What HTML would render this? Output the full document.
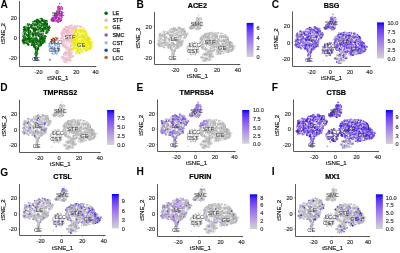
<!DOCTYPE html><html><head><meta charset="utf-8"><style>html,body{margin:0;padding:0;background:#fff;width:400px;height:253px;overflow:hidden}svg{display:block;will-change:transform}text{font-family:"Liberation Sans",sans-serif}</style></head><body>
<svg width="400" height="253" viewBox="0 0 400 253">
<defs>
<path id="nLE0" d="M-44 33h0M-42 33h0M-45 32h0M-43 34h0M-43 35h0M-47 34h0M-42 28h0M-43 29h0M-46 29h0M-45 24h0M-43 28h0M-42 28h0M-46 24h0M-46 18h0M-46 21h0M-47 22h0M-49 19h0M-47 17h0M-46 22h0M-43 22h0M-40 22h0M-40 20h0M-52 13h0M-51 11h0M-44 18h0M-45 19h0M-46 20h0M-48 16h0M-46 16h0M-37 17h0M-33 12h0M-37 17h0M-34 13h0M-37 15h0M-34 12h0M-69 11h0M-63 11h0M-66 8h0M-68 10h0M-65 8h0M-62 14h0M-61 12h0M-61 15h0M-59 14h0M-60 13h0M-52 9h0M-54 10h0M-46 11h0M-46 14h0M-50 9h0M-50 11h0M-38 11h0M-39 9h0M-42 12h0M-43 10h0M-34 15h0M-28 9h0M-27 9h0M-31 8h0M-26 9h0M-71 8h0M-72 8h0M-65 9h0M-63 5h0M-64 6h0M-62 9h0M-63 5h0M-60 10h0M-60 10h0M-60 8h0M-56 7h0M-54 5h0M-53 11h0M-54 7h0M-54 8h0M-52 4h0M-54 5h0M-55 10h0M-55 6h0M-43 4h0M-44 8h0M-47 4h0M-45 9h0M-37 7h0M-36 7h0M-37 6h0M-35 9h0M-33 10h0M-34 10h0M-36 8h0M-27 6h0M-30 3h0M-31 4h0M-71 0h0M-70 7h0M-74 5h0M-69 5h0M-72 6h0M-71 2h0M-69 4h0M-69 6h0M-67 3h0M-65 2h0M-60 4h0M-62 3h0M-61 1h0M-60 2h0M-63 1h0M-54 1h0M-53 1h0M-55 -1h0M-47 1h0M-47 1h0M-45 5h0M-44 1h0M-45 1h0M-43 2h0M-43 1h0M-33 0h0M-34 -2h0M-37 -1h0M-32 2h0M-32 -2h0M-36 3h0M-30 2h0M-36 0h0M-33 0h0M-30 -1h0M-35 4h0M-28 0h0M-70 -3h0M-71 -3h0M-62 -3h0M-63 -5h0M-58 -6h0M-59 -7h0M-59 -7h0M-57 -3h0M-61 -5h0M-51 -5h0M-51 -2h0M-50 -4h0M-51 -3h0M-51 -4h0M-47 -6h0M-47 -7h0M-43 -7h0M-43 -6h0M-46 -9h0M-39 -8h0M-38 -5h0M-39 -5h0M-30 -2h0M-32 -1h0M-35 -2h0M-28 -2h0M-32 -1h0M-30 -4h0M-30 1h0M-30 -1h0M-69 -8h0M-69 -11h0M-70 -13h0M-68 -10h0M-68 -10h0M-64 -7h0M-65 -5h0M-68 -8h0M-57 -14h0M-57 -14h0M-55 -12h0M-61 -11h0M-60 -13h0M-59 -10h0M-53 -6h0M-51 -8h0M-51 -7h0M-53 -6h0M-48 -6h0M-49 -12h0M-47 -6h0M-51 -7h0M-46 -11h0M-49 -8h0M-51 -12h0M-51 -9h0M-51 -6h0M-47 -12h0M-47 -7h0M-48 -12h0M-43 -10h0M-39 -9h0M-39 -8h0M-39 -6h0M-37 -5h0M-37 -5h0M-39 -6h0M-38 -8h0M-37 -8h0M-38 -9h0M-30 -8h0M-30 -8h0M-33 -8h0M-24 -9h0M-20 -11h0M-22 -11h0M-24 -12h0M-22 -10h0M-25 -10h0M-69 -17h0M-70 -15h0M-67 -15h0M-58 -13h0M-58 -11h0M-60 -15h0M-57 -14h0M-58 -14h0M-47 -18h0M-46 -16h0M-51 -18h0M-47 -17h0M-47 -16h0M-50 -14h0M-51 -19h0M-50 -18h0M-50 -16h0M-49 -13h0M-48 -17h0M-47 -13h0M-48 -16h0M-29 -14h0M-32 -16h0M-33 -13h0M-31 -16h0M-21 -14h0M-20 -17h0M-22 -15h0M-61 -19h0M-63 -17h0M-59 -18h0M-58 -20h0M-61 -19h0M-60 -20h0M-52 -20h0M-53 -19h0M-49 -20h0M-47 -16h0M-50 -17h0M-46 -19h0M-45 -19h0M-46 -16h0M-42 -21h0M-43 -17h0M-44 -18h0M-35 -18h0M-36 -15h0M-35 -17h0M-27 -21h0M-29 -21h0M-32 -20h0M-29 -18h0M-31 -17h0M-21 -17h0M-22 -22h0M-26 -18h0M-25 -20h0M-15 -21h0M-16 -22h0M-19 -21h0M-18 -18h0M-21 -19h0M-21 -21h0M-71 -22h0M-68 -22h0M-70 -20h0M-60 -26h0M-62 -28h0M-53 -25h0M-55 -26h0M-47 -26h0M-49 -26h0M-47 -27h0M-37 -21h0M-37 -24h0M-32 -23h0M-34 -23h0M-35 -22h0M-28 -24h0M-27 -27h0M-25 -26h0M-26 -27h0M-43 -28h0M-44 -27h0M-49 -26h0M-48 -25h0M-46 -29h0M-48 -26h0M-48 -25h0M-48 -28h0M-48 -26h0M-45 -25h0M-45 -31h0M-41 -29h0M-37 -31h0M-43 -33h0M-40 -30h0M-36 -28h0M-36 -31h0M-29 -26h0M-32 -26h0M-30 -26h0M-33 -28h0M-24 -25h0M-22 -28h0M-21 -28h0M-27 -31h0M-47 -31h0M-47 -32h0M-52 -30h0M-48 -32h0M-42 -37h0M-44 -32h0M-41 -35h0M-45 -35h0M-45 -31h0M-43 -33h0M-42 -37h0M-41 -32h0M-41 -31h0M-32 -34h0M-33 -35h0M-27 -35h0M-23 -35h0M-26 -30h0M-23 -31h0M-33 -39h0M-30 -37h0M-31 -38h0M-39 -37h0M-68 -14h0M-52 2h0M-32 -28h0M-54 9h0M-30 5h0M-37 4h0M-49 5h0M-52 5h0M-50 2h0M-35 -33h0M-35 11h0M-21 -26h0M-37 -16h0M-69 3h0M-43 30h0M-20 -23h0M-44 -2h0M-70 6h0M-68 -21h0M-49 7h0M-30 -29h0M-47 4h0M-42 -8h0M-22 -15h0M-65 9h0M-41 23h0M-44 34h0M-44 36h0M-43 33h0M-43 33h0M-43 29h0M-42 28h0M-43 37h0M-43 28h0M-40 21h0"/>
<path id="dLE0" d="M-45 29h0M-44 31h0M-49 17h0M-53 12h0M-49 12h0M-48 19h0M-36 12h0M-69 11h0M-70 11h0M-63 11h0M-39 16h0M-33 11h0M-70 8h0M-57 9h0M-54 8h0M-42 8h0M-45 7h0M-39 6h0M-39 9h0M-26 5h0M-71 0h0M-71 5h0M-63 3h0M-62 3h0M-59 1h0M-63 3h0M-47 3h0M-46 6h0M-44 4h0M-43 4h0M-36 1h0M-34 2h0M-25 -2h0M-26 1h0M-60 -3h0M-35 -5h0M-38 -8h0M-36 -5h0M-31 0h0M-32 -2h0M-30 -4h0M-66 -9h0M-60 -11h0M-61 -12h0M-56 -13h0M-53 -6h0M-52 -9h0M-50 -9h0M-43 -10h0M-36 -7h0M-36 -5h0M-22 -12h0M-68 -19h0M-67 -17h0M-67 -14h0M-60 -15h0M-50 -16h0M-49 -16h0M-34 -15h0M-33 -13h0M-32 -15h0M-18 -17h0M-22 -13h0M-18 -15h0M-65 -19h0M-62 -17h0M-36 -20h0M-24 -20h0M-23 -22h0M-19 -18h0M-63 -26h0M-58 -26h0M-53 -23h0M-49 -28h0M-45 -29h0M-35 -22h0M-47 -26h0M-45 -27h0M-42 -35h0M-40 -29h0M-38 -31h0M-24 -32h0M-21 -28h0M-27 -29h0M-22 -26h0M-40 -36h0M-40 -30h0M-26 -35h0M-23 -35h0M-26 -34h0M-22 -14h0M-33 0h0M-63 -24h0M-28 -30h0M-40 19h0M-32 -4h0M-45 -8h0M-35 -30h0M-72 -6h0M-55 -24h0M-51 -9h0M-41 24h0M-42 26h0M-41 23h0M-44 34h0"/>
<path id="nLE1" d="M-46 35h0M-45 32h0M-45 31h0M-45 32h0M-44 32h0M-46 25h0M-46 24h0M-47 32h0M-46 31h0M-44 28h0M-43 26h0M-45 18h0M-46 19h0M-47 16h0M-43 21h0M-53 15h0M-55 15h0M-50 15h0M-53 15h0M-48 18h0M-40 17h0M-40 18h0M-34 15h0M-37 13h0M-37 15h0M-37 16h0M-35 14h0M-69 10h0M-71 9h0M-65 12h0M-66 8h0M-64 9h0M-62 13h0M-61 15h0M-53 9h0M-54 10h0M-54 12h0M-50 13h0M-48 9h0M-46 13h0M-47 11h0M-41 15h0M-42 13h0M-38 15h0M-40 15h0M-40 10h0M-37 13h0M-33 11h0M-28 8h0M-30 10h0M-31 12h0M-30 9h0M-28 6h0M-31 9h0M-73 5h0M-70 9h0M-71 7h0M-65 5h0M-64 9h0M-63 9h0M-64 8h0M-58 8h0M-59 7h0M-59 9h0M-54 10h0M-52 9h0M-53 6h0M-54 5h0M-55 6h0M-56 9h0M-51 7h0M-44 6h0M-41 8h0M-44 4h0M-41 6h0M-45 10h0M-44 7h0M-43 9h0M-35 6h0M-39 9h0M-40 7h0M-35 11h0M-34 7h0M-36 10h0M-35 8h0M-36 10h0M-27 5h0M-28 3h0M-70 7h0M-69 6h0M-69 6h0M-72 5h0M-71 5h0M-68 6h0M-73 5h0M-66 2h0M-66 0h0M-65 1h0M-65 3h0M-64 2h0M-67 0h0M-59 3h0M-58 4h0M-59 0h0M-57 2h0M-61 0h0M-59 1h0M-56 4h0M-62 1h0M-56 2h0M-55 2h0M-53 -1h0M-53 0h0M-47 1h0M-46 2h0M-42 5h0M-41 4h0M-45 4h0M-36 0h0M-35 -3h0M-34 -2h0M-29 1h0M-30 5h0M-33 1h0M-31 5h0M-33 2h0M-29 3h0M-33 2h0M-32 6h0M-31 3h0M-25 1h0M-25 -3h0M-27 -1h0M-28 0h0M-67 -3h0M-70 -2h0M-69 -4h0M-71 -4h0M-63 -4h0M-57 -4h0M-62 -5h0M-59 -2h0M-58 -6h0M-61 -5h0M-60 -3h0M-50 -5h0M-51 -2h0M-46 -4h0M-43 -10h0M-43 -7h0M-42 -5h0M-46 -8h0M-45 -5h0M-47 -8h0M-37 -3h0M-37 -4h0M-34 -2h0M-35 -2h0M-34 0h0M-31 -2h0M-26 -1h0M-30 0h0M-32 -3h0M-29 -1h0M-27 0h0M-69 -10h0M-70 -9h0M-64 -7h0M-69 -9h0M-60 -11h0M-57 -8h0M-60 -12h0M-57 -11h0M-59 -10h0M-58 -8h0M-55 -9h0M-55 -7h0M-53 -6h0M-53 -8h0M-51 -9h0M-47 -8h0M-52 -7h0M-48 -12h0M-50 -9h0M-52 -10h0M-49 -6h0M-47 -6h0M-40 -11h0M-38 -6h0M-41 -7h0M-40 -4h0M-39 -5h0M-36 -8h0M-38 -6h0M-36 -8h0M-35 -9h0M-37 -9h0M-30 -9h0M-33 -8h0M-34 -7h0M-34 -9h0M-31 -10h0M-30 -8h0M-32 -9h0M-23 -9h0M-23 -11h0M-70 -17h0M-66 -15h0M-64 -19h0M-65 -15h0M-66 -17h0M-63 -15h0M-61 -11h0M-61 -12h0M-51 -16h0M-48 -16h0M-46 -16h0M-49 -15h0M-44 -16h0M-48 -16h0M-30 -18h0M-31 -14h0M-34 -15h0M-34 -15h0M-30 -14h0M-31 -15h0M-29 -16h0M-27 -16h0M-30 -14h0M-17 -15h0M-22 -15h0M-21 -17h0M-63 -18h0M-64 -15h0M-63 -18h0M-62 -16h0M-62 -17h0M-58 -21h0M-58 -18h0M-63 -21h0M-54 -23h0M-50 -19h0M-48 -17h0M-48 -19h0M-43 -18h0M-38 -19h0M-38 -18h0M-40 -16h0M-39 -17h0M-42 -21h0M-35 -17h0M-36 -18h0M-38 -16h0M-34 -19h0M-29 -17h0M-29 -22h0M-27 -19h0M-30 -17h0M-29 -18h0M-31 -17h0M-32 -20h0M-23 -20h0M-25 -19h0M-23 -22h0M-22 -18h0M-24 -23h0M-20 -21h0M-21 -20h0M-20 -19h0M-20 -20h0M-17 -20h0M-21 -22h0M-17 -22h0M-67 -23h0M-68 -22h0M-69 -20h0M-61 -25h0M-63 -28h0M-62 -28h0M-61 -24h0M-56 -26h0M-55 -23h0M-55 -26h0M-48 -28h0M-47 -26h0M-51 -26h0M-39 -24h0M-38 -22h0M-36 -23h0M-27 -27h0M-44 -25h0M-42 -26h0M-46 -28h0M-48 -26h0M-45 -30h0M-48 -24h0M-41 -28h0M-42 -32h0M-39 -32h0M-41 -32h0M-43 -31h0M-40 -33h0M-42 -28h0M-41 -31h0M-43 -34h0M-38 -31h0M-35 -32h0M-39 -31h0M-33 -28h0M-33 -28h0M-29 -29h0M-32 -28h0M-25 -29h0M-23 -30h0M-24 -27h0M-26 -28h0M-28 -27h0M-24 -25h0M-23 -30h0M-24 -32h0M-21 -28h0M-49 -31h0M-48 -33h0M-51 -29h0M-47 -31h0M-45 -33h0M-44 -32h0M-41 -36h0M-41 -34h0M-38 -34h0M-30 -33h0M-31 -33h0M-29 -33h0M-31 -36h0M-33 -35h0M-31 -35h0M-27 -32h0M-24 -32h0M-25 -28h0M-28 -34h0M-25 -30h0M-26 -29h0M-25 -32h0M-33 -35h0M-33 -39h0M-34 -36h0M-31 -37h0M-31 -36h0M-32 -14h0M-38 14h0M-66 -13h0M-25 -22h0M-60 -15h0M-49 -17h0M-71 12h0M-45 -29h0M-45 -35h0M-36 16h0M-59 -27h0M-43 23h0M-24 -33h0M-31 -4h0M-36 -39h0M-34 -26h0M-40 -20h0M-46 -8h0M-36 13h0M-64 10h0M-49 -24h0M-26 -35h0M-21 -10h0M-23 -25h0M-32 -6h0M-38 3h0M-49 4h0M-39 -4h0M-48 -27h0M-56 -21h0M-40 -22h0M-64 -12h0M-32 7h0M-40 22h0M-39 20h0M-42 24h0M-41 32h0M-43 30h0M-40 21h0M-41 32h0M-41 22h0M-42 31h0"/>
<path id="dLE1" d="M-43 29h0M-50 17h0M-49 13h0M-52 12h0M-53 15h0M-53 14h0M-67 10h0M-66 9h0M-66 8h0M-48 14h0M-48 11h0M-37 13h0M-36 13h0M-43 13h0M-35 16h0M-27 6h0M-42 5h0M-38 7h0M-38 6h0M-34 7h0M-73 6h0M-72 3h0M-67 0h0M-58 -1h0M-58 2h0M-43 1h0M-34 3h0M-36 2h0M-27 -2h0M-27 -4h0M-38 -3h0M-39 -3h0M-30 -1h0M-33 0h0M-71 -12h0M-52 -8h0M-38 -5h0M-36 -7h0M-42 -4h0M-42 -9h0M-38 -7h0M-70 -16h0M-71 -17h0M-66 -20h0M-58 -11h0M-49 -17h0M-50 -19h0M-47 -17h0M-32 -18h0M-34 -13h0M-29 -14h0M-20 -17h0M-18 -14h0M-64 -18h0M-64 -17h0M-61 -18h0M-63 -18h0M-59 -19h0M-61 -16h0M-56 -22h0M-51 -21h0M-46 -17h0M-46 -20h0M-40 -19h0M-28 -18h0M-21 -23h0M-26 -19h0M-19 -21h0M-20 -23h0M-54 -23h0M-55 -26h0M-45 -26h0M-43 -26h0M-45 -25h0M-36 -23h0M-29 -25h0M-40 -34h0M-38 -32h0M-37 -30h0M-22 -29h0M-21 -27h0M-24 -31h0M-22 -27h0M-50 -29h0M-51 -33h0M-47 -33h0M-48 -34h0M-43 -37h0M-42 -37h0M-41 -31h0M-43 -34h0M-21 -34h0M-24 -32h0M-30 -35h0M-31 -37h0M-17 -24h0M-45 -14h0M-44 31h0M-49 10h0M-65 -6h0M-27 -35h0M-41 20h0M-38 -31h0M-43 35h0M-40 22h0M-42 28h0M-45 38h0M-44 35h0"/>
<path id="nLE2" d="M-44 32h0M-44 29h0M-45 34h0M-43 31h0M-43 26h0M-45 28h0M-46 30h0M-48 16h0M-49 16h0M-44 22h0M-42 22h0M-43 22h0M-52 11h0M-53 14h0M-52 13h0M-54 15h0M-54 13h0M-51 14h0M-48 18h0M-47 17h0M-46 17h0M-46 19h0M-38 16h0M-37 15h0M-39 16h0M-37 16h0M-36 12h0M-36 12h0M-33 15h0M-68 10h0M-69 9h0M-70 10h0M-71 10h0M-70 8h0M-69 12h0M-66 11h0M-64 9h0M-66 9h0M-54 12h0M-52 10h0M-52 11h0M-50 9h0M-47 11h0M-50 12h0M-48 11h0M-36 11h0M-43 11h0M-38 10h0M-42 11h0M-36 13h0M-40 13h0M-43 13h0M-41 11h0M-36 12h0M-35 15h0M-33 13h0M-33 13h0M-33 12h0M-26 7h0M-28 8h0M-29 9h0M-30 10h0M-28 9h0M-70 6h0M-72 10h0M-72 7h0M-66 7h0M-65 9h0M-65 8h0M-58 9h0M-57 9h0M-60 8h0M-50 8h0M-51 6h0M-51 6h0M-54 11h0M-53 10h0M-52 10h0M-49 9h0M-45 10h0M-47 5h0M-45 9h0M-44 10h0M-47 9h0M-42 6h0M-46 6h0M-46 5h0M-37 7h0M-40 8h0M-39 9h0M-34 11h0M-37 8h0M-33 7h0M-27 5h0M-30 4h0M-30 3h0M-71 7h0M-68 5h0M-67 4h0M-71 1h0M-67 3h0M-64 1h0M-63 5h0M-68 1h0M-58 5h0M-58 -1h0M-59 6h0M-56 4h0M-58 6h0M-60 2h0M-61 5h0M-57 1h0M-55 1h0M-45 2h0M-46 4h0M-44 6h0M-44 1h0M-45 1h0M-47 3h0M-47 5h0M-34 0h0M-35 -2h0M-34 -3h0M-35 0h0M-36 1h0M-33 -1h0M-34 3h0M-29 3h0M-28 -1h0M-28 2h0M-28 -3h0M-26 1h0M-25 2h0M-25 -3h0M-26 1h0M-23 -3h0M-70 -4h0M-70 -5h0M-70 -1h0M-71 -3h0M-68 -2h0M-68 -3h0M-60 -7h0M-60 -5h0M-59 -4h0M-62 -5h0M-59 -3h0M-61 -3h0M-58 -5h0M-51 -4h0M-49 -2h0M-44 -5h0M-46 -4h0M-46 -4h0M-44 -9h0M-44 -5h0M-44 -8h0M-34 -3h0M-36 -9h0M-33 -5h0M-40 -5h0M-39 -5h0M-37 -9h0M-34 -6h0M-37 -2h0M-39 -9h0M-37 -4h0M-38 -6h0M-30 -2h0M-31 -4h0M-32 -5h0M-30 -4h0M-35 -5h0M-35 -1h0M-29 -5h0M-29 -3h0M-30 -2h0M-29 -5h0M-72 -10h0M-67 -11h0M-65 -6h0M-69 -7h0M-68 -6h0M-64 -7h0M-65 -4h0M-68 -8h0M-64 -6h0M-57 -10h0M-58 -10h0M-53 -10h0M-48 -8h0M-46 -12h0M-48 -8h0M-50 -6h0M-50 -7h0M-47 -13h0M-43 -6h0M-44 -6h0M-40 -6h0M-39 -8h0M-41 -6h0M-39 -4h0M-32 -10h0M-30 -8h0M-34 -6h0M-21 -10h0M-22 -10h0M-23 -12h0M-70 -15h0M-69 -18h0M-65 -20h0M-65 -14h0M-65 -16h0M-63 -16h0M-63 -16h0M-64 -16h0M-62 -16h0M-66 -16h0M-66 -19h0M-61 -12h0M-48 -20h0M-48 -20h0M-49 -16h0M-49 -17h0M-47 -15h0M-46 -16h0M-48 -13h0M-47 -13h0M-30 -14h0M-28 -16h0M-30 -13h0M-28 -13h0M-29 -13h0M-29 -16h0M-20 -12h0M-64 -19h0M-63 -17h0M-60 -20h0M-61 -20h0M-53 -19h0M-53 -20h0M-56 -22h0M-54 -20h0M-54 -23h0M-54 -22h0M-50 -17h0M-49 -16h0M-46 -20h0M-43 -19h0M-40 -16h0M-42 -17h0M-39 -20h0M-41 -16h0M-35 -20h0M-36 -15h0M-36 -18h0M-33 -18h0M-31 -19h0M-31 -18h0M-29 -17h0M-27 -22h0M-25 -16h0M-21 -21h0M-25 -22h0M-22 -23h0M-19 -19h0M-27 -20h0M-22 -20h0M-20 -20h0M-17 -23h0M-69 -22h0M-69 -20h0M-69 -23h0M-59 -28h0M-54 -22h0M-53 -25h0M-56 -22h0M-56 -22h0M-50 -25h0M-47 -28h0M-49 -25h0M-50 -25h0M-45 -24h0M-45 -24h0M-47 -26h0M-45 -27h0M-44 -24h0M-44 -28h0M-45 -24h0M-47 -26h0M-44 -26h0M-39 -22h0M-39 -23h0M-37 -23h0M-37 -21h0M-37 -24h0M-36 -23h0M-37 -26h0M-33 -25h0M-29 -24h0M-29 -24h0M-27 -27h0M-44 -24h0M-47 -30h0M-47 -28h0M-44 -25h0M-40 -32h0M-39 -33h0M-40 -34h0M-40 -27h0M-34 -31h0M-35 -30h0M-36 -32h0M-39 -31h0M-37 -32h0M-39 -33h0M-35 -32h0M-37 -28h0M-32 -25h0M-31 -28h0M-33 -29h0M-24 -30h0M-29 -26h0M-27 -29h0M-48 -30h0M-50 -33h0M-47 -33h0M-52 -29h0M-44 -33h0M-46 -34h0M-45 -32h0M-44 -34h0M-41 -34h0M-40 -33h0M-41 -32h0M-38 -32h0M-39 -34h0M-37 -34h0M-40 -31h0M-39 -32h0M-31 -33h0M-30 -34h0M-32 -33h0M-31 -36h0M-22 -31h0M-25 -33h0M-27 -32h0M-28 -34h0M-24 -35h0M-23 -29h0M-28 -32h0M-27 -32h0M-25 -30h0M-32 -38h0M-34 -38h0M-33 -38h0M-31 -36h0M-69 1h0M-53 8h0M-56 -22h0M-36 -31h0M-41 6h0M-27 -35h0M-66 -23h0M-61 -11h0M-46 27h0M-44 25h0M-25 -30h0M-43 3h0M-50 -32h0M-50 -16h0M-27 -1h0M-37 -11h0M-46 8h0M-36 -23h0M-28 -16h0M-45 -33h0M-35 -12h0M-57 9h0M-44 -32h0M-52 -4h0M-43 7h0M-44 32h0M-42 26h0M-45 36h0M-41 25h0M-39 23h0M-41 22h0M-44 39h0M-42 31h0M-44 35h0M-40 20h0"/>
<path id="dLE2" d="M-45 32h0M-40 21h0M-50 14h0M-48 19h0M-46 21h0M-33 12h0M-68 10h0M-61 13h0M-52 9h0M-49 11h0M-37 13h0M-30 11h0M-30 8h0M-72 8h0M-58 8h0M-50 7h0M-50 5h0M-42 6h0M-44 9h0M-41 7h0M-41 7h0M-35 8h0M-35 9h0M-33 6h0M-37 9h0M-29 5h0M-28 2h0M-71 7h0M-69 5h0M-63 2h0M-61 1h0M-44 1h0M-43 4h0M-43 4h0M-35 -3h0M-33 -2h0M-30 0h0M-34 4h0M-25 -5h0M-71 -4h0M-61 -7h0M-61 -3h0M-60 -5h0M-61 -1h0M-33 -7h0M-31 0h0M-32 -5h0M-34 0h0M-28 -5h0M-68 -8h0M-60 -9h0M-56 -10h0M-51 -6h0M-36 -6h0M-41 -6h0M-42 -11h0M-39 -10h0M-38 -5h0M-67 -17h0M-69 -16h0M-60 -15h0M-57 -14h0M-46 -15h0M-29 -12h0M-20 -12h0M-61 -22h0M-61 -21h0M-56 -22h0M-49 -16h0M-38 -18h0M-43 -15h0M-31 -17h0M-20 -18h0M-24 -18h0M-22 -18h0M-24 -21h0M-16 -19h0M-70 -21h0M-61 -25h0M-53 -26h0M-50 -28h0M-38 -20h0M-34 -25h0M-36 -22h0M-27 -26h0M-47 -26h0M-45 -27h0M-43 -32h0M-42 -29h0M-40 -35h0M-23 -27h0M-26 -29h0M-21 -29h0M-28 -25h0M-22 -26h0M-47 -34h0M-37 -32h0M-33 -35h0M-59 8h0M-42 -23h0M-33 -14h0M-73 -3h0M-43 27h0M-43 27h0M-41 23h0"/>
<path id="nSTF0" d="M18 48h0M14 45h0M14 49h0M13 48h0M14 47h0M17 43h0M13 48h0M17 46h0M14 46h0M18 41h0M18 43h0M17 42h0M19 45h0M20 43h0M24 46h0M24 46h0M9 40h0M13 40h0M13 37h0M10 41h0M10 39h0M20 42h0M21 43h0M17 42h0M16 42h0M21 45h0M20 43h0M19 44h0M28 37h0M25 36h0M30 39h0M28 35h0M17 34h0M17 31h0M19 31h0M20 36h0M18 35h0M24 36h0M29 34h0M29 30h0M26 32h0M28 32h0M26 33h0M32 36h0M34 36h0M30 36h0M34 36h0M33 37h0M14 31h0M14 31h0M23 31h0M23 28h0M24 32h0M22 30h0M21 30h0M21 31h0M23 31h0M31 32h0M29 32h0M28 30h0M26 31h0M26 28h0M27 31h0M28 30h0M24 25h0M21 26h0M25 25h0M27 23h0M25 25h0M25 22h0M31 25h0M31 21h0M18 19h0M20 19h0M18 16h0M16 19h0M20 21h0M18 22h0M28 21h0M27 23h0M30 22h0M29 25h0M29 23h0M11 13h0M13 18h0M13 17h0M11 13h0M11 16h0M14 11h0M29 16h0M29 15h0M28 16h0M14 12h0M15 8h0M15 12h0M15 11h0M14 7h0M12 11h0M11 9h0M9 11h0M10 9h0M11 12h0M24 7h0M25 9h0M26 6h0M28 9h0M29 6h0M28 7h0M9 -1h0M10 0h0M10 2h0M15 6h0M11 6h0M12 7h0M13 4h0M20 8h0M20 6h0M21 4h0M26 5h0M25 2h0M28 2h0M24 6h0M27 5h0M23 2h0M28 4h0M12 -3h0M10 2h0M10 -2h0M13 -1h0M19 0h0M25 -3h0M23 3h0M30 0h0M9 -6h0M7 -8h0M8 -9h0M10 -8h0M16 -8h0M9 -7h0M10 -8h0M17 -7h0M10 -6h0M12 -9h0M12 -4h0M24 -11h0M24 -5h0M21 -8h0M25 -10h0M21 -7h0M21 -8h0M26 -5h0M28 -6h0M25 -9h0M9 -8h0M11 -11h0M23 -11h0M22 -15h0M21 -13h0M20 -10h0M21 -10h0M23 -14h0M21 -12h0M21 -11h0M19 -12h0M24 -7h0M28 -13h0M31 -12h0M26 -15h0M29 -12h0M31 -12h0M29 -12h0M26 -13h0M17 -17h0M17 -15h0M16 -17h0M16 -14h0M16 -20h0M22 -19h0M18 -15h0M24 -17h0M18 -18h0M21 -21h0M26 -19h0M24 -17h0M23 -18h0M56 -19h0M18 -22h0M18 -22h0M26 -19h0M22 -21h0M27 -21h0M23 -19h0M23 -23h0M22 -23h0M24 -22h0M22 -23h0M33 -20h0M32 -22h0M32 -23h0M37 -24h0M36 -18h0M33 -20h0M36 -23h0M34 -21h0M39 -21h0M49 -23h0M25 -24h0M42 -23h0M36 -24h0M43 -25h0M48 -22h0M18 4h0M21 -13h0M18 17h0M20 26h0M27 -20h0M19 -10h0M24 37h0M29 -16h0M16 -5h0M27 2h0M8 -1h0M27 47h0M10 -4h0M10 2h0M29 5h0M19 4h0M25 -6h0"/>
<path id="dSTF0" d="M19 47h0M21 47h0M17 41h0M24 46h0M12 41h0M17 41h0M27 36h0M28 36h0M19 33h0M16 34h0M17 33h0M19 34h0M24 34h0M28 31h0M33 38h0M31 38h0M33 38h0M23 26h0M23 21h0M22 21h0M28 23h0M29 25h0M17 17h0M16 18h0M14 17h0M13 12h0M10 10h0M26 8h0M8 1h0M12 3h0M13 6h0M20 8h0M30 4h0M30 5h0M30 6h0M30 7h0M10 -2h0M19 1h0M23 1h0M23 -4h0M23 -5h0M22 -5h0M22 -6h0M25 -8h0M32 -4h0M13 -15h0M11 -15h0M23 -14h0M23 -14h0M25 -8h0M24 -11h0M23 -13h0M20 -13h0M26 -13h0M29 -12h0M16 -16h0M15 -13h0M17 -15h0M14 -16h0M17 -13h0M20 -21h0M18 -17h0M17 -23h0M26 -20h0M31 -23h0M33 -22h0M29 -22h0M42 -22h0M41 -24h0M41 -23h0M44 -24h0M15 39h0M23 2h0M22 -16h0M26 -1h0M25 -4h0M43 -24h0M12 0h0M28 -7h0M28 14h0"/>
<path id="nSTF1" d="M13 48h0M15 49h0M21 46h0M17 50h0M14 48h0M16 49h0M18 50h0M14 45h0M22 42h0M18 45h0M26 46h0M28 46h0M25 44h0M23 46h0M28 45h0M10 39h0M12 40h0M10 38h0M10 41h0M11 41h0M19 39h0M17 45h0M16 44h0M19 45h0M22 42h0M17 40h0M28 38h0M26 40h0M24 40h0M27 36h0M19 31h0M21 34h0M18 35h0M18 34h0M18 31h0M30 35h0M28 35h0M27 36h0M30 36h0M27 35h0M29 36h0M28 37h0M23 31h0M25 32h0M26 34h0M29 31h0M33 37h0M33 37h0M19 31h0M15 29h0M16 29h0M27 29h0M27 27h0M28 30h0M31 29h0M25 30h0M25 32h0M21 23h0M24 23h0M23 24h0M23 25h0M21 26h0M22 26h0M24 20h0M27 18h0M24 23h0M28 19h0M24 24h0M24 21h0M27 22h0M20 18h0M18 23h0M16 19h0M19 20h0M22 18h0M22 19h0M27 21h0M28 23h0M28 19h0M29 24h0M16 16h0M10 14h0M13 18h0M18 14h0M14 19h0M13 17h0M12 16h0M28 15h0M10 6h0M12 12h0M8 8h0M10 6h0M15 10h0M13 12h0M15 10h0M11 8h0M26 7h0M24 7h0M25 9h0M29 8h0M29 6h0M31 5h0M28 7h0M8 1h0M7 2h0M10 1h0M8 -1h0M12 3h0M14 4h0M20 6h0M22 6h0M23 4h0M18 3h0M23 6h0M26 3h0M23 4h0M26 4h0M27 2h0M13 0h0M11 2h0M11 1h0M22 0h0M19 -1h0M18 1h0M19 1h0M21 -1h0M22 0h0M22 1h0M25 2h0M20 0h0M21 3h0M27 0h0M26 -3h0M26 -1h0M24 1h0M20 0h0M24 -2h0M20 -3h0M30 1h0M32 1h0M31 -1h0M30 2h0M10 -7h0M16 -5h0M11 -6h0M15 -3h0M14 -3h0M14 -4h0M21 -7h0M24 -5h0M21 -8h0M25 -9h0M19 -8h0M21 -6h0M24 -6h0M28 -6h0M27 -5h0M22 -6h0M26 -5h0M23 -5h0M10 -7h0M9 -9h0M9 -9h0M9 -10h0M10 -11h0M12 -15h0M10 -13h0M13 -16h0M20 -15h0M20 -10h0M17 -11h0M20 -11h0M17 -13h0M20 -11h0M21 -10h0M20 -13h0M26 -11h0M19 -11h0M20 -9h0M23 -12h0M19 -10h0M20 -11h0M28 -12h0M25 -13h0M27 -10h0M29 -14h0M26 -10h0M16 -13h0M15 -17h0M19 -19h0M17 -15h0M18 -13h0M14 -14h0M19 -17h0M17 -14h0M21 -18h0M18 -18h0M24 -18h0M26 -17h0M27 -19h0M22 -17h0M24 -17h0M32 -15h0M33 -16h0M32 -18h0M31 -15h0M32 -14h0M37 -17h0M19 -22h0M18 -21h0M16 -19h0M17 -22h0M24 -23h0M26 -24h0M26 -23h0M28 -22h0M25 -22h0M26 -21h0M32 -22h0M30 -19h0M31 -22h0M33 -23h0M33 -20h0M39 -20h0M34 -20h0M36 -19h0M36 -21h0M37 -21h0M37 -22h0M38 -18h0M38 -19h0M41 -19h0M41 -21h0M37 -21h0M53 -21h0M30 -26h0M28 -25h0M32 -24h0M30 -23h0M29 -24h0M29 -25h0M38 -24h0M37 -22h0M40 -22h0M37 -22h0M41 -22h0M37 -22h0M29 5h0M14 -5h0M14 8h0M15 -15h0M12 38h0M18 0h0M20 11h0M16 -5h0M12 44h0M25 -11h0M12 -9h0M24 35h0M25 -5h0M23 43h0M26 37h0M18 46h0M26 40h0M18 18h0M25 -16h0M29 21h0M17 30h0M16 -11h0M31 -9h0"/>
<path id="dSTF1" d="M17 50h0M16 45h0M21 42h0M27 46h0M13 40h0M9 39h0M22 43h0M17 43h0M28 40h0M26 37h0M29 39h0M28 37h0M30 40h0M30 39h0M16 32h0M18 31h0M19 34h0M22 34h0M28 37h0M26 34h0M29 32h0M31 38h0M16 31h0M17 29h0M21 31h0M25 31h0M27 33h0M25 24h0M28 20h0M27 25h0M22 19h0M27 22h0M28 19h0M16 17h0M14 15h0M12 16h0M28 16h0M11 9h0M11 14h0M27 7h0M29 9h0M13 3h0M13 6h0M29 6h0M21 -1h0M15 -8h0M12 -10h0M12 -5h0M27 -4h0M24 -3h0M27 -6h0M27 -5h0M9 -10h0M9 -8h0M9 -7h0M14 -15h0M10 -12h0M20 -11h0M25 -13h0M16 -18h0M15 -17h0M18 -20h0M18 -16h0M19 -14h0M21 -15h0M19 -18h0M24 -17h0M23 -21h0M33 -16h0M35 -17h0M25 -20h0M37 -22h0M36 -20h0M50 -23h0M25 -24h0M26 -23h0M16 41h0M33 -9h0M13 34h0M12 15h0"/>
<path id="nSTF2" d="M15 48h0M15 49h0M17 45h0M20 46h0M18 50h0M18 48h0M18 43h0M21 42h0M20 42h0M24 45h0M27 45h0M23 46h0M26 48h0M13 38h0M14 41h0M13 40h0M13 42h0M19 39h0M23 43h0M20 44h0M19 43h0M22 40h0M27 41h0M24 37h0M26 42h0M26 36h0M28 41h0M28 37h0M30 39h0M31 39h0M30 36h0M15 31h0M19 33h0M17 32h0M18 33h0M20 34h0M18 34h0M27 34h0M26 36h0M28 32h0M30 38h0M15 32h0M17 29h0M19 31h0M17 33h0M15 31h0M23 31h0M21 30h0M25 29h0M23 28h0M28 28h0M28 28h0M31 30h0M27 29h0M31 30h0M32 31h0M28 26h0M29 30h0M25 24h0M25 26h0M23 26h0M20 24h0M20 24h0M25 21h0M28 19h0M29 22h0M26 24h0M26 26h0M23 23h0M27 19h0M26 20h0M27 20h0M31 23h0M30 23h0M61 27h0M16 18h0M18 18h0M21 18h0M20 20h0M29 23h0M28 21h0M30 22h0M15 12h0M11 16h0M13 11h0M16 12h0M13 17h0M14 15h0M30 17h0M28 14h0M30 16h0M27 15h0M28 11h0M27 15h0M10 13h0M11 10h0M8 9h0M27 7h0M27 9h0M26 10h0M24 5h0M29 9h0M30 10h0M29 11h0M11 3h0M8 2h0M13 5h0M12 3h0M18 6h0M23 6h0M20 3h0M19 2h0M18 5h0M23 2h0M23 5h0M28 6h0M26 3h0M28 6h0M23 4h0M22 3h0M12 0h0M11 -2h0M19 -3h0M24 2h0M21 1h0M23 -1h0M25 -1h0M26 0h0M24 2h0M23 0h0M22 -2h0M24 -4h0M31 0h0M9 -9h0M11 -7h0M9 -9h0M15 -3h0M11 -7h0M15 -4h0M13 -4h0M15 -9h0M11 -6h0M10 -6h0M13 -9h0M11 -8h0M21 -10h0M24 -9h0M24 -8h0M20 -6h0M22 -9h0M22 -7h0M26 -7h0M28 -7h0M25 -6h0M25 -4h0M25 -9h0M32 -8h0M31 -6h0M11 -10h0M8 -11h0M11 -8h0M9 -8h0M12 -11h0M9 -11h0M13 -12h0M10 -14h0M11 -16h0M11 -13h0M16 -12h0M18 -13h0M17 -12h0M21 -10h0M24 -10h0M23 -15h0M24 -11h0M23 -11h0M21 -9h0M24 -8h0M23 -10h0M24 -9h0M24 -10h0M20 -12h0M29 -14h0M31 -10h0M29 -10h0M16 -14h0M19 -16h0M20 -17h0M12 -18h0M23 -19h0M21 -16h0M22 -17h0M20 -17h0M18 -15h0M20 -20h0M19 -18h0M24 -19h0M27 -19h0M23 -19h0M23 -19h0M26 -19h0M26 -20h0M31 -17h0M32 -15h0M33 -18h0M17 -22h0M20 -21h0M17 -21h0M18 -19h0M26 -24h0M27 -22h0M33 -23h0M29 -22h0M33 -23h0M34 -21h0M36 -18h0M32 -21h0M34 -19h0M39 -20h0M39 -22h0M40 -21h0M41 -22h0M38 -21h0M51 -22h0M30 -24h0M30 -23h0M27 -25h0M27 -24h0M32 -24h0M41 -24h0M42 -24h0M38 -22h0M39 -25h0M21 17h0M28 26h0M34 -16h0M21 31h0M7 -1h0M14 -12h0M24 -12h0M22 22h0M10 -15h0M13 1h0M20 -23h0M25 -3h0M13 -10h0M21 51h0M8 -10h0M30 -8h0M16 46h0M26 3h0M30 46h0M19 -22h0M22 42h0M12 32h0M21 39h0M47 -22h0M15 -7h0M10 -8h0M30 31h0M30 -17h0M15 -15h0"/>
<path id="dSTF2" d="M20 43h0M20 45h0M12 39h0M26 42h0M30 35h0M16 35h0M19 32h0M19 32h0M25 32h0M23 35h0M26 32h0M18 29h0M16 31h0M19 29h0M23 28h0M25 28h0M29 29h0M25 24h0M29 23h0M18 17h0M19 21h0M18 14h0M10 7h0M12 14h0M9 1h0M20 5h0M18 3h0M20 8h0M24 4h0M28 2h0M23 3h0M19 1h0M25 -1h0M32 -1h0M12 -6h0M11 -9h0M14 -11h0M19 -13h0M25 -12h0M19 -10h0M20 -16h0M23 -10h0M31 -12h0M13 -18h0M16 -19h0M22 -14h0M17 -17h0M17 -19h0M23 -21h0M30 -20h0M36 -23h0M48 -23h0M30 -25h0M23 -17h0M31 -19h0M16 4h0M23 13h0M19 2h0M9 10h0M10 -4h0M23 28h0"/>
<path id="nGE0" d="M42 30h0M43 30h0M42 31h0M42 32h0M47 30h0M46 26h0M47 30h0M47 24h0M45 26h0M44 26h0M32 25h0M32 21h0M34 24h0M33 26h0M32 25h0M32 24h0M34 21h0M43 26h0M39 22h0M41 22h0M38 23h0M39 22h0M45 26h0M47 27h0M43 26h0M53 26h0M50 26h0M50 26h0M51 27h0M50 25h0M49 29h0M54 28h0M55 28h0M58 26h0M61 22h0M59 22h0M62 25h0M65 24h0M65 22h0M64 21h0M31 21h0M32 21h0M33 23h0M36 21h0M34 23h0M35 18h0M35 22h0M42 18h0M48 21h0M48 20h0M48 22h0M47 21h0M53 18h0M53 18h0M54 23h0M54 21h0M55 18h0M53 20h0M58 17h0M62 20h0M57 18h0M57 16h0M63 16h0M69 20h0M68 20h0M69 18h0M68 24h0M65 19h0M66 20h0M65 19h0M68 18h0M71 21h0M70 17h0M33 12h0M31 11h0M33 15h0M36 14h0M40 13h0M39 14h0M39 14h0M39 11h0M45 17h0M43 15h0M42 17h0M43 15h0M59 18h0M57 20h0M56 17h0M55 15h0M64 14h0M67 13h0M63 11h0M63 13h0M65 13h0M63 13h0M68 15h0M68 15h0M65 9h0M70 11h0M64 13h0M67 13h0M65 14h0M32 11h0M34 7h0M35 8h0M34 7h0M32 12h0M35 6h0M35 5h0M34 9h0M37 4h0M36 10h0M33 11h0M36 10h0M34 8h0M45 7h0M43 11h0M42 10h0M42 9h0M41 11h0M46 13h0M45 10h0M50 12h0M48 8h0M50 10h0M53 11h0M57 9h0M56 12h0M58 10h0M53 13h0M63 7h0M60 9h0M63 9h0M64 5h0M65 8h0M61 5h0M67 10h0M67 14h0M69 8h0M65 10h0M69 9h0M67 12h0M63 11h0M71 13h0M67 13h0M73 8h0M69 10h0M71 8h0M71 13h0M68 9h0M69 14h0M32 5h0M40 -2h0M39 3h0M40 2h0M49 9h0M51 7h0M57 8h0M55 3h0M56 8h0M56 6h0M56 3h0M58 3h0M64 6h0M58 4h0M62 2h0M60 2h0M60 6h0M70 3h0M67 5h0M68 1h0M68 2h0M63 1h0M69 4h0M65 6h0M66 4h0M69 4h0M66 3h0M63 1h0M65 -2h0M36 -3h0M36 -2h0M38 -3h0M38 1h0M38 0h0M38 3h0M37 -1h0M41 1h0M43 3h0M38 4h0M49 0h0M51 -5h0M49 -1h0M48 -3h0M49 -6h0M54 -1h0M51 0h0M58 -1h0M60 -3h0M60 -3h0M60 -2h0M58 -1h0M63 1h0M62 1h0M64 1h0M64 2h0M36 -8h0M37 -5h0M35 -2h0M33 -5h0M34 -5h0M34 -6h0M42 -6h0M39 -4h0M40 -4h0M40 -4h0M42 -1h0M48 -4h0M44 -8h0M44 -3h0M41 -3h0M44 -5h0M43 -8h0M42 -5h0M42 -6h0M43 -6h0M45 -6h0M43 0h0M56 -3h0M53 -7h0M61 -7h0M62 -5h0M62 -8h0M35 -9h0M35 -10h0M39 -12h0M38 -16h0M40 -12h0M39 -15h0M39 -15h0M37 -15h0M40 -16h0M51 -11h0M49 -10h0M52 -11h0M49 -17h0M56 -17h0M57 -13h0M57 -13h0M59 -13h0M61 -9h0M59 -8h0M60 -8h0M57 -6h0M61 -8h0M35 -14h0M39 -12h0M36 -13h0M47 -16h0M47 -16h0M45 -16h0M44 -16h0M52 -16h0M50 -15h0M50 -14h0M54 -16h0M58 -14h0M58 -15h0M58 -12h0M55 -14h0M55 -19h0M58 21h0M42 13h0M47 -20h0M62 26h0M52 -4h0M63 20h0M68 8h0M35 9h0M38 9h0M48 -12h0M45 -9h0M38 4h0M42 -9h0M58 -7h0M58 10h0"/>
<path id="dGE0" d="M49 26h0M49 26h0M47 31h0M40 26h0M43 24h0M44 23h0M44 28h0M42 23h0M44 22h0M42 22h0M45 17h0M61 20h0M62 19h0M71 18h0M34 14h0M38 14h0M43 14h0M63 11h0M65 12h0M64 12h0M36 5h0M34 7h0M43 5h0M39 10h0M42 6h0M49 11h0M65 11h0M66 9h0M63 10h0M70 11h0M32 8h0M39 3h0M36 -1h0M42 1h0M51 9h0M56 8h0M57 7h0M59 1h0M61 4h0M65 -1h0M65 5h0M37 3h0M42 4h0M37 2h0M42 4h0M49 -4h0M52 -3h0M54 -4h0M58 2h0M60 0h0M63 -2h0M65 -2h0M65 -1h0M67 0h0M35 -2h0M44 -6h0M42 -7h0M40 -3h0M45 -3h0M46 -1h0M58 -6h0M56 -7h0M56 -6h0M62 -5h0M60 -7h0M52 -13h0M48 -15h0M57 -12h0M62 -10h0M34 -14h0M35 -14h0M36 -16h0M53 -13h0M44 -6h0M54 -1h0M68 22h0M38 31h0M37 -15h0M51 13h0M33 -3h0"/>
<path id="nGE1" d="M42 30h0M40 27h0M39 31h0M42 31h0M42 32h0M44 30h0M45 30h0M46 26h0M48 25h0M34 21h0M39 24h0M43 21h0M40 25h0M40 20h0M42 27h0M42 22h0M44 22h0M41 20h0M42 21h0M42 23h0M47 28h0M47 28h0M46 28h0M46 25h0M53 24h0M52 27h0M50 26h0M51 28h0M52 27h0M49 26h0M61 26h0M61 24h0M61 23h0M59 25h0M60 25h0M60 25h0M64 23h0M65 20h0M61 22h0M65 24h0M61 23h0M31 21h0M37 19h0M34 20h0M35 20h0M36 18h0M44 22h0M43 21h0M41 21h0M44 23h0M41 22h0M48 23h0M55 16h0M54 19h0M53 19h0M61 18h0M61 14h0M61 16h0M62 17h0M61 15h0M60 16h0M67 24h0M71 21h0M69 20h0M68 23h0M68 21h0M68 22h0M71 16h0M31 11h0M31 10h0M33 15h0M38 13h0M41 13h0M45 15h0M44 15h0M44 18h0M56 16h0M59 17h0M57 16h0M63 12h0M65 13h0M64 14h0M32 12h0M32 11h0M35 9h0M34 9h0M31 8h0M32 7h0M32 8h0M36 9h0M35 8h0M34 9h0M36 11h0M34 12h0M35 9h0M31 7h0M40 6h0M38 7h0M46 9h0M48 8h0M44 11h0M47 10h0M55 12h0M58 10h0M57 10h0M52 10h0M57 9h0M51 12h0M58 10h0M56 14h0M63 10h0M61 9h0M60 8h0M63 10h0M60 8h0M64 9h0M65 9h0M70 12h0M64 10h0M66 8h0M66 9h0M66 7h0M64 10h0M69 8h0M67 11h0M71 10h0M70 7h0M33 4h0M39 2h0M38 1h0M38 -2h0M37 2h0M39 3h0M41 1h0M41 -1h0M41 -2h0M40 5h0M44 3h0M45 6h0M44 4h0M43 5h0M44 5h0M50 5h0M47 6h0M49 4h0M50 7h0M49 5h0M51 5h0M58 7h0M53 6h0M57 7h0M53 2h0M53 6h0M58 3h0M60 1h0M63 3h0M62 2h0M65 5h0M65 4h0M70 3h0M67 5h0M67 5h0M33 0h0M39 -2h0M38 1h0M39 1h0M42 5h0M39 -2h0M36 2h0M50 -6h0M49 -6h0M52 -2h0M51 -2h0M53 -4h0M63 -1h0M57 -2h0M60 -1h0M60 0h0M56 -2h0M64 -1h0M35 -3h0M36 -3h0M35 -7h0M40 -4h0M39 -4h0M40 -5h0M42 -4h0M37 -5h0M44 -6h0M48 -5h0M46 -6h0M42 -1h0M48 -3h0M55 -7h0M53 -2h0M58 -5h0M55 -3h0M61 -6h0M61 -8h0M37 -12h0M35 -12h0M40 -10h0M40 -13h0M41 -14h0M54 -13h0M51 -17h0M53 -11h0M56 -13h0M56 -17h0M57 -7h0M59 -9h0M58 -11h0M60 -12h0M61 -12h0M34 -15h0M41 -16h0M37 -16h0M37 -17h0M40 -13h0M41 -14h0M38 -13h0M39 -13h0M36 -14h0M36 -14h0M46 -15h0M46 -17h0M53 -16h0M54 -13h0M54 -15h0M53 -15h0M51 -14h0M55 -12h0M58 -16h0M56 -14h0M57 -13h0M58 -16h0M57 -16h0M47 21h0M53 7h0M45 23h0M53 14h0M45 -13h0M56 9h0M49 30h0M33 -6h0M45 23h0M52 -7h0M54 9h0M41 26h0M55 5h0M60 26h0M70 13h0M63 16h0M41 -11h0M51 -4h0M45 10h0M41 21h0M37 -7h0M67 13h0M40 20h0M44 -7h0M44 14h0M71 18h0M50 8h0"/>
<path id="dGE1" d="M47 30h0M45 26h0M48 24h0M34 21h0M43 26h0M53 27h0M62 25h0M64 25h0M42 18h0M42 20h0M49 22h0M49 22h0M53 17h0M56 19h0M56 17h0M57 18h0M58 15h0M63 18h0M60 18h0M73 17h0M69 18h0M71 17h0M33 17h0M39 15h0M40 11h0M36 11h0M56 19h0M54 16h0M57 14h0M65 10h0M66 13h0M66 15h0M64 10h0M66 13h0M31 6h0M36 7h0M33 4h0M47 12h0M48 12h0M53 9h0M54 14h0M52 12h0M63 5h0M64 10h0M70 12h0M66 8h0M71 11h0M32 5h0M37 4h0M38 -2h0M40 0h0M37 1h0M52 7h0M50 4h0M50 7h0M54 7h0M55 6h0M63 3h0M60 6h0M60 6h0M33 0h0M38 3h0M34 2h0M35 -3h0M34 -1h0M42 2h0M39 4h0M48 -1h0M54 -2h0M52 -3h0M57 -3h0M56 1h0M58 0h0M60 1h0M47 -2h0M57 -5h0M57 -4h0M62 -6h0M62 -5h0M37 -13h0M40 -11h0M36 -10h0M42 -15h0M57 -15h0M56 -13h0M62 -8h0M56 -8h0M53 -16h0M56 -13h0M49 18h0M37 -7h0M64 2h0M45 -10h0M33 16h0M63 22h0"/>
<path id="nGE2" d="M41 32h0M43 29h0M42 29h0M42 29h0M47 26h0M47 31h0M45 27h0M48 30h0M43 21h0M39 22h0M42 26h0M42 25h0M45 29h0M46 24h0M46 23h0M51 24h0M50 27h0M53 25h0M52 29h0M50 25h0M48 27h0M48 27h0M50 25h0M63 25h0M61 22h0M58 27h0M58 23h0M65 21h0M64 20h0M63 20h0M63 24h0M63 23h0M33 21h0M38 20h0M32 21h0M41 18h0M42 18h0M42 19h0M46 20h0M45 21h0M46 20h0M56 17h0M56 22h0M57 17h0M56 23h0M56 18h0M55 17h0M57 17h0M54 20h0M59 14h0M61 14h0M62 20h0M58 19h0M59 14h0M70 20h0M66 24h0M64 21h0M66 19h0M65 18h0M68 23h0M65 23h0M68 23h0M69 24h0M68 17h0M69 22h0M69 18h0M69 17h0M33 12h0M31 16h0M31 11h0M32 16h0M34 14h0M33 15h0M37 16h0M41 12h0M36 15h0M44 17h0M57 16h0M59 19h0M58 16h0M57 16h0M60 15h0M64 12h0M66 10h0M67 9h0M68 14h0M70 10h0M70 14h0M68 12h0M70 14h0M32 10h0M33 8h0M31 11h0M32 8h0M34 5h0M37 5h0M35 7h0M35 10h0M36 10h0M39 8h0M44 8h0M43 9h0M42 6h0M45 8h0M39 9h0M46 13h0M47 8h0M45 12h0M47 9h0M49 10h0M49 8h0M46 8h0M52 11h0M52 11h0M56 11h0M54 12h0M53 8h0M52 9h0M69 11h0M70 11h0M64 11h0M69 13h0M70 12h0M68 14h0M72 11h0M71 14h0M71 13h0M73 14h0M73 11h0M72 9h0M75 10h0M72 13h0M75 10h0M33 4h0M32 7h0M39 3h0M41 1h0M39 1h0M44 5h0M42 6h0M42 7h0M45 6h0M51 8h0M51 4h0M48 7h0M56 9h0M54 3h0M53 4h0M53 4h0M58 7h0M58 4h0M56 6h0M61 2h0M64 5h0M63 6h0M61 6h0M61 1h0M60 3h0M61 5h0M65 2h0M63 1h0M69 1h0M65 0h0M66 1h0M69 6h0M32 1h0M32 2h0M36 1h0M36 -2h0M36 2h0M39 2h0M38 2h0M35 -3h0M40 0h0M36 1h0M40 5h0M41 1h0M42 1h0M40 3h0M38 1h0M40 3h0M42 5h0M49 -1h0M48 -4h0M51 -3h0M54 -1h0M54 -3h0M57 0h0M63 0h0M61 1h0M67 0h0M36 -8h0M37 -5h0M34 -7h0M37 -6h0M40 -4h0M39 -3h0M45 0h0M44 -2h0M40 -2h0M45 -6h0M56 -5h0M53 -7h0M55 -5h0M40 -10h0M40 -10h0M40 -12h0M37 -13h0M39 -13h0M37 -13h0M52 -14h0M52 -13h0M53 -14h0M50 -16h0M52 -16h0M48 -12h0M51 -15h0M53 -12h0M48 -11h0M54 -16h0M56 -12h0M54 -15h0M56 -15h0M55 -14h0M58 -12h0M60 -6h0M58 -13h0M57 -11h0M56 -10h0M57 -6h0M59 -10h0M59 -5h0M34 -16h0M35 -14h0M36 -13h0M46 -15h0M45 -14h0M52 -14h0M54 -13h0M57 -11h0M55 -18h0M55 -19h0M55 -12h0M57 -14h0M57 -18h0M49 -20h0M64 17h0M36 1h0M42 -1h0M49 23h0M60 23h0M50 6h0M45 17h0M55 -1h0M42 1h0M38 -1h0M54 15h0M58 -5h0M67 23h0M63 17h0M36 -9h0M38 28h0M45 4h0M40 25h0M52 -13h0M44 16h0M61 6h0M47 10h0M34 8h0M55 -13h0"/>
<path id="dGE2" d="M45 25h0M46 31h0M31 22h0M43 26h0M43 27h0M48 26h0M51 24h0M51 23h0M59 25h0M62 26h0M35 19h0M34 17h0M49 23h0M55 22h0M56 23h0M58 18h0M70 21h0M67 21h0M70 17h0M31 15h0M39 15h0M60 15h0M64 13h0M69 11h0M70 11h0M35 6h0M35 5h0M35 11h0M36 11h0M42 9h0M39 7h0M43 11h0M49 12h0M64 8h0M70 11h0M70 14h0M36 0h0M38 4h0M50 9h0M57 3h0M52 5h0M61 4h0M65 2h0M64 6h0M67 1h0M65 3h0M36 -3h0M41 -1h0M48 -3h0M51 -1h0M54 -3h0M54 -4h0M54 0h0M63 -1h0M65 2h0M34 -3h0M35 -2h0M43 -5h0M53 -7h0M61 -7h0M35 -9h0M38 -11h0M38 -14h0M48 -12h0M49 -14h0M49 -12h0M51 -16h0M56 -12h0M53 -12h0M57 -12h0M58 -12h0M41 -14h0M40 -16h0M45 -13h0M60 -14h0M57 -12h0M60 10h0M34 -7h0M67 8h0M56 18h0M69 20h0M48 -12h0M45 18h0M40 -18h0"/>
<path id="nSMC0" d="M-13 -37h0M-12 -40h0M-11 -35h0M-11 -34h0M-4 -40h0M-1 -35h0M-8 -37h0M-6 -36h0M-4 -34h0M-9 -35h0M5 -38h0M1 -34h0M0 -37h0M4 -36h0M0 -34h0M0 -36h0M2 -35h0M5 -35h0M4 -35h0M6 -35h0M4 -39h0M9 -39h0M-10 -39h0M-12 -39h0M-11 -39h0M-10 -38h0M-4 -43h0M-7 -44h0M-4 -40h0M-2 -43h0M-5 -46h0M-1 -42h0M2 -43h0M5 -41h0M0 -43h0M1 -42h0M0 -43h0M-1 -48h0M-1 -47h0M-6 -45h0M-1 -48h0M-2 -45h0M-1 -45h0M-2 -50h0M-3 -50h0M6 -46h0M9 -47h0M8 -43h0M7 -48h0M9 -50h0M4 -53h0M4 -51h0M5 -51h0M8 -51h0M9 -53h0M8 -50h0M8 -51h0M8 -53h0M9 -53h0M2 -55h0M1 -52h0M1 -58h0M-1 -53h0M1 -56h0M4 -54h0M8 -59h0M2 -60h0M6 -61h0M1 -59h0M3 -62h0M4 -58h0M6 -61h0M4 -63h0M4 -57h0M2 -57h0M2 -57h0M1 -61h0M10 -61h0M11 -58h0M10 -61h0M8 -58h0M6 -35h0M1 -62h0M1 -55h0"/>
<path id="dSMC0" d="M-9 -42h0M-6 -36h0M-8 -39h0M-5 -37h0M-3 -38h0M5 -33h0M8 -40h0M-6 -41h0M-3 -46h0M-1 -40h0M6 -42h0M10 -45h0M-1 -53h0M7 -59h0M6 -56h0M9 -63h0"/>
<path id="nSMC1" d="M-8 -35h0M-7 -41h0M-6 -37h0M-7 -40h0M-7 -36h0M-11 -36h0M-13 -36h0M-11 -35h0M-9 -37h0M-6 -37h0M-5 -37h0M-3 -38h0M-7 -40h0M1 -32h0M5 -34h0M5 -35h0M1 -36h0M9 -37h0M8 -39h0M4 -37h0M-10 -40h0M-3 -40h0M0 -44h0M-4 -41h0M-5 -45h0M-6 -45h0M-5 -46h0M-4 -43h0M-6 -42h0M-2 -42h0M-1 -43h0M6 -42h0M0 -45h0M1 -46h0M0 -44h0M4 -44h0M-1 -49h0M-4 -48h0M-3 -44h0M-4 -46h0M-1 -49h0M-3 -46h0M-2 -47h0M0 -47h0M-1 -48h0M0 -45h0M1 -50h0M-3 -49h0M6 -46h0M9 -50h0M6 -48h0M9 -49h0M2 -54h0M4 -54h0M8 -51h0M0 -54h0M6 -58h0M4 -61h0M6 -60h0M5 -61h0M5 -58h0M3 -64h0M4 -60h0M4 -59h0M10 -58h0M9 -62h0M-7 -35h0M4 -43h0M11 -47h0M-10 -33h0M5 -37h0M3 -32h0M5 -69h0M-11 -36h0M-9 -33h0"/>
<path id="dSMC1" d="M-11 -36h0M-7 -35h0M-11 -34h0M-4 -39h0M-8 -38h0M6 -33h0M2 -31h0M1 -34h0M7 -39h0M9 -35h0M-9 -41h0M-5 -40h0M2 -42h0M-3 -45h0M-4 -44h0M-4 -45h0M0 -47h0M2 -49h0M0 -48h0M-1 -47h0M9 -43h0M9 -42h0M4 -54h0M1 -53h0M4 -61h0M4 -60h0M10 -61h0"/>
<path id="nSMC2" d="M-10 -40h0M-11 -38h0M-6 -37h0M-10 -38h0M-10 -37h0M-8 -36h0M-3 -34h0M-8 -35h0M-8 -35h0M-7 -38h0M-8 -37h0M-9 -34h0M-5 -39h0M-9 -34h0M-6 -39h0M-7 -34h0M-1 -35h0M3 -39h0M5 -38h0M6 -34h0M6 -35h0M5 -37h0M3 -36h0M7 -37h0M0 -36h0M8 -37h0M8 -37h0M7 -38h0M8 -37h0M4 -38h0M-9 -39h0M-9 -40h0M-12 -39h0M-10 -38h0M-7 -40h0M0 -42h0M-5 -40h0M-5 -46h0M-3 -40h0M-1 -45h0M2 -46h0M2 -43h0M5 -45h0M3 -41h0M6 -43h0M6 -42h0M3 -48h0M-4 -49h0M-5 -47h0M-2 -48h0M-5 -48h0M2 -46h0M9 -45h0M9 -49h0M11 -42h0M11 -48h0M6 -45h0M11 -50h0M7 -49h0M8 -46h0M4 -50h0M5 -50h0M7 -53h0M10 -53h0M4 -57h0M2 -56h0M4 -55h0M2 -53h0M4 -53h0M-2 -54h0M0 -54h0M1 -52h0M5 -57h0M8 -58h0M2 -64h0M5 -61h0M2 -62h0M6 -63h0M2 -60h0M2 -61h0M9 -62h0M5 -63h0M5 -70h0M4 -61h0M2 -53h0M2 -63h0M4 -39h0M-8 -44h0M-5 -47h0"/>
<path id="dSMC2" d="M-9 -39h0M-12 -37h0M-9 -36h0M-7 -35h0M-1 -34h0M4 -39h0M2 -37h0M8 -35h0M-2 -41h0M-4 -41h0M3 -41h0M-6 -49h0M-3 -49h0M3 -51h0M5 -53h0M6 -54h0M4 -57h0M2 -63h0M10 -59h0M-4 -50h0M0 -46h0M8 -35h0M8 -46h0M-2 -44h0M-1 -52h0"/>
<path id="nCST0" d="M-8 26h0M-10 27h0M0 28h0M-2 27h0M-12 21h0M-4 24h0M-6 29h0M1 24h0M1 25h0M1 26h0M-18 18h0M-17 17h0M-15 19h0M-14 20h0M-12 19h0M-11 18h0M-14 21h0M-6 20h0M-5 19h0M4 21h0M-17 12h0M1 14h0M1 11h0M-3 14h0M2 14h0M4 13h0M-12 9h0M-14 20h0M-12 9h0"/>
<path id="dCST0" d="M-7 27h0M-6 24h0M5 25h0M2 23h0M-14 18h0M-11 19h0M-13 21h0M-9 19h0M-15 11h0M-11 12h0M-7 9h0"/>
<path id="nCST1" d="M-11 26h0M-10 23h0M-9 25h0M-4 31h0M0 29h0M0 29h0M-12 21h0M-4 26h0M-6 26h0M-8 27h0M-6 28h0M-1 28h0M5 23h0M3 23h0M-14 19h0M-9 21h0M0 20h0M1 19h0M3 19h0M5 18h0M-14 12h0M-17 14h0M1 10h0M-3 16h0M-6 13h0M-12 14h0M1 18h0M-6 11h0M-8 20h0M-15 15h0M-4 27h0M-5 10h0M-11 29h0"/>
<path id="dCST1" d="M-10 31h0M-13 26h0M-4 30h0M-1 31h0M-1 32h0M3 23h0M4 26h0M-13 22h0M3 26h0M1 19h0M1 21h0M5 17h0M-17 12h0M1 12h0M0 14h0M-12 10h0"/>
<path id="nCST2" d="M-6 32h0M-10 32h0M-8 33h0M-9 33h0M-10 33h0M-10 28h0M-13 24h0M3 24h0M-1 27h0M1 29h0M-13 26h0M-13 23h0M-12 25h0M-13 22h0M-11 23h0M-5 23h0M-6 26h0M0 24h0M-17 18h0M-10 23h0M-7 18h0M3 21h0M2 20h0M-17 15h0M-6 10h0M-5 15h0M-6 12h0M-4 13h0M-4 10h0M-3 16h0M-3 16h0M4 16h0M3 18h0M-11 12h0M-11 9h0M-16 10h0M-7 10h0M-1 34h0M-5 19h0"/>
<path id="dCST2" d="M-11 32h0M-4 31h0M3 27h0M-11 21h0M-3 26h0M1 23h0M-6 21h0M-6 14h0M-1 11h0M5 14h0M-7 11h0M-5 10h0M1 21h0"/>
<path id="nLCC0" d="M-5 7h0M-12 8h0M-7 1h0M-11 5h0M-10 6h0M-7 8h0M0 2h0M-3 -1h0M-2 0h0M0 2h0M-10 6h0"/>
<path id="dLCC0" d="M-13 8h0M-11 8h0M-3 4h0"/>
<path id="nLCC1" d="M-10 4h0M-5 7h0M-9 1h0M-1 3h0"/>
<path id="dLCC1" d="M-7 9h0M-10 5h0M-6 4h0M1 1h0"/>
<path id="nLCC2" d="M-12 4h0M-13 3h0M-11 5h0M-12 5h0M-10 3h0M-8 6h0M-7 1h0M-6 6h0M-7 9h0M-2 2h0M-3 0h0"/>
<path id="dLCC2" d="M-12 4h0M-14 8h0M-8 2h0M-6 3h0"/>
<path id="nCE0" d="M-43 46h0M-47 41h0M-41 46h0M-46 40h0M-45 45h0M-45 40h0"/>
<path id="dCE0" d="M-47 43h0M-47 41h0"/>
<path id="nCE1" d="M-48 42h0M-46 44h0M-47 46h0M-42 42h0"/>
<path id="dCE1" d=""/>
<path id="nCE2" d="M-46 45h0M-42 46h0"/>
<path id="dCE2" d="M-42 41h0M-45 41h0M-47 40h0"/>
<path id="nDOT0" d=""/>
<path id="dDOT0" d=""/>
<path id="nDOT1" d="M-16 44h0M-15 45h0"/>
<path id="dDOT1" d=""/>
<path id="nDOT2" d=""/>
<path id="dDOT2" d=""/>
<path id="chan" d="M-30 -2h0M-45 12h0M-54 -7h0M-45 12h0M-31 -4h0M-35 -9h0M-56 -9h0M-29 -5h0M-49 11h0M-52 -31h0M-30 -2h0M-72 -3h0M-45 31h0M-41 -7h0M-48 -6h0M-25 -5h0M-36 -8h0M-35 -9h0M-40 -10h0M-66 8h0M-28 -5h0M-52 0h0M-36 -29h0M-37 -23h0M-65 -17h0M-50 -25h0M-45 16h0M-40 -8h0M-61 10h0M-43 1h0M-37 12h0M-21 -10h0M-32 -22h0M-36 -15h0M-54 12h0M-51 -23h0M-62 9h0M-50 -26h0M-37 -10h0M-58 -11h0M-48 -6h0M-44 23h0M-68 -1h0M-38 -29h0M-39 9h0M-36 -23h0M-42 9h0M-44 16h0M-41 9h0M-45 -24h0M-42 -4h0M-50 -30h0M-61 10h0M-53 -1h0M-40 -7h0M-34 -11h0M-66 -22h0M-55 10h0M-23 -32h0M-40 -19h0M-61 6h0M-37 -23h0M-37 -37h0M-48 -10h0M-47 -30h0M-28 -4h0M-31 -10h0M-66 -24h0M-49 -31h0M-43 28h0M-61 -24h0M-38 10h0M-72 -4h0M-40 -8h0M-32 -21h0M-64 -24h0M-39 -8h0M-63 -1h0M-37 -5h0M-37 -5h0M-37 -17h0M-38 -10h0M-60 10h0M-35 -11h0M-43 -29h0M-53 -1h0M-45 -28h0M-62 6h0M-43 -30h0M-33 9h0M-64 -2h0M-50 12h0M-59 12h0M-64 -25h0M-68 -4h0M-35 -3h0M-29 8h0M-67 8h0M-20 -17h0M-36 -4h0M-33 -16h0M-42 14h0M-51 -31h0M-31 -11h0M-44 32h0M-65 -16h0M-22 -17h0M-49 -31h0M-67 8h0M-38 -10h0M-62 -23h0M-28 -10h0M-33 -15h0M-47 -30h0M-37 -16h0M-56 10h0M-29 -4h0M-71 -11h0M-68 8h0M-38 -30h0M-59 -5h0M-49 -29h0M-49 -26h0M-39 -37h0M-32 8h0M-58 13h0M-32 -21h0M-25 -11h0M-36 -23h0M-30 -25h0M-42 16h0M-62 -24h0M-31 -21h0M-33 -26h0M-45 -28h0M-24 -26h0M-43 18h0M-43 16h0M-43 -3h0M-46 -30h0M-39 -23h0M-39 -9h0M-44 -11h0M-38 -10h0M-50 -32h0M-63 -25h0M-45 34h0M-35 -5h0M-41 5h0M-66 -12h0M-50 -23h0M-55 9h0M-23 -22h0M-54 -12h0M-67 -4h0M-37 -14h0M-70 -2h0M-21 -18h0M-43 -20h0M-43 28h0M-67 -23h0M-45 -25h0M-53 11h0M-65 9h0M-37 11h0M-54 -5h0M-46 10h0M-53 -3h0M-34 -11h0M-31 -7h0M-41 -19h0M-22 -34h0M-54 -5h0M-32 -9h0M-59 12h0M-49 -29h0M-41 -35h0M-44 -21h0M-23 -21h0M-49 -30h0M-64 -2h0M-28 -11h0M-33 -5h0M-42 -11h0M-31 -8h0M-26 1h0M-22 -13h0M-33 6h0M-31 -21h0M-66 -22h0M-46 -30h0M-60 10h0M-19 -28h0M-46 -34h0M-37 -8h0M-23 -29h0M-24 -11h0M-61 -2h0M-62 6h0M-38 -20h0M-37 14h0M-61 -24h0M-37 -8h0M-45 25h0M-65 -18h0M-35 -28h0M-57 -8h0M-45 8h0M-37 -13h0M-49 -30h0M-42 12h0M-46 -31h0M-40 -20h0M-69 -11h0M-63 -25h0M-44 4h0M-45 -21h0M-35 -23h0M-36 -15h0M-22 -18h0M-38 -14h0M-28 -1h0M-37 -12h0M-59 9h0M-31 -10h0M-39 -37h0M-44 27h0M-51 -22h0M-47 -5h0M-54 -6h0M-58 -14h0M-36 -11h0M-39 -28h0M-33 -9h0M-68 11h0M-31 -10h0M-19 -27h0M-49 -32h0M-20 -14h0M-36 -27h0M-55 -9h0M-45 18h0M-36 -6h0M-45 16h0M-37 -16h0M-45 11h0M-45 15h0M-34 -9h0M-41 -7h0M-45 34h0M-28 -11h0M-56 -7h0M-47 -31h0M-65 8h0M-71 -4h0M-28 -4h0M-42 -4h0M-29 -30h0M-23 -21h0M-49 -30h0M-34 5h0M-35 -2h0M-1 -49h0M2 -48h0M6 -42h0M9 -61h0M1 -49h0M9 -58h0M-2 -50h0M7 -41h0M8 -56h0M8 -41h0M9 -59h0M7 -53h0M0 -36h0M5 -50h0M9 -61h0M9 -60h0M7 -41h0M4 -36h0M5 -42h0M7 -52h0M5 -34h0M8 -56h0M3 -43h0M3 -49h0M-1 -31h0M1 -45h0M2 -43h0M3 -63h0M8 -39h0M10 -60h0M0 -44h0M9 -38h0M7 -41h0M0 -47h0M6 -51h0M9 -58h0M4 -56h0M5 -42h0M6 -57h0M2 -44h0M-1 -45h0M3 -43h0M-2 -51h0M-2 -51h0M3 -56h0M20 25h0M28 -5h0M27 21h0M11 -17h0M52 -2h0M15 17h0M21 -1h0M57 5h0M14 29h0M32 17h0M46 16h0M18 -3h0M13 -17h0M34 17h0M12 -13h0M39 29h0M25 -23h0M17 27h0M14 29h0M46 26h0M59 11h0M20 -5h0M16 14h0M42 19h0M30 -22h0M31 12h0M31 16h0M40 -22h0M38 20h0M22 -3h0M31 34h0M52 24h0M29 27h0M18 8h0M27 46h0M27 15h0M53 19h0M56 -16h0M22 -17h0M22 -6h0M52 -9h0M48 -7h0M18 34h0M67 17h0M36 -21h0M14 -4h0M20 -8h0M48 -9h0M50 25h0M47 -4h0M35 17h0M37 17h0M34 -10h0M29 -15h0M31 16h0M25 21h0M41 7h0M46 12h0M13 29h0M25 -24h0M34 -3h0M52 26h0M56 16h0M29 37h0M19 12h0M68 17h0M48 26h0M43 -13h0M24 -21h0M37 18h0M61 12h0M45 9h0M30 36h0M12 -18h0M35 -11h0M69 20h0M56 -15h0M31 32h0M42 7h0M19 -7h0M60 3h0M33 17h0M31 11h0M19 34h0M20 -17h0M45 1h0M11 0h0M28 -4h0M20 -17h0M25 47h0M51 24h0M41 -22h0M28 -13h0M24 19h0M73 10h0M24 -5h0M30 20h0M18 34h0M10 7h0M44 -12h0M42 -13h0M31 -24h0M29 42h0M53 24h0M46 16h0M55 -11h0M53 25h0M24 35h0M41 -24h0M21 22h0M18 8h0M17 37h0M41 -23h0M35 -3h0M56 12h0M29 44h0M50 25h0M38 1h0M54 27h0M47 22h0M23 13h0M42 7h0M24 28h0M30 -24h0M16 43h0M52 22h0M49 7h0M13 -3h0M38 29h0M23 -18h0M53 -17h0M42 -24h0M54 5h0M40 8h0M20 -4h0M56 -7h0M46 17h0M49 6h0M38 -22h0M25 -13h0M21 22h0M17 -4h0M25 24h0M50 8h0M47 17h0M38 8h0M13 -4h0M15 18h0M22 21h0M52 26h0M22 12h0M35 -2h0M53 23h0M31 -23h0M49 4h0M22 -17h0M28 -12h0M47 -2h0M16 44h0M16 40h0M55 16h0M32 -8h0M50 22h0M52 -11h0M34 -24h0M49 -5h0M22 50h0M31 36h0M30 -22h0M53 26h0M14 -11h0M11 2h0M51 -8h0M49 19h0M38 17h0M48 26h0M49 -17h0M48 27h0M26 4h0M58 -12h0M47 2h0M48 -8h0M27 26h0M48 -6h0M21 20h0M40 -22h0M33 -10h0M22 -10h0M22 21h0M22 -4h0M57 21h0M18 40h0M35 -16h0M29 39h0M55 15h0M20 -9h0M32 -21h0M25 20h0M25 29h0M16 35h0M16 -18h0M50 29h0M45 26h0M15 -4h0M63 20h0M23 33h0M33 19h0M22 -17h0M31 38h0M54 25h0M31 -2h0M21 48h0M67 18h0M16 16h0M67 17h0M50 8h0M27 21h0M31 28h0M15 44h0M52 26h0M19 48h0M69 15h0M17 27h0M20 -18h0M25 47h0M37 28h0M21 34h0M40 -22h0M18 -17h0M30 -19h0M48 -4h0M26 -13h0M52 -11h0M11 7h0M41 -24h0M18 -2h0M54 -13h0M45 -11h0M29 46h0M20 -2h0M54 4h0M16 15h0M57 -13h0M20 9h0M28 -5h0M49 21h0M11 2h0M29 40h0M46 14h0M24 35h0M16 42h0M31 31h0M18 -10h0M54 -17h0M71 11h0M35 -12h0M29 -13h0M20 23h0M17 -4h0M33 17h0M61 10h0M45 -4h0M37 -23h0M19 26h0M11 -1h0M50 29h0M56 -6h0M25 26h0M42 18h0M24 31h0M35 8h0M28 29h0M15 -19h0M29 41h0M13 40h0M20 48h0M26 -23h0M27 41h0M20 26h0M34 -21h0M38 8h0M72 11h0M39 0h0M49 19h0M11 -18h0M32 -2h0M52 14h0M12 37h0M19 -18h0M55 10h0M42 26h0M59 21h0M15 35h0M54 5h0M53 25h0M38 27h0M35 17h0M21 26h0M36 7h0M21 -1h0M36 -24h0M40 17h0M46 26h0M60 18h0M40 -20h0M29 -13h0M50 15h0M19 25h0M52 20h0M27 6h0M13 -4h0M24 35h0M54 26h0M28 3h0M29 21h0M51 26h0M50 26h0M34 9h0M56 -16h0M36 -24h0M21 49h0M50 29h0M75 9h0M51 -8h0M38 18h0M22 15h0M41 -24h0M30 20h0M46 1h0M40 19h0M33 -24h0M20 -18h0M46 26h0M49 8h0M33 18h0M19 -2h0M39 19h0M11 2h0M24 30h0M30 31h0M24 40h0M33 -24h0M32 -24h0M22 20h0M30 -4h0M31 -4h0M54 -17h0M30 20h0M30 -24h0M60 3h0M20 -1h0M49 -5h0M31 20h0M27 15h0M35 8h0M51 25h0M13 46h0M38 20h0M17 30h0M19 -18h0M58 4h0M55 8h0M14 41h0M32 18h0M45 26h0M55 20h0M47 16h0M27 -12h0M36 17h0M11 3h0M33 17h0"/>
<linearGradient id="cg" x1="0" y1="1" x2="0" y2="0">
<stop offset="0.0" stop-color="#d3d3d3"/>
<stop offset="0.1" stop-color="#cac0d9"/>
<stop offset="0.2" stop-color="#c1aede"/>
<stop offset="0.3" stop-color="#b69ce3"/>
<stop offset="0.4" stop-color="#aa89e7"/>
<stop offset="0.5" stop-color="#9d77ec"/>
<stop offset="0.6" stop-color="#8e65f0"/>
<stop offset="0.7" stop-color="#7c51f4"/>
<stop offset="0.8" stop-color="#673df8"/>
<stop offset="0.9" stop-color="#4926fb"/>
<stop offset="1.0" stop-color="#0000ff"/>
</linearGradient>
</defs>
<rect width="400" height="253" fill="#fff"/>
<g transform="translate(57.31 37.77) scale(0.4764 0.4937)" fill="none" stroke-linecap="round" stroke-width="1.70">
<use href="#nLE0" stroke="#0a780a" stroke-width="2.60" vector-effect="non-scaling-stroke"/>
<use href="#dLE0" stroke="#064a06" stroke-width="2.60" vector-effect="non-scaling-stroke"/>
<use href="#nSTF0" stroke="#f7c3d3" stroke-width="2.60" vector-effect="non-scaling-stroke"/>
<use href="#dSTF0" stroke="#deb0be" stroke-width="2.60" vector-effect="non-scaling-stroke"/>
<use href="#nGE0" stroke="#f2f21c" stroke-width="2.60" vector-effect="non-scaling-stroke"/>
<use href="#dGE0" stroke="#dfdf1a" stroke-width="2.60" vector-effect="non-scaling-stroke"/>
<use href="#nSMC0" stroke="#d23cd8" stroke-width="2.60" vector-effect="non-scaling-stroke"/>
<use href="#dSMC0" stroke="#822586" stroke-width="2.60" vector-effect="non-scaling-stroke"/>
<use href="#nCST0" stroke="#90b7e6" stroke-width="2.60" vector-effect="non-scaling-stroke"/>
<use href="#dCST0" stroke="#7392b8" stroke-width="2.60" vector-effect="non-scaling-stroke"/>
<use href="#nLCC0" stroke="#c9562c" stroke-width="2.60" vector-effect="non-scaling-stroke"/>
<use href="#dLCC0" stroke="#7d351b" stroke-width="2.60" vector-effect="non-scaling-stroke"/>
<use href="#nCE0" stroke="#2a55b5" stroke-width="2.60" vector-effect="non-scaling-stroke"/>
<use href="#dCE0" stroke="#1a3570" stroke-width="2.60" vector-effect="non-scaling-stroke"/>
<use href="#nDOT0" stroke="#2a55b5" stroke-width="2.60" vector-effect="non-scaling-stroke"/>
<use href="#dDOT0" stroke="#1a3570" stroke-width="2.60" vector-effect="non-scaling-stroke"/>
<use href="#nLE1" stroke="#0a780a" stroke-width="2.60" vector-effect="non-scaling-stroke"/>
<use href="#dLE1" stroke="#064a06" stroke-width="2.60" vector-effect="non-scaling-stroke"/>
<use href="#nSTF1" stroke="#f7c3d3" stroke-width="2.60" vector-effect="non-scaling-stroke"/>
<use href="#dSTF1" stroke="#deb0be" stroke-width="2.60" vector-effect="non-scaling-stroke"/>
<use href="#nGE1" stroke="#f2f21c" stroke-width="2.60" vector-effect="non-scaling-stroke"/>
<use href="#dGE1" stroke="#dfdf1a" stroke-width="2.60" vector-effect="non-scaling-stroke"/>
<use href="#nSMC1" stroke="#d23cd8" stroke-width="2.60" vector-effect="non-scaling-stroke"/>
<use href="#dSMC1" stroke="#822586" stroke-width="2.60" vector-effect="non-scaling-stroke"/>
<use href="#nCST1" stroke="#90b7e6" stroke-width="2.60" vector-effect="non-scaling-stroke"/>
<use href="#dCST1" stroke="#7392b8" stroke-width="2.60" vector-effect="non-scaling-stroke"/>
<use href="#nLCC1" stroke="#c9562c" stroke-width="2.60" vector-effect="non-scaling-stroke"/>
<use href="#dLCC1" stroke="#7d351b" stroke-width="2.60" vector-effect="non-scaling-stroke"/>
<use href="#nCE1" stroke="#2a55b5" stroke-width="2.60" vector-effect="non-scaling-stroke"/>
<use href="#dCE1" stroke="#1a3570" stroke-width="2.60" vector-effect="non-scaling-stroke"/>
<use href="#nDOT1" stroke="#2a55b5" stroke-width="2.60" vector-effect="non-scaling-stroke"/>
<use href="#dDOT1" stroke="#1a3570" stroke-width="2.60" vector-effect="non-scaling-stroke"/>
<use href="#nLE2" stroke="#0a780a" stroke-width="2.60" vector-effect="non-scaling-stroke"/>
<use href="#dLE2" stroke="#064a06" stroke-width="2.60" vector-effect="non-scaling-stroke"/>
<use href="#nSTF2" stroke="#f7c3d3" stroke-width="2.60" vector-effect="non-scaling-stroke"/>
<use href="#dSTF2" stroke="#deb0be" stroke-width="2.60" vector-effect="non-scaling-stroke"/>
<use href="#nGE2" stroke="#f2f21c" stroke-width="2.60" vector-effect="non-scaling-stroke"/>
<use href="#dGE2" stroke="#dfdf1a" stroke-width="2.60" vector-effect="non-scaling-stroke"/>
<use href="#nSMC2" stroke="#d23cd8" stroke-width="2.60" vector-effect="non-scaling-stroke"/>
<use href="#dSMC2" stroke="#822586" stroke-width="2.60" vector-effect="non-scaling-stroke"/>
<use href="#nCST2" stroke="#90b7e6" stroke-width="2.60" vector-effect="non-scaling-stroke"/>
<use href="#dCST2" stroke="#7392b8" stroke-width="2.60" vector-effect="non-scaling-stroke"/>
<use href="#nLCC2" stroke="#c9562c" stroke-width="2.60" vector-effect="non-scaling-stroke"/>
<use href="#dLCC2" stroke="#7d351b" stroke-width="2.60" vector-effect="non-scaling-stroke"/>
<use href="#nCE2" stroke="#2a55b5" stroke-width="2.60" vector-effect="non-scaling-stroke"/>
<use href="#dCE2" stroke="#1a3570" stroke-width="2.60" vector-effect="non-scaling-stroke"/>
<use href="#nDOT2" stroke="#2a55b5" stroke-width="2.60" vector-effect="non-scaling-stroke"/>
<use href="#dDOT2" stroke="#1a3570" stroke-width="2.60" vector-effect="non-scaling-stroke"/>
<use href="#chan" stroke="#f4fbf4" stroke-width="0.5" vector-effect="non-scaling-stroke"/>
</g>
<path d="M19.50 1.00V66.50H96.25" fill="none" stroke="#5a5a5a" stroke-width="1"/>
<path d="M19.50 18.00h-1.1M19.50 37.80h-1.1M19.50 57.50h-1.1M38.50 66.00v1.1M57.00 66.00v1.1M76.25 66.00v1.1M95.60 66.00v1.1" fill="none" stroke="#333" stroke-width="0.45"/>
<text x="16.90" y="20.00" font-size="5.6" fill="#333" stroke="#333" stroke-width="0.18" text-anchor="end">20</text>
<text x="16.90" y="39.80" font-size="5.6" fill="#333" stroke="#333" stroke-width="0.18" text-anchor="end">0</text>
<text x="16.90" y="59.50" font-size="5.6" fill="#333" stroke="#333" stroke-width="0.18" text-anchor="end">-20</text>
<text x="38.50" y="73.60" font-size="5.6" fill="#333" stroke="#333" stroke-width="0.18" text-anchor="middle">-20</text>
<text x="57.00" y="73.60" font-size="5.6" fill="#333" stroke="#333" stroke-width="0.18" text-anchor="middle">0</text>
<text x="76.25" y="73.60" font-size="5.6" fill="#333" stroke="#333" stroke-width="0.18" text-anchor="middle">20</text>
<text x="95.60" y="73.60" font-size="5.6" fill="#333" stroke="#333" stroke-width="0.18" text-anchor="middle">40</text>
<text x="57.88" y="79.90" font-size="6.1" fill="#111" stroke="#111" stroke-width="0.15" text-anchor="middle">tSNE_1</text>
<text transform="translate(5.30 33.50) rotate(-90)" font-size="6.1" fill="#111" stroke="#111" stroke-width="0.15" text-anchor="middle">tSNE_2</text>
<text x="58.17" y="16.12" font-size="5.8" fill="#444" text-anchor="middle">SMC</text>
<text x="37.49" y="35.47" font-size="5.8" fill="#444" text-anchor="middle">LE</text>
<text x="56.26" y="43.87" font-size="5.8" fill="#444" text-anchor="middle">LCC</text>
<text x="54.36" y="51.57" font-size="5.8" fill="#444" text-anchor="middle">CST</text>
<text x="35.97" y="60.55" font-size="5.8" fill="#444" text-anchor="middle">CE</text>
<text x="69.98" y="39.22" font-size="5.8" fill="#444" text-anchor="middle">STF</text>
<text x="81.13" y="47.22" font-size="5.8" fill="#444" text-anchor="middle">GE</text>
<text x="0.50" y="7.90" font-size="10.2" font-weight="bold" fill="#000">A</text>
<g transform="translate(196.05 42.10) scale(0.5225 0.3875)" fill="none" stroke-linecap="round" stroke-width="1.70">
<use href="#nLE0" stroke="#c0c0c0" vector-effect="non-scaling-stroke"/>
<use href="#dLE0" stroke="#a2a2a2" vector-effect="non-scaling-stroke"/>
<use href="#nSTF0" stroke="#c0c0c0" vector-effect="non-scaling-stroke"/>
<use href="#dSTF0" stroke="#a2a2a2" vector-effect="non-scaling-stroke"/>
<use href="#nGE0" stroke="#c0c0c0" vector-effect="non-scaling-stroke"/>
<use href="#dGE0" stroke="#a2a2a2" vector-effect="non-scaling-stroke"/>
<use href="#nSMC0" stroke="#c0c0c0" vector-effect="non-scaling-stroke"/>
<use href="#dSMC0" stroke="#a2a2a2" vector-effect="non-scaling-stroke"/>
<use href="#nCST0" stroke="#c0c0c0" vector-effect="non-scaling-stroke"/>
<use href="#dCST0" stroke="#a2a2a2" vector-effect="non-scaling-stroke"/>
<use href="#nLCC0" stroke="#c0c0c0" vector-effect="non-scaling-stroke"/>
<use href="#dLCC0" stroke="#a2a2a2" vector-effect="non-scaling-stroke"/>
<use href="#nCE0" stroke="#c0c0c0" vector-effect="non-scaling-stroke"/>
<use href="#dCE0" stroke="#a2a2a2" vector-effect="non-scaling-stroke"/>
<use href="#nDOT0" stroke="#c0c0c0" vector-effect="non-scaling-stroke"/>
<use href="#dDOT0" stroke="#a2a2a2" vector-effect="non-scaling-stroke"/>
<use href="#nLE1" stroke="#c0c0c0" vector-effect="non-scaling-stroke"/>
<use href="#dLE1" stroke="#a2a2a2" vector-effect="non-scaling-stroke"/>
<use href="#nSTF1" stroke="#c0c0c0" vector-effect="non-scaling-stroke"/>
<use href="#dSTF1" stroke="#a2a2a2" vector-effect="non-scaling-stroke"/>
<use href="#nGE1" stroke="#c0c0c0" vector-effect="non-scaling-stroke"/>
<use href="#dGE1" stroke="#a2a2a2" vector-effect="non-scaling-stroke"/>
<use href="#nSMC1" stroke="#c0c0c0" vector-effect="non-scaling-stroke"/>
<use href="#dSMC1" stroke="#a2a2a2" vector-effect="non-scaling-stroke"/>
<use href="#nCST1" stroke="#c0c0c0" vector-effect="non-scaling-stroke"/>
<use href="#dCST1" stroke="#a2a2a2" vector-effect="non-scaling-stroke"/>
<use href="#nLCC1" stroke="#c0c0c0" vector-effect="non-scaling-stroke"/>
<use href="#dLCC1" stroke="#a2a2a2" vector-effect="non-scaling-stroke"/>
<use href="#nCE1" stroke="#c0c0c0" vector-effect="non-scaling-stroke"/>
<use href="#dCE1" stroke="#a2a2a2" vector-effect="non-scaling-stroke"/>
<use href="#nDOT1" stroke="#c0c0c0" vector-effect="non-scaling-stroke"/>
<use href="#dDOT1" stroke="#a2a2a2" vector-effect="non-scaling-stroke"/>
<use href="#nLE2" stroke="#c0c0c0" vector-effect="non-scaling-stroke"/>
<use href="#dLE2" stroke="#a2a2a2" vector-effect="non-scaling-stroke"/>
<use href="#nSTF2" stroke="#c0c0c0" vector-effect="non-scaling-stroke"/>
<use href="#dSTF2" stroke="#a2a2a2" vector-effect="non-scaling-stroke"/>
<use href="#nGE2" stroke="#c0c0c0" vector-effect="non-scaling-stroke"/>
<use href="#dGE2" stroke="#a2a2a2" vector-effect="non-scaling-stroke"/>
<use href="#nSMC2" stroke="#c0c0c0" vector-effect="non-scaling-stroke"/>
<use href="#dSMC2" stroke="#a2a2a2" vector-effect="non-scaling-stroke"/>
<use href="#nCST2" stroke="#c0c0c0" vector-effect="non-scaling-stroke"/>
<use href="#dCST2" stroke="#a2a2a2" vector-effect="non-scaling-stroke"/>
<use href="#nLCC2" stroke="#c0c0c0" vector-effect="non-scaling-stroke"/>
<use href="#dLCC2" stroke="#a2a2a2" vector-effect="non-scaling-stroke"/>
<use href="#nCE2" stroke="#c0c0c0" vector-effect="non-scaling-stroke"/>
<use href="#dCE2" stroke="#a2a2a2" vector-effect="non-scaling-stroke"/>
<use href="#nDOT2" stroke="#c0c0c0" vector-effect="non-scaling-stroke"/>
<use href="#dDOT2" stroke="#a2a2a2" vector-effect="non-scaling-stroke"/>
<use href="#chan" stroke="#efefef" stroke-width="0.6" vector-effect="non-scaling-stroke"/>
</g>
<path d="M154.50 11.90V64.50H240.30" fill="none" stroke="#5a5a5a" stroke-width="1"/>
<path d="M154.35 26.60h-1.1M154.35 42.10h-1.1M154.35 57.60h-1.1M175.30 64.30v1.1M195.80 64.30v1.1M217.00 64.30v1.1M237.90 64.30v1.1" fill="none" stroke="#333" stroke-width="0.45"/>
<text x="151.75" y="28.60" font-size="5.6" fill="#333" stroke="#333" stroke-width="0.18" text-anchor="end">20</text>
<text x="151.75" y="44.10" font-size="5.6" fill="#333" stroke="#333" stroke-width="0.18" text-anchor="end">0</text>
<text x="151.75" y="59.60" font-size="5.6" fill="#333" stroke="#333" stroke-width="0.18" text-anchor="end">-20</text>
<text x="175.30" y="71.90" font-size="5.6" fill="#333" stroke="#333" stroke-width="0.18" text-anchor="middle">-20</text>
<text x="195.80" y="71.90" font-size="5.6" fill="#333" stroke="#333" stroke-width="0.18" text-anchor="middle">0</text>
<text x="217.00" y="71.90" font-size="5.6" fill="#333" stroke="#333" stroke-width="0.18" text-anchor="middle">20</text>
<text x="237.90" y="71.90" font-size="5.6" fill="#333" stroke="#333" stroke-width="0.18" text-anchor="middle">40</text>
<text x="197.32" y="78.20" font-size="6.1" fill="#111" stroke="#111" stroke-width="0.15" text-anchor="middle">tSNE_1</text>
<text transform="translate(140.15 38.10) rotate(-90)" font-size="6.1" fill="#111" stroke="#111" stroke-width="0.15" text-anchor="middle">tSNE_2</text>
<text x="196.99" y="25.55" font-size="5.8" fill="#444" text-anchor="middle">SMC</text>
<text x="174.31" y="40.74" font-size="5.8" fill="#444" text-anchor="middle">LE</text>
<text x="194.90" y="47.33" font-size="5.8" fill="#444" text-anchor="middle">LCC</text>
<text x="192.81" y="53.37" font-size="5.8" fill="#444" text-anchor="middle">CST</text>
<text x="172.64" y="60.43" font-size="5.8" fill="#444" text-anchor="middle">CE</text>
<text x="209.95" y="43.69" font-size="5.8" fill="#444" text-anchor="middle">STF</text>
<text x="222.18" y="49.96" font-size="5.8" fill="#444" text-anchor="middle">GE</text>
<text x="136.50" y="7.90" font-size="10.2" font-weight="bold" fill="#000">B</text>
<text x="197.32" y="7.80" font-size="7.2" font-weight="bold" fill="#000" stroke="#000" stroke-width="0.2" text-anchor="middle">ACE2</text>
<rect x="246.60" y="22.90" width="6.90" height="34.10" fill="url(#cg)"/>
<text x="256.50" y="29.90" font-size="5.6" fill="#333" stroke="#333" stroke-width="0.15">6</text>
<text x="256.50" y="39.60" font-size="5.6" fill="#333" stroke="#333" stroke-width="0.15">4</text>
<text x="256.50" y="49.50" font-size="5.6" fill="#333" stroke="#333" stroke-width="0.15">2</text>
<text x="256.50" y="59.00" font-size="5.6" fill="#333" stroke="#333" stroke-width="0.15">0</text>
<g transform="translate(330.62 42.60) scale(0.4836 0.4025)" fill="none" stroke-linecap="round" stroke-width="1.70">
<use href="#nLE0" stroke="#c0c0c0" vector-effect="non-scaling-stroke"/>
<use href="#dLE0" stroke="#a2a2a2" vector-effect="non-scaling-stroke"/>
<use href="#nSTF0" stroke="#c0c0c0" vector-effect="non-scaling-stroke"/>
<use href="#dSTF0" stroke="#a2a2a2" vector-effect="non-scaling-stroke"/>
<use href="#nGE0" stroke="#c0c0c0" vector-effect="non-scaling-stroke"/>
<use href="#dGE0" stroke="#a2a2a2" vector-effect="non-scaling-stroke"/>
<use href="#nSMC0" stroke="#c0c0c0" vector-effect="non-scaling-stroke"/>
<use href="#dSMC0" stroke="#a2a2a2" vector-effect="non-scaling-stroke"/>
<use href="#nCST0" stroke="#c0c0c0" vector-effect="non-scaling-stroke"/>
<use href="#dCST0" stroke="#a2a2a2" vector-effect="non-scaling-stroke"/>
<use href="#nLCC0" stroke="#c0c0c0" vector-effect="non-scaling-stroke"/>
<use href="#dLCC0" stroke="#a2a2a2" vector-effect="non-scaling-stroke"/>
<use href="#nCE0" stroke="#c0c0c0" vector-effect="non-scaling-stroke"/>
<use href="#dCE0" stroke="#a2a2a2" vector-effect="non-scaling-stroke"/>
<use href="#nDOT0" stroke="#c0c0c0" vector-effect="non-scaling-stroke"/>
<use href="#dDOT0" stroke="#a2a2a2" vector-effect="non-scaling-stroke"/>
<path d="M-70 11h0M-54 10h0M-33 11h0M-71 8h0M-43 4h0M-32 2h0M-51 -12h0M-39 -6h0M-48 -16h0M-63 -17h0M-62 -17h0M-50 -17h0M-44 -18h0M-31 -17h0M-19 -21h0M-21 -19h0M-21 -28h0M-45 -8h0M-51 -9h0M19 31h0M24 7h0M21 -12h0M33 -20h0M23 2h0M32 21h0M44 23h0M42 18h0M55 15h0M36 5h0M64 5h0M58 -1h0M39 -15h0M5 -41h0M-47 41h0" stroke="#f3f1f8" vector-effect="non-scaling-stroke"/>
<path d="M-43 35h0M-43 22h0M-33 12h0M-69 11h0M-52 9h0M-46 11h0M-43 10h0M-64 6h0M-53 11h0M-54 7h0M-54 8h0M-54 5h0M-37 7h0M-35 9h0M-69 6h0M-63 1h0M-53 1h0M-33 0h0M-34 -2h0M-30 -1h0M-61 -5h0M-32 -1h0M-70 -13h0M-65 -5h0M-48 -6h0M-49 -12h0M-51 -6h0M-37 -5h0M-38 -8h0M-30 -8h0M-33 -8h0M-69 -17h0M-47 -16h0M-29 -14h0M-59 -18h0M-27 -27h0M-46 -29h0M-48 -26h0M-42 -37h0M-41 -32h0M-27 -35h0M-23 -35h0M-37 4h0M-52 5h0M-65 9h0M-41 23h0M-43 33h0M-40 21h0M13 48h0M17 46h0M9 40h0M20 36h0M27 23h0M30 22h0M13 18h0M11 16h0M14 11h0M9 -1h0M12 7h0M20 6h0M24 6h0M13 -1h0M21 -8h0M11 -11h0M21 -13h0M26 -13h0M17 -17h0M24 -17h0M24 -22h0M36 -18h0M49 -23h0M29 5h0M47 24h0M43 26h0M38 23h0M39 22h0M53 26h0M55 28h0M64 21h0M32 21h0M53 20h0M69 18h0M66 20h0M45 17h0M43 15h0M59 18h0M68 15h0M64 13h0M60 9h0M65 8h0M61 5h0M71 13h0M68 9h0M66 3h0M43 3h0M49 0h0M58 -1h0M64 1h0M56 -17h0M59 -13h0M61 -8h0M0 -43h0M9 -50h0M1 -56h0M3 -62h0M2 -57h0M11 -58h0M-10 27h0M1 26h0M-2 0h0" stroke="#bba5e0" vector-effect="non-scaling-stroke"/>
<path d="M-44 31h0M-57 9h0M-54 8h0M-53 -6h0M-49 -16h0M-18 -15h0M-38 -31h0M-23 -35h0M-63 -24h0M-72 -6h0M28 31h0M28 23h0M10 10h0M18 -17h0M29 -22h0M41 -23h0M43 -24h0M47 31h0M40 26h0M43 24h0M44 28h0M38 14h0M49 11h0M66 9h0M63 10h0M65 -1h0M52 -13h0M48 -15h0M36 -16h0M51 13h0" stroke="#83739d" vector-effect="non-scaling-stroke"/>
<path d="M-42 28h0M-43 29h0M-46 29h0M-46 22h0M-40 22h0M-40 20h0M-45 19h0M-46 16h0M-34 13h0M-37 15h0M-61 15h0M-60 13h0M-50 11h0M-28 9h0M-44 8h0M-71 0h0M-60 4h0M-47 1h0M-43 1h0M-37 -1h0M-62 -3h0M-59 -7h0M-51 -4h0M-47 -6h0M-35 -2h0M-30 -4h0M-69 -8h0M-51 -8h0M-37 -5h0M-30 -8h0M-24 -9h0M-58 -13h0M-46 -16h0M-47 -17h0M-48 -17h0M-47 -13h0M-61 -19h0M-61 -19h0M-53 -19h0M-35 -18h0M-29 -21h0M-47 -26h0M-47 -27h0M-34 -23h0M-44 -27h0M-48 -25h0M-48 -28h0M-37 -31h0M-29 -26h0M-33 -28h0M-44 -32h0M-33 -35h0M-68 -14h0M-35 -33h0M-69 3h0M-42 -8h0M17 42h0M30 39h0M31 21h0M27 23h0M29 25h0M28 16h0M25 9h0M28 9h0M28 7h0M25 2h0M10 2h0M7 -8h0M8 -9h0M10 -8h0M12 -4h0M24 -5h0M26 -5h0M28 -6h0M20 -10h0M21 -11h0M31 -12h0M29 -12h0M29 -12h0M17 -15h0M56 -19h0M26 -19h0M33 -20h0M43 -25h0M18 4h0M47 30h0M32 25h0M32 24h0M54 28h0M61 22h0M62 25h0M31 21h0M63 16h0M68 18h0M39 14h0M43 15h0M57 20h0M64 14h0M65 13h0M43 11h0M42 9h0M57 9h0M53 13h0M67 10h0M65 10h0M67 12h0M69 10h0M56 8h0M67 5h0M69 4h0M63 1h0M36 -2h0M38 1h0M38 3h0M51 -5h0M51 0h0M40 -4h0M48 -4h0M44 -8h0M41 -3h0M42 -6h0M43 0h0M35 -9h0M40 -16h0M51 -11h0M49 -10h0M61 -9h0M52 -16h0M58 -15h0M63 20h0M38 9h0M58 10h0M4 -39h0M-5 -46h0M8 -50h0M-1 -53h0M1 -59h0M1 -61h0M1 -55h0" stroke="#a886e8" vector-effect="non-scaling-stroke"/>
<path d="M-49 12h0M-63 11h0M-39 9h0M-71 5h0M-36 1h0M-35 -5h0M-31 0h0M-32 -2h0M-30 -4h0M-43 -10h0M-36 -7h0M-67 -14h0M-24 -20h0M-45 -29h0M-40 -29h0M-40 -36h0M-32 -4h0M-41 24h0M-41 23h0M17 33h0M30 4h0M19 1h0M23 -5h0M13 -15h0M23 -14h0M25 -8h0M24 -11h0M23 -13h0M25 -4h0M44 22h0M65 12h0M43 5h0M32 8h0M51 9h0M42 4h0M49 -4h0M52 -3h0M42 -7h0M45 -3h0M58 -6h0M56 -7h0M62 -10h0M37 -15h0M-6 -36h0M10 -45h0M-11 19h0M-9 19h0" stroke="#765ea2" vector-effect="non-scaling-stroke"/>
<path d="M-42 28h0M-46 21h0M-48 16h0M-38 11h0M-27 9h0M-31 8h0M-26 9h0M-54 5h0M-55 10h0M-47 4h0M-36 7h0M-37 6h0M-36 8h0M-31 4h0M-72 6h0M-43 2h0M-36 3h0M-30 2h0M-36 0h0M-35 4h0M-71 -3h0M-57 -3h0M-43 -6h0M-30 1h0M-30 -1h0M-59 -10h0M-53 -6h0M-39 -6h0M-70 -15h0M-60 -15h0M-47 -18h0M-51 -19h0M-60 -20h0M-43 -17h0M-21 -17h0M-22 -22h0M-68 -22h0M-62 -28h0M-45 -25h0M-52 -30h0M-41 -35h0M-43 -33h0M-32 -28h0M-49 5h0M-21 -26h0M-43 30h0M-43 29h0M-43 37h0M10 39h0M26 31h0M24 25h0M25 22h0M11 13h0M11 13h0M29 16h0M29 15h0M10 9h0M26 6h0M15 6h0M23 2h0M25 -3h0M23 3h0M17 -7h0M21 -7h0M9 -8h0M23 -11h0M21 -10h0M23 -14h0M26 -15h0M16 -14h0M22 -23h0M32 -22h0M34 -21h0M21 -13h0M10 -4h0M46 26h0M47 30h0M45 26h0M34 24h0M43 26h0M50 26h0M49 29h0M65 22h0M33 23h0M35 18h0M48 20h0M54 21h0M55 18h0M62 20h0M65 19h0M39 14h0M56 17h0M67 13h0M65 9h0M35 8h0M35 6h0M45 7h0M42 10h0M45 10h0M58 10h0M71 13h0M40 2h0M49 9h0M51 7h0M55 3h0M60 6h0M68 1h0M68 2h0M36 -3h0M60 -3h0M37 -5h0M42 -6h0M40 -4h0M43 -8h0M39 -12h0M40 -12h0M39 -15h0M57 -6h0M55 -14h0M-2 -50h0M4 -53h0M4 -51h0M2 -55h0M1 -52h0M4 -63h0M8 -58h0M-8 26h0M-15 19h0M-5 19h0M4 21h0M2 14h0M-43 46h0M-46 40h0" stroke="#9068ef" vector-effect="non-scaling-stroke"/>
<path d="M-53 12h0M-59 1h0M-47 3h0M-26 1h0M-60 -3h0M-36 -5h0M-61 -12h0M-67 -17h0M-60 -15h0M-32 -15h0M-36 -20h0M-63 -26h0M-47 -26h0M-22 -26h0M-42 26h0M33 38h0M25 -8h0M26 -13h0M17 -23h0M31 -23h0M42 -22h0M49 26h0M71 18h0M56 8h0M57 7h0M61 4h0M37 2h0M60 0h0M65 -2h0M40 -3h0M46 -1h0M56 -6h0M34 -14h0M53 -13h0M68 22h0M6 -56h0M2 23h0M-47 43h0" stroke="#6549a7" vector-effect="non-scaling-stroke"/>
<path d="M-42 33h0M-47 22h0M-63 11h0M-66 8h0M-60 10h0M-60 8h0M-56 7h0M-52 4h0M-55 6h0M-69 5h0M-62 3h0M-60 2h0M-55 -1h0M-45 1h0M-33 0h0M-43 -7h0M-68 -8h0M-53 -6h0M-51 -9h0M-48 -12h0M-39 -9h0M-22 -10h0M-67 -15h0M-58 -11h0M-22 -15h0M-47 -16h0M-46 -19h0M-21 -21h0M-49 -26h0M-32 -23h0M-25 -26h0M-49 -26h0M-21 -28h0M-45 -35h0M-32 -34h0M-33 -39h0M-37 -16h0M-70 6h0M-68 -21h0M-44 34h0M16 42h0M17 34h0M14 31h0M28 30h0M31 25h0M16 19h0M12 11h0M11 12h0M13 4h0M12 -3h0M19 0h0M10 -8h0M25 -9h0M19 -12h0M18 -18h0M22 -21h0M23 -19h0M36 -24h0M41 22h0M51 27h0M59 22h0M65 24h0M36 21h0M34 23h0M35 22h0M48 21h0M48 22h0M53 18h0M58 17h0M57 16h0M70 17h0M63 13h0M67 13h0M32 11h0M34 7h0M36 10h0M36 10h0M48 8h0M63 7h0M63 9h0M69 8h0M63 11h0M69 14h0M56 6h0M62 2h0M60 2h0M63 1h0M65 6h0M48 -3h0M36 -8h0M33 -5h0M34 -5h0M38 -16h0M47 -16h0M50 -14h0M54 -16h0M42 -9h0M5 -38h0M-2 -43h0M9 -47h0M8 -43h0M8 -51h0M1 -58h0M6 -61h0M2 -57h0M10 -61h0M6 -35h0M1 -62h0M-12 9h0M-5 7h0" stroke="#7248f6" vector-effect="non-scaling-stroke"/>
<path d="M-45 29h0M-48 19h0M-69 11h0M-63 3h0M-56 -13h0M-18 -17h0M-35 -22h0M-45 -27h0M-40 -30h0M-26 -35h0M-35 -30h0M-55 -24h0M12 41h0M22 21h0M16 18h0M12 3h0M30 5h0M30 6h0M23 1h0M22 -5h0M20 -13h0M17 -15h0M26 -20h0M49 26h0M42 23h0M45 17h0M34 7h0M36 -1h0M42 4h0M63 -2h0M44 -6h0M62 -5h0M60 -7h0M44 -6h0M-9 -42h0M-8 -39h0M-3 -38h0M5 -33h0M8 -40h0M-6 -41h0M-1 -40h0M-6 24h0" stroke="#5032ac" vector-effect="non-scaling-stroke"/>
<path d="M-45 24h0M-46 24h0M-37 17h0M-33 10h0M-34 10h0M-67 3h0M-45 5h0M-58 -6h0M-57 -14h0M-47 -12h0M-25 -10h0M-57 -14h0M-49 -13h0M-52 -20h0M-32 -20h0M-70 -20h0M-36 -28h0M-32 -26h0M-41 -31h0M-31 -38h0M-44 36h0M13 48h0M15 8h0M9 -7h0M22 -15h0M19 4h0M39 22h0M47 21h0M65 19h0M63 13h0M32 12h0M69 9h0M64 6h0M58 4h0M64 2h0M57 -13h0M52 -4h0M38 4h0M-13 -37h0M-4 -43h0M-1 -48h0M-12 8h0" stroke="#4322fc" vector-effect="non-scaling-stroke"/>
<path d="M-33 0h0M14 17h0M11 -15h0M29 -12h0M63 11h0M42 1h0" stroke="#2f18b0" vector-effect="non-scaling-stroke"/>
<use href="#nLE1" stroke="#c0c0c0" vector-effect="non-scaling-stroke"/>
<use href="#dLE1" stroke="#a2a2a2" vector-effect="non-scaling-stroke"/>
<use href="#nSTF1" stroke="#c0c0c0" vector-effect="non-scaling-stroke"/>
<use href="#dSTF1" stroke="#a2a2a2" vector-effect="non-scaling-stroke"/>
<use href="#nGE1" stroke="#c0c0c0" vector-effect="non-scaling-stroke"/>
<use href="#dGE1" stroke="#a2a2a2" vector-effect="non-scaling-stroke"/>
<use href="#nSMC1" stroke="#c0c0c0" vector-effect="non-scaling-stroke"/>
<use href="#dSMC1" stroke="#a2a2a2" vector-effect="non-scaling-stroke"/>
<use href="#nCST1" stroke="#c0c0c0" vector-effect="non-scaling-stroke"/>
<use href="#dCST1" stroke="#a2a2a2" vector-effect="non-scaling-stroke"/>
<use href="#nLCC1" stroke="#c0c0c0" vector-effect="non-scaling-stroke"/>
<use href="#dLCC1" stroke="#a2a2a2" vector-effect="non-scaling-stroke"/>
<use href="#nCE1" stroke="#c0c0c0" vector-effect="non-scaling-stroke"/>
<use href="#dCE1" stroke="#a2a2a2" vector-effect="non-scaling-stroke"/>
<use href="#nDOT1" stroke="#c0c0c0" vector-effect="non-scaling-stroke"/>
<use href="#dDOT1" stroke="#a2a2a2" vector-effect="non-scaling-stroke"/>
<path d="M-31 12h0M-28 6h0M-43 9h0M-32 -9h0M-34 -15h0M-40 -19h0M-23 -30h0M-31 -33h0M-34 -36h0M28 37h0M23 25h0M22 18h0M27 22h0M13 3h0M53 -21h0M29 21h0M43 21h0M42 18h0M44 23h0M49 22h0M65 13h0M65 9h0M40 0h0M47 6h0M38 3h0M64 -1h0M53 -15h0M-6 -37h0M6 -42h0M3 23h0" stroke="#f3f1f8" vector-effect="non-scaling-stroke"/>
<path d="M-46 25h0M-71 9h0M-66 8h0M-30 10h0M-65 5h0M-64 9h0M-64 8h0M-53 6h0M-41 8h0M-40 7h0M-27 5h0M-72 5h0M-61 0h0M-53 -1h0M-31 5h0M-25 -3h0M-63 -4h0M-59 -2h0M-43 -10h0M-34 -2h0M-47 -6h0M-37 -9h0M-34 -7h0M-31 -15h0M-34 -19h0M-32 -20h0M-25 -19h0M-24 -23h0M-20 -19h0M-21 -22h0M-67 -23h0M-61 -24h0M-42 -26h0M-48 -24h0M-43 -34h0M-41 -36h0M-31 -36h0M-25 -30h0M-40 -22h0M28 45h0M19 31h0M18 14h0M13 17h0M25 9h0M20 0h0M26 -1h0M24 1h0M20 0h0M30 2h0M16 -5h0M21 -7h0M19 -8h0M27 -5h0M12 -15h0M26 -11h0M29 -14h0M26 -10h0M16 -13h0M32 -18h0M25 -22h0M36 -19h0M36 -21h0M32 -24h0M20 11h0M12 -9h0M18 18h0M25 -16h0M16 -11h0M40 20h0M51 28h0M59 25h0M64 23h0M41 22h0M71 21h0M68 22h0M63 12h0M32 12h0M32 11h0M35 8h0M36 11h0M35 9h0M38 7h0M47 10h0M58 10h0M61 9h0M64 9h0M66 8h0M66 7h0M33 4h0M39 3h0M44 3h0M42 5h0M52 -2h0M51 -2h0M35 -3h0M55 -7h0M55 -3h0M41 -14h0M56 -17h0M46 -17h0M53 -16h0M58 -16h0M54 9h0M70 13h0M-8 -35h0M8 -39h0M4 -54h0M5 -61h0M-9 -33h0M-12 14h0" stroke="#bba5e0" vector-effect="non-scaling-stroke"/>
<path d="M-48 11h0M-37 13h0M-34 3h0M-71 -17h0M-20 -17h0M-18 -14h0M-59 -19h0M-19 -21h0M-22 -27h0M-50 -29h0M-65 -6h0M-41 20h0M26 34h0M25 24h0M27 25h0M29 6h0M37 -22h0M12 15h0M73 17h0M69 18h0M36 7h0M63 5h0M32 5h0M50 4h0M55 6h0M39 4h0M57 -3h0M37 -13h0M42 -15h0M49 18h0M37 -7h0M64 2h0M33 16h0M-4 -39h0M-4 -45h0" stroke="#83739d" vector-effect="non-scaling-stroke"/>
<path d="M-46 35h0M-44 28h0M-53 15h0M-48 18h0M-35 14h0M-65 12h0M-41 15h0M-54 10h0M-52 9h0M-56 9h0M-41 6h0M-58 4h0M-56 4h0M-56 2h0M-41 4h0M-30 5h0M-33 1h0M-25 1h0M-27 -1h0M-45 -5h0M-29 -1h0M-27 0h0M-69 -10h0M-51 -9h0M-41 -7h0M-39 -5h0M-36 -8h0M-23 -11h0M-63 -15h0M-61 -11h0M-44 -16h0M-17 -15h0M-64 -15h0M-50 -19h0M-48 -17h0M-61 -25h0M-55 -26h0M-48 -28h0M-36 -23h0M-46 -28h0M-42 -32h0M-38 -31h0M-35 -32h0M-39 -31h0M-24 -25h0M-51 -29h0M-47 -31h0M-25 -28h0M-33 -35h0M-31 -37h0M-49 -17h0M-45 -29h0M-45 -35h0M-43 23h0M-36 13h0M-23 -25h0M-49 4h0M-40 22h0M-42 24h0M-40 21h0M24 21h0M10 1h0M27 2h0M13 0h0M11 1h0M22 1h0M15 -3h0M28 -6h0M17 -13h0M20 -11h0M25 -13h0M17 -15h0M22 -17h0M24 -17h0M32 -14h0M37 -21h0M37 -22h0M38 -19h0M30 -26h0M29 -25h0M23 43h0M42 32h0M46 26h0M44 22h0M52 27h0M60 25h0M31 21h0M34 20h0M61 15h0M60 16h0M71 16h0M33 15h0M44 15h0M35 9h0M32 7h0M34 9h0M46 9h0M44 11h0M55 12h0M63 10h0M60 8h0M70 12h0M64 10h0M37 2h0M43 5h0M44 5h0M53 6h0M62 2h0M65 5h0M67 5h0M67 5h0M53 -4h0M60 0h0M46 -6h0M42 -1h0M48 -3h0M61 -8h0M40 -13h0M57 -7h0M60 -12h0M40 -13h0M57 -13h0M56 9h0M-7 -41h0M-7 -36h0M-4 -43h0M0 -44h0M6 -48h0M0 -54h0M4 -61h0M6 -60h0M3 -32h0M1 19h0M1 10h0" stroke="#a886e8" vector-effect="non-scaling-stroke"/>
<path d="M-43 29h0M-49 13h0M-36 13h0M-43 13h0M-38 6h0M-73 6h0M-72 3h0M-58 -1h0M-36 2h0M-27 -4h0M-52 -8h0M-36 -7h0M-38 -7h0M-70 -16h0M-29 -25h0M-38 -32h0M-48 -34h0M-44 31h0M19 34h0M11 9h0M12 -10h0M27 -6h0M14 -15h0M16 -18h0M50 -23h0M26 -23h0M53 27h0M64 25h0M53 17h0M56 19h0M56 17h0M56 19h0M66 13h0M64 10h0M71 11h0M37 1h0M63 3h0M60 6h0M48 -1h0M60 1h0M57 -15h0M56 -8h0M6 -33h0M-4 -44h0M3 23h0M-13 22h0M5 17h0M1 1h0" stroke="#765ea2" vector-effect="non-scaling-stroke"/>
<path d="M-45 31h0M-46 19h0M-34 15h0M-37 13h0M-37 16h0M-69 10h0M-53 9h0M-54 12h0M-48 9h0M-40 15h0M-40 10h0M-59 7h0M-35 11h0M-68 6h0M-66 2h0M-66 0h0M-46 2h0M-31 3h0M-71 -4h0M-42 -5h0M-30 0h0M-53 -6h0M-48 -12h0M-36 -8h0M-33 -8h0M-30 -14h0M-58 -21h0M-63 -21h0M-43 -18h0M-38 -16h0M-22 -18h0M-55 -23h0M-39 -24h0M-38 -22h0M-41 -28h0M-42 -28h0M-41 -31h0M-24 -27h0M-41 -34h0M-30 -33h0M-25 -32h0M-31 -36h0M-60 -15h0M-24 -33h0M-34 -26h0M-40 -20h0M24 24h0M27 22h0M16 16h0M12 12h0M8 8h0M13 12h0M15 10h0M24 7h0M29 8h0M29 6h0M14 4h0M23 4h0M22 0h0M20 -3h0M21 -8h0M21 -6h0M9 -10h0M10 -11h0M10 -13h0M20 -10h0M21 -10h0M20 -9h0M23 -12h0M14 -14h0M16 -19h0M33 -23h0M33 -20h0M41 -19h0M41 -21h0M40 -22h0M16 -5h0M42 30h0M45 30h0M34 21h0M42 27h0M42 23h0M36 18h0M61 14h0M31 11h0M38 13h0M41 13h0M57 16h0M64 14h0M32 8h0M36 9h0M69 8h0M67 11h0M70 7h0M41 1h0M41 -1h0M40 5h0M49 4h0M63 -1h0M56 -2h0M36 -3h0M42 -4h0M53 -2h0M61 -6h0M37 -12h0M35 -12h0M54 -13h0M37 -16h0M39 -13h0M58 -16h0M57 -16h0M45 23h0M44 -7h0M71 18h0M-7 -40h0M-7 -40h0M-3 -40h0M-1 -49h0M1 -50h0M-11 -36h0M-14 12h0M-5 7h0" stroke="#9068ef" vector-effect="non-scaling-stroke"/>
<path d="M-66 9h0M-48 14h0M-27 6h0M-38 7h0M-50 -19h0M-61 -16h0M-46 -20h0M-26 -19h0M-55 -26h0M-37 -30h0M-17 -24h0M-43 35h0M-42 28h0M-44 35h0M17 50h0M9 39h0M28 16h0M13 6h0M27 -4h0M27 -5h0M19 -18h0M23 -21h0M35 -17h0M33 -9h0M47 30h0M34 21h0M39 15h0M40 11h0M36 11h0M63 22h0M-11 -36h0M1 -53h0" stroke="#6549a7" vector-effect="non-scaling-stroke"/>
<path d="M-44 32h0M-47 32h0M-46 31h0M-43 26h0M-47 16h0M-40 18h0M-62 13h0M-42 13h0M-28 8h0M-70 9h0M-55 6h0M-35 6h0M-69 6h0M-73 5h0M-65 3h0M-57 2h0M-59 1h0M-62 1h0M-53 0h0M-45 4h0M-35 -3h0M-34 -2h0M-32 6h0M-28 0h0M-62 -5h0M-61 -5h0M-43 -7h0M-34 0h0M-69 -9h0M-53 -8h0M-52 -7h0M-31 -10h0M-30 -8h0M-65 -15h0M-48 -16h0M-46 -16h0M-49 -15h0M-34 -15h0M-63 -18h0M-62 -16h0M-54 -23h0M-48 -19h0M-38 -19h0M-42 -21h0M-30 -17h0M-69 -20h0M-63 -28h0M-62 -28h0M-44 -25h0M-45 -30h0M-40 -33h0M-33 -28h0M-26 -29h0M-66 -13h0M-59 -27h0M-46 -8h0M-26 -35h0M-38 3h0M-39 -4h0M-48 -27h0M-39 20h0M17 50h0M23 24h0M22 26h0M24 20h0M28 19h0M22 19h0M27 21h0M10 6h0M11 8h0M26 7h0M8 -1h0M26 4h0M19 -1h0M11 -6h0M14 -3h0M24 -6h0M26 -5h0M23 -5h0M9 -9h0M19 -11h0M28 -12h0M27 -10h0M15 -17h0M21 -18h0M18 -18h0M17 -22h0M24 -23h0M28 -22h0M15 -15h0M25 -11h0M40 25h0M41 20h0M46 28h0M53 24h0M61 26h0M61 23h0M61 22h0M44 22h0M43 21h0M61 18h0M67 24h0M68 23h0M45 15h0M44 18h0M56 14h0M60 8h0M39 2h0M38 1h0M50 5h0M51 5h0M58 7h0M58 3h0M40 -4h0M40 -10h0M59 -9h0M61 -12h0M34 -15h0M36 -14h0M46 -15h0M54 -13h0M51 -14h0M33 -6h0M52 -7h0M60 26h0M45 10h0M37 -7h0M-11 -36h0M-3 -38h0M-5 -45h0M-4 -48h0M-3 -44h0M0 -45h0M9 -49h0M9 -62h0M0 20h0M-1 3h0M-48 42h0M-46 44h0" stroke="#7248f6" vector-effect="non-scaling-stroke"/>
<path d="M-53 15h0M-66 8h0M-35 16h0M-38 -5h0M-42 -9h0M-32 -18h0M-29 -14h0M-22 -29h0M-24 -31h0M-41 -31h0M-49 10h0M13 40h0M28 19h0M27 7h0M15 -8h0M12 -5h0M24 -3h0M24 -17h0M48 24h0M42 20h0M49 22h0M60 18h0M33 17h0M48 12h0M53 9h0M66 8h0M54 7h0M33 0h0M34 2h0M54 -2h0M58 0h0M36 -10h0M-11 -34h0M4 -54h0M-1 31h0" stroke="#5032ac" vector-effect="non-scaling-stroke"/>
<path d="M-31 9h0M-67 0h0M-69 -4h0M-59 -10h0M-55 -9h0M-52 -10h0M-38 -6h0M-40 -4h0M-34 -9h0M-62 -17h0M-39 -32h0M-25 -29h0M-42 31h0M21 23h0M13 18h0M28 15h0M8 1h0M19 1h0M30 1h0M31 -1h0M19 -22h0M30 -23h0M29 5h0M47 28h0M49 26h0M52 10h0M41 -2h0M65 4h0M58 -5h0M45 23h0M53 14h0M45 -13h0M55 5h0M41 -11h0M40 20h0M4 -37h0M-2 -47h0M-3 16h0M1 18h0" stroke="#4322fc" vector-effect="non-scaling-stroke"/>
<path d="M-67 10h0M-43 -37h0M-40 22h0M25 -20h0M71 17h0M57 14h0M0 -48h0" stroke="#2f18b0" vector-effect="non-scaling-stroke"/>
<use href="#nLE2" stroke="#c0c0c0" vector-effect="non-scaling-stroke"/>
<use href="#dLE2" stroke="#a2a2a2" vector-effect="non-scaling-stroke"/>
<use href="#nSTF2" stroke="#c0c0c0" vector-effect="non-scaling-stroke"/>
<use href="#dSTF2" stroke="#a2a2a2" vector-effect="non-scaling-stroke"/>
<use href="#nGE2" stroke="#c0c0c0" vector-effect="non-scaling-stroke"/>
<use href="#dGE2" stroke="#a2a2a2" vector-effect="non-scaling-stroke"/>
<use href="#nSMC2" stroke="#c0c0c0" vector-effect="non-scaling-stroke"/>
<use href="#dSMC2" stroke="#a2a2a2" vector-effect="non-scaling-stroke"/>
<use href="#nCST2" stroke="#c0c0c0" vector-effect="non-scaling-stroke"/>
<use href="#dCST2" stroke="#a2a2a2" vector-effect="non-scaling-stroke"/>
<use href="#nLCC2" stroke="#c0c0c0" vector-effect="non-scaling-stroke"/>
<use href="#dLCC2" stroke="#a2a2a2" vector-effect="non-scaling-stroke"/>
<use href="#nCE2" stroke="#c0c0c0" vector-effect="non-scaling-stroke"/>
<use href="#dCE2" stroke="#a2a2a2" vector-effect="non-scaling-stroke"/>
<use href="#nDOT2" stroke="#c0c0c0" vector-effect="non-scaling-stroke"/>
<use href="#dDOT2" stroke="#a2a2a2" vector-effect="non-scaling-stroke"/>
<path d="M-43 22h0M-52 9h0M-40 13h0M-35 8h0M-60 2h0M-58 -5h0M-46 -4h0M-27 -20h0M-69 -22h0M-38 -20h0M-35 -32h0M-59 8h0M-44 35h0M28 19h0M18 18h0M55 17h0M70 20h0M69 17h0M58 16h0M38 4h0M56 6h0M54 -1h0M40 -10h0M48 -12h0M36 -9h0M-12 4h0" stroke="#f3f1f8" vector-effect="non-scaling-stroke"/>
<path d="M-44 22h0M-42 22h0M-48 18h0M-37 15h0M-36 12h0M-36 12h0M-69 12h0M-47 11h0M-33 13h0M-26 7h0M-28 9h0M-66 7h0M-65 8h0M-58 9h0M-44 10h0M-58 5h0M-61 5h0M-36 1h0M-28 -1h0M-60 -5h0M-57 -10h0M-32 -10h0M-66 -16h0M-61 -12h0M-42 -17h0M-59 -28h0M-39 -23h0M-44 -25h0M-27 -29h0M-25 -30h0M-61 -11h0M-25 -30h0M-43 3h0M-44 32h0M-45 36h0M-41 22h0M15 49h0M18 48h0M19 43h0M19 31h0M20 24h0M26 24h0M26 26h0M23 23h0M29 23h0M27 15h0M24 5h0M11 3h0M20 3h0M23 4h0M9 -9h0M10 -6h0M13 -9h0M22 -7h0M9 -8h0M13 -12h0M10 -14h0M23 -10h0M20 -20h0M19 -18h0M23 -19h0M17 -22h0M27 -22h0M33 -23h0M41 -22h0M20 -23h0M47 -22h0M41 32h0M43 29h0M48 30h0M50 25h0M63 23h0M38 20h0M65 23h0M49 10h0M52 9h0M69 11h0M68 14h0M71 14h0M39 3h0M54 3h0M53 4h0M63 1h0M36 1h0M40 3h0M51 -3h0M57 0h0M40 -2h0M55 -5h0M40 -10h0M37 -13h0M57 -11h0M52 -13h0M47 10h0M34 8h0M-8 -36h0M-8 -37h0M0 -42h0M-5 -47h0M2 -46h0M11 -48h0M7 -53h0M2 -62h0M5 -70h0M-5 15h0" stroke="#bba5e0" vector-effect="non-scaling-stroke"/>
<path d="M-61 13h0M-61 -1h0M-61 -22h0M-43 -15h0M-61 -25h0M-33 -14h0M-43 27h0M19 21h0M19 1h0M11 -9h0M17 -19h0M31 -19h0M19 2h0M9 10h0M51 23h0M64 13h0M70 14h0M38 -14h0M49 -12h0M57 -12h0M58 -12h0M57 -12h0M67 8h0M-7 -35h0M-45 41h0" stroke="#83739d" vector-effect="non-scaling-stroke"/>
<path d="M-44 29h0M-54 15h0M-54 13h0M-38 16h0M-37 16h0M-69 9h0M-52 11h0M-50 12h0M-36 12h0M-33 13h0M-28 8h0M-70 6h0M-65 9h0M-51 6h0M-53 10h0M-45 10h0M-67 4h0M-63 5h0M-44 1h0M-45 1h0M-29 3h0M-28 -3h0M-70 -5h0M-36 -9h0M-38 -6h0M-31 -4h0M-29 -5h0M-64 -7h0M-64 -6h0M-21 -10h0M-69 -18h0M-65 -16h0M-62 -16h0M-49 -16h0M-46 -16h0M-35 -20h0M-36 -18h0M-33 -18h0M-31 -18h0M-56 -22h0M-50 -25h0M-47 -26h0M-37 -23h0M-29 -24h0M-27 -27h0M-35 -30h0M-45 -32h0M-39 -34h0M-31 -36h0M-27 -32h0M-32 -38h0M-56 -22h0M-27 -35h0M-50 -32h0M-46 8h0M-42 31h0M-40 20h0M17 32h0M18 33h0M25 24h0M25 21h0M11 16h0M13 17h0M29 11h0M23 2h0M28 6h0M21 1h0M25 -1h0M26 0h0M21 -10h0M20 -6h0M31 -6h0M11 -8h0M24 -10h0M21 -9h0M24 -9h0M24 -10h0M20 -17h0M26 -20h0M34 -21h0M40 -21h0M51 -22h0M34 -16h0M14 -12h0M42 29h0M47 26h0M45 29h0M46 24h0M64 20h0M41 18h0M56 18h0M68 23h0M41 12h0M36 15h0M59 19h0M68 12h0M32 10h0M70 11h0M72 9h0M75 10h0M72 13h0M39 1h0M45 6h0M51 4h0M53 4h0M61 1h0M36 -2h0M39 2h0M41 1h0M40 3h0M63 0h0M37 -5h0M37 -6h0M40 -4h0M45 0h0M56 -5h0M37 -13h0M54 -15h0M60 -6h0M35 -14h0M57 -11h0M55 -12h0M64 17h0M50 6h0M58 -5h0M-10 -38h0M6 -35h0M8 -37h0M6 -45h0M4 -53h0M0 -54h0M-5 -47h0M-8 33h0M-1 27h0M-16 10h0M-11 5h0M-12 5h0M-8 6h0" stroke="#a886e8" vector-effect="non-scaling-stroke"/>
<path d="M-40 21h0M-50 14h0M-48 19h0M-42 6h0M-41 7h0M-33 6h0M-71 7h0M-34 4h0M-25 -5h0M-60 -5h0M-60 -9h0M-51 -6h0M-41 -6h0M-42 -11h0M-67 -17h0M-57 -14h0M-26 -29h0M-42 -23h0M19 32h0M23 -10h0M31 -12h0M48 -23h0M35 19h0M34 17h0M49 23h0M56 23h0M67 21h0M35 11h0M39 7h0M43 11h0M50 9h0M65 2h0M48 -3h0M54 -3h0M63 -1h0M65 2h0M45 -13h0M48 -12h0M2 -37h0M0 -46h0M8 -46h0" stroke="#765ea2" vector-effect="non-scaling-stroke"/>
<path d="M-48 16h0M-49 16h0M-46 17h0M-36 11h0M-72 7h0M-50 8h0M-34 11h0M-30 3h0M-58 -1h0M-47 5h0M-59 -4h0M-61 -3h0M-49 -2h0M-44 -5h0M-44 -9h0M-44 -5h0M-37 -2h0M-68 -8h0M-43 -6h0M-39 -4h0M-34 -6h0M-63 -16h0M-63 -16h0M-49 -17h0M-29 -16h0M-54 -22h0M-22 -23h0M-19 -19h0M-17 -23h0M-44 -28h0M-47 -30h0M-36 -32h0M-33 -29h0M-50 -33h0M-41 -34h0M-40 -31h0M-25 -33h0M-69 1h0M-57 9h0M-44 -32h0M-41 25h0M22 40h0M30 36h0M30 38h0M27 29h0M31 30h0M16 18h0M30 17h0M23 6h0M18 5h0M24 2h0M13 -4h0M24 -9h0M18 -13h0M23 -15h0M29 -10h0M22 -17h0M27 -25h0M32 -24h0M38 -22h0M25 -3h0M13 -10h0M21 51h0M15 -7h0M39 22h0M50 25h0M63 25h0M65 21h0M42 18h0M46 20h0M56 23h0M64 21h0M66 19h0M69 18h0M37 16h0M44 17h0M60 15h0M70 14h0M34 5h0M35 10h0M43 9h0M42 6h0M47 8h0M56 11h0M53 8h0M70 12h0M72 11h0M73 11h0M44 5h0M42 6h0M64 5h0M38 2h0M40 5h0M42 1h0M54 -3h0M34 -7h0M45 -6h0M53 -14h0M59 -10h0M34 -16h0M49 -20h0M60 23h0M38 -1h0M54 15h0M63 17h0M38 28h0M45 4h0M61 6h0M3 -39h0M-9 -39h0M3 -41h0M9 -49h0M2 -53h0M5 -57h0M8 -58h0M-17 18h0M-12 4h0M-2 2h0M-46 45h0" stroke="#9068ef" vector-effect="non-scaling-stroke"/>
<path d="M-33 12h0M-35 9h0M-69 5h0M-43 4h0M-33 -2h0M-61 -7h0M-28 -5h0M-61 -21h0M-38 -18h0M-16 -19h0M-50 -28h0M-27 -26h0M-42 -29h0M-73 -3h0M-41 23h0M18 17h0M28 2h0M32 -1h0M19 -10h0M23 -17h0M45 25h0M31 22h0M43 26h0M48 26h0M35 6h0M64 6h0M36 -3h0M53 -7h0M35 -9h0M38 -11h0M-12 -37h0M-9 -36h0M3 -51h0M8 -35h0M-6 21h0" stroke="#6549a7" vector-effect="non-scaling-stroke"/>
<path d="M-45 28h0M-46 30h0M-52 13h0M-47 17h0M-68 10h0M-64 9h0M-52 10h0M-43 11h0M-38 10h0M-36 13h0M-30 10h0M-60 8h0M-46 6h0M-39 9h0M-27 5h0M-71 7h0M-68 5h0M-64 1h0M-34 3h0M-70 -4h0M-68 -2h0M-60 -7h0M-37 -4h0M-29 -5h0M-30 -2h0M-68 -6h0M-58 -10h0M-53 -10h0M-48 -8h0M-47 -13h0M-44 -6h0M-40 -6h0M-41 -6h0M-64 -16h0M-28 -16h0M-30 -13h0M-20 -12h0M-53 -19h0M-46 -20h0M-41 -16h0M-29 -17h0M-27 -22h0M-25 -22h0M-20 -20h0M-69 -20h0M-69 -23h0M-54 -22h0M-45 -24h0M-37 -24h0M-34 -31h0M-37 -28h0M-31 -28h0M-24 -30h0M-48 -30h0M-46 -34h0M-40 -33h0M-41 -32h0M-33 -38h0M-31 -36h0M-53 8h0M-41 6h0M-27 -1h0M-28 -16h0M-45 -33h0M-35 -12h0M-52 -4h0M-42 26h0M26 36h0M29 22h0M27 19h0M61 27h0M30 22h0M28 14h0M10 13h0M27 9h0M29 9h0M13 5h0M23 5h0M26 3h0M11 -2h0M19 -3h0M23 -1h0M11 -7h0M11 -6h0M17 -12h0M23 -19h0M18 -15h0M24 -19h0M31 -17h0M32 -15h0M32 -21h0M39 -20h0M27 -24h0M42 -24h0M39 -25h0M21 17h0M26 3h0M42 29h0M42 25h0M46 23h0M50 27h0M53 25h0M48 27h0M58 27h0M63 20h0M42 19h0M45 21h0M56 22h0M57 17h0M59 14h0M62 20h0M65 18h0M33 12h0M31 11h0M34 14h0M66 10h0M70 14h0M33 8h0M37 5h0M35 7h0M54 12h0M64 11h0M75 10h0M41 1h0M61 2h0M63 6h0M65 0h0M66 1h0M42 5h0M49 -1h0M52 -13h0M48 -12h0M51 -15h0M55 -18h0M55 -19h0M42 -1h0M42 1h0M44 16h0M-10 -40h0M-6 -39h0M0 -36h0M8 -37h0M7 -38h0M4 -38h0M3 -48h0M11 -50h0M10 -53h0M2 -60h0M2 -61h0M2 -53h0M3 24h0M-13 23h0M-6 26h0M-7 18h0" stroke="#7248f6" vector-effect="non-scaling-stroke"/>
<path d="M-37 13h0M-50 5h0M-44 9h0M-30 0h0M-32 -5h0M-68 -8h0M-56 -10h0M-36 -6h0M-46 -15h0M-29 -12h0M26 32h0M19 29h0M9 1h0M20 5h0M20 8h0M16 -19h0M23 13h0M46 31h0M43 27h0M58 18h0M70 21h0M60 15h0M35 5h0M64 8h0M70 11h0M52 5h0M41 -1h0M45 18h0M-3 -49h0M-3 26h0" stroke="#5032ac" vector-effect="non-scaling-stroke"/>
<path d="M-52 11h0M-53 14h0M-39 16h0M-66 11h0M-66 9h0M-29 9h0M-51 6h0M-54 11h0M-45 9h0M-42 6h0M-40 8h0M-44 -8h0M-40 -5h0M-32 -5h0M-50 -7h0M-30 -14h0M-54 -23h0M-45 -24h0M-29 -26h0M-28 -34h0M-23 -29h0M-36 -31h0M31 39h0M13 11h0M27 -19h0M20 -21h0M36 -18h0M46 20h0M70 10h0M52 11h0M58 4h0M69 1h0M57 -14h0M55 -13h0M5 -38h0M-5 -40h0M6 -43h0M4 -57h0" stroke="#4322fc" vector-effect="non-scaling-stroke"/>
<path d="M-71 -4h0M-38 -5h0M-20 -12h0M-22 -18h0M-28 -25h0M18 14h0M51 24h0M51 -1h0M60 -14h0M34 -7h0M40 -18h0M-1 -52h0M-6 3h0" stroke="#2f18b0" vector-effect="non-scaling-stroke"/>
<use href="#chan" stroke="#f2f0f8" stroke-width="1.0" vector-effect="non-scaling-stroke"/>
</g>
<path d="M292.50 11.40V66.50H370.60" fill="none" stroke="#5a5a5a" stroke-width="1"/>
<path d="M292.60 26.40h-1.1M292.60 42.80h-1.1M292.60 58.60h-1.1M311.50 66.20v1.1M330.25 66.20v1.1M350.00 66.20v1.1M369.40 66.20v1.1" fill="none" stroke="#333" stroke-width="0.45"/>
<text x="290.00" y="28.40" font-size="5.6" fill="#333" stroke="#333" stroke-width="0.18" text-anchor="end">20</text>
<text x="290.00" y="44.80" font-size="5.6" fill="#333" stroke="#333" stroke-width="0.18" text-anchor="end">0</text>
<text x="290.00" y="60.60" font-size="5.6" fill="#333" stroke="#333" stroke-width="0.18" text-anchor="end">-20</text>
<text x="311.50" y="73.80" font-size="5.6" fill="#333" stroke="#333" stroke-width="0.18" text-anchor="middle">-20</text>
<text x="330.25" y="73.80" font-size="5.6" fill="#333" stroke="#333" stroke-width="0.18" text-anchor="middle">0</text>
<text x="350.00" y="73.80" font-size="5.6" fill="#333" stroke="#333" stroke-width="0.18" text-anchor="middle">20</text>
<text x="369.40" y="73.80" font-size="5.6" fill="#333" stroke="#333" stroke-width="0.18" text-anchor="middle">40</text>
<text x="331.60" y="80.10" font-size="6.1" fill="#111" stroke="#111" stroke-width="0.15" text-anchor="middle">tSNE_1</text>
<text transform="translate(278.40 38.80) rotate(-90)" font-size="6.1" fill="#111" stroke="#111" stroke-width="0.15" text-anchor="middle">tSNE_2</text>
<text x="331.49" y="25.33" font-size="5.8" fill="#444" text-anchor="middle">SMC</text>
<text x="310.50" y="41.11" font-size="5.8" fill="#444" text-anchor="middle">LE</text>
<text x="329.55" y="47.95" font-size="5.8" fill="#444" text-anchor="middle">LCC</text>
<text x="327.62" y="54.23" font-size="5.8" fill="#444" text-anchor="middle">CST</text>
<text x="308.95" y="61.55" font-size="5.8" fill="#444" text-anchor="middle">CE</text>
<text x="343.48" y="44.17" font-size="5.8" fill="#444" text-anchor="middle">STF</text>
<text x="354.80" y="50.69" font-size="5.8" fill="#444" text-anchor="middle">GE</text>
<text x="271.80" y="7.70" font-size="10.2" font-weight="bold" fill="#000">C</text>
<text x="331.60" y="7.80" font-size="7.2" font-weight="bold" fill="#000" stroke="#000" stroke-width="0.2" text-anchor="middle">BSG</text>
<rect x="377.00" y="22.40" width="7.00" height="36.10" fill="url(#cg)"/>
<text x="387.50" y="25.20" font-size="5.6" fill="#333" stroke="#333" stroke-width="0.15">10.0</text>
<text x="387.50" y="34.00" font-size="5.6" fill="#333" stroke="#333" stroke-width="0.15">7.5</text>
<text x="387.50" y="42.70" font-size="5.6" fill="#333" stroke="#333" stroke-width="0.15">5.0</text>
<text x="387.50" y="52.00" font-size="5.6" fill="#333" stroke="#333" stroke-width="0.15">2.5</text>
<text x="387.50" y="61.00" font-size="5.6" fill="#333" stroke="#333" stroke-width="0.15">0.0</text>
<g transform="translate(59.24 129.60) scale(0.5026 0.3950)" fill="none" stroke-linecap="round" stroke-width="1.70">
<use href="#nLE0" stroke="#c0c0c0" vector-effect="non-scaling-stroke"/>
<use href="#dLE0" stroke="#a2a2a2" vector-effect="non-scaling-stroke"/>
<use href="#nSTF0" stroke="#c0c0c0" vector-effect="non-scaling-stroke"/>
<use href="#dSTF0" stroke="#a2a2a2" vector-effect="non-scaling-stroke"/>
<use href="#nGE0" stroke="#c0c0c0" vector-effect="non-scaling-stroke"/>
<use href="#dGE0" stroke="#a2a2a2" vector-effect="non-scaling-stroke"/>
<use href="#nSMC0" stroke="#c0c0c0" vector-effect="non-scaling-stroke"/>
<use href="#dSMC0" stroke="#a2a2a2" vector-effect="non-scaling-stroke"/>
<use href="#nCST0" stroke="#c0c0c0" vector-effect="non-scaling-stroke"/>
<use href="#dCST0" stroke="#a2a2a2" vector-effect="non-scaling-stroke"/>
<use href="#nLCC0" stroke="#c0c0c0" vector-effect="non-scaling-stroke"/>
<use href="#dLCC0" stroke="#a2a2a2" vector-effect="non-scaling-stroke"/>
<use href="#nCE0" stroke="#c0c0c0" vector-effect="non-scaling-stroke"/>
<use href="#dCE0" stroke="#a2a2a2" vector-effect="non-scaling-stroke"/>
<use href="#nDOT0" stroke="#c0c0c0" vector-effect="non-scaling-stroke"/>
<use href="#dDOT0" stroke="#a2a2a2" vector-effect="non-scaling-stroke"/>
<path d="M-45 -31h0" stroke="#bba5e0" vector-effect="non-scaling-stroke"/>
<path d="M-43 4h0M-53 -6h0M-47 -12h0M-37 -5h0M-63 -17h0M-62 -28h0M-48 -28h0" stroke="#a886e8" vector-effect="non-scaling-stroke"/>
<path d="M-62 3h0M-65 -19h0M-42 -35h0" stroke="#765ea2" vector-effect="non-scaling-stroke"/>
<path d="M-70 -13h0M-45 -25h0" stroke="#9068ef" vector-effect="non-scaling-stroke"/>
<path d="M-32 2h0M-39 -5h0M-43 -10h0" stroke="#7248f6" vector-effect="non-scaling-stroke"/>
<use href="#nLE1" stroke="#c0c0c0" vector-effect="non-scaling-stroke"/>
<use href="#dLE1" stroke="#a2a2a2" vector-effect="non-scaling-stroke"/>
<use href="#nSTF1" stroke="#c0c0c0" vector-effect="non-scaling-stroke"/>
<use href="#dSTF1" stroke="#a2a2a2" vector-effect="non-scaling-stroke"/>
<use href="#nGE1" stroke="#c0c0c0" vector-effect="non-scaling-stroke"/>
<use href="#dGE1" stroke="#a2a2a2" vector-effect="non-scaling-stroke"/>
<use href="#nSMC1" stroke="#c0c0c0" vector-effect="non-scaling-stroke"/>
<use href="#dSMC1" stroke="#a2a2a2" vector-effect="non-scaling-stroke"/>
<use href="#nCST1" stroke="#c0c0c0" vector-effect="non-scaling-stroke"/>
<use href="#dCST1" stroke="#a2a2a2" vector-effect="non-scaling-stroke"/>
<use href="#nLCC1" stroke="#c0c0c0" vector-effect="non-scaling-stroke"/>
<use href="#dLCC1" stroke="#a2a2a2" vector-effect="non-scaling-stroke"/>
<use href="#nCE1" stroke="#c0c0c0" vector-effect="non-scaling-stroke"/>
<use href="#dCE1" stroke="#a2a2a2" vector-effect="non-scaling-stroke"/>
<use href="#nDOT1" stroke="#c0c0c0" vector-effect="non-scaling-stroke"/>
<use href="#dDOT1" stroke="#a2a2a2" vector-effect="non-scaling-stroke"/>
<path d="M-48 -16h0" stroke="#bba5e0" vector-effect="non-scaling-stroke"/>
<path d="M-30 -1h0" stroke="#83739d" vector-effect="non-scaling-stroke"/>
<path d="M-66 -17h0M-62 -17h0M-44 -25h0" stroke="#a886e8" vector-effect="non-scaling-stroke"/>
<path d="M-46 -17h0" stroke="#765ea2" vector-effect="non-scaling-stroke"/>
<path d="M-41 8h0M-57 -4h0M-34 -15h0" stroke="#9068ef" vector-effect="non-scaling-stroke"/>
<path d="M-36 -7h0" stroke="#6549a7" vector-effect="non-scaling-stroke"/>
<path d="M-28 0h0M-69 -4h0M-71 -4h0M-39 -24h0" stroke="#7248f6" vector-effect="non-scaling-stroke"/>
<use href="#nLE2" stroke="#c0c0c0" vector-effect="non-scaling-stroke"/>
<use href="#dLE2" stroke="#a2a2a2" vector-effect="non-scaling-stroke"/>
<use href="#nSTF2" stroke="#c0c0c0" vector-effect="non-scaling-stroke"/>
<use href="#dSTF2" stroke="#a2a2a2" vector-effect="non-scaling-stroke"/>
<use href="#nGE2" stroke="#c0c0c0" vector-effect="non-scaling-stroke"/>
<use href="#dGE2" stroke="#a2a2a2" vector-effect="non-scaling-stroke"/>
<use href="#nSMC2" stroke="#c0c0c0" vector-effect="non-scaling-stroke"/>
<use href="#dSMC2" stroke="#a2a2a2" vector-effect="non-scaling-stroke"/>
<use href="#nCST2" stroke="#c0c0c0" vector-effect="non-scaling-stroke"/>
<use href="#dCST2" stroke="#a2a2a2" vector-effect="non-scaling-stroke"/>
<use href="#nLCC2" stroke="#c0c0c0" vector-effect="non-scaling-stroke"/>
<use href="#dLCC2" stroke="#a2a2a2" vector-effect="non-scaling-stroke"/>
<use href="#nCE2" stroke="#c0c0c0" vector-effect="non-scaling-stroke"/>
<use href="#dCE2" stroke="#a2a2a2" vector-effect="non-scaling-stroke"/>
<use href="#nDOT2" stroke="#c0c0c0" vector-effect="non-scaling-stroke"/>
<use href="#dDOT2" stroke="#a2a2a2" vector-effect="non-scaling-stroke"/>
<path d="M-43 11h0" stroke="#bba5e0" vector-effect="non-scaling-stroke"/>
<path d="M-36 -9h0M-44 -6h0M-28 -16h0" stroke="#a886e8" vector-effect="non-scaling-stroke"/>
<path d="M-43 -15h0" stroke="#765ea2" vector-effect="non-scaling-stroke"/>
<path d="M-69 9h0M-47 5h0M-29 3h0M-51 -4h0M-29 -17h0M-27 -1h0" stroke="#9068ef" vector-effect="non-scaling-stroke"/>
<path d="M-49 16h0M-35 0h0M-58 -5h0M-29 -13h0M-63 -17h0M-44 -24h0" stroke="#7248f6" vector-effect="non-scaling-stroke"/>
<path d="M-42 -29h0" stroke="#5032ac" vector-effect="non-scaling-stroke"/>
<use href="#chan" stroke="#efefef" stroke-width="0.6" vector-effect="non-scaling-stroke"/>
</g>
<path d="M19.50 99.80V152.50H100.60" fill="none" stroke="#5a5a5a" stroke-width="1"/>
<path d="M19.80 113.70h-1.1M19.80 129.80h-1.1M19.80 145.30h-1.1M39.40 152.20v1.1M59.00 152.20v1.1M79.00 152.20v1.1M99.75 152.20v1.1" fill="none" stroke="#333" stroke-width="0.45"/>
<text x="17.20" y="115.70" font-size="5.6" fill="#333" stroke="#333" stroke-width="0.18" text-anchor="end">20</text>
<text x="17.20" y="131.80" font-size="5.6" fill="#333" stroke="#333" stroke-width="0.18" text-anchor="end">0</text>
<text x="17.20" y="147.30" font-size="5.6" fill="#333" stroke="#333" stroke-width="0.18" text-anchor="end">-20</text>
<text x="39.40" y="159.80" font-size="5.6" fill="#333" stroke="#333" stroke-width="0.18" text-anchor="middle">-20</text>
<text x="59.00" y="159.80" font-size="5.6" fill="#333" stroke="#333" stroke-width="0.18" text-anchor="middle">0</text>
<text x="79.00" y="159.80" font-size="5.6" fill="#333" stroke="#333" stroke-width="0.18" text-anchor="middle">20</text>
<text x="99.75" y="159.80" font-size="5.6" fill="#333" stroke="#333" stroke-width="0.18" text-anchor="middle">40</text>
<text x="60.20" y="166.10" font-size="6.1" fill="#111" stroke="#111" stroke-width="0.15" text-anchor="middle">tSNE_1</text>
<text transform="translate(5.60 126.00) rotate(-90)" font-size="6.1" fill="#111" stroke="#111" stroke-width="0.15" text-anchor="middle">tSNE_2</text>
<text x="60.14" y="112.69" font-size="5.8" fill="#444" text-anchor="middle">SMC</text>
<text x="38.33" y="128.17" font-size="5.8" fill="#444" text-anchor="middle">LE</text>
<text x="58.13" y="134.89" font-size="5.8" fill="#444" text-anchor="middle">LCC</text>
<text x="56.12" y="141.05" font-size="5.8" fill="#444" text-anchor="middle">CST</text>
<text x="36.72" y="148.24" font-size="5.8" fill="#444" text-anchor="middle">CE</text>
<text x="72.60" y="131.18" font-size="5.8" fill="#444" text-anchor="middle">STF</text>
<text x="84.37" y="137.58" font-size="5.8" fill="#444" text-anchor="middle">GE</text>
<text x="0.30" y="90.70" font-size="10.2" font-weight="bold" fill="#000">D</text>
<text x="60.20" y="95.30" font-size="7.2" font-weight="bold" fill="#000" stroke="#000" stroke-width="0.2" text-anchor="middle">TMPRSS2</text>
<rect x="107.10" y="110.00" width="7.10" height="35.00" fill="url(#cg)"/>
<text x="117.20" y="120.30" font-size="5.6" fill="#333" stroke="#333" stroke-width="0.15">7.5</text>
<text x="117.20" y="129.20" font-size="5.6" fill="#333" stroke="#333" stroke-width="0.15">5.0</text>
<text x="117.20" y="138.10" font-size="5.6" fill="#333" stroke="#333" stroke-width="0.15">2.5</text>
<text x="117.20" y="147.00" font-size="5.6" fill="#333" stroke="#333" stroke-width="0.15">0.0</text>
<g transform="translate(195.72 129.27) scale(0.4828 0.3837)" fill="none" stroke-linecap="round" stroke-width="1.70">
<use href="#nLE0" stroke="#c0c0c0" vector-effect="non-scaling-stroke"/>
<use href="#dLE0" stroke="#a2a2a2" vector-effect="non-scaling-stroke"/>
<use href="#nSTF0" stroke="#c0c0c0" vector-effect="non-scaling-stroke"/>
<use href="#dSTF0" stroke="#a2a2a2" vector-effect="non-scaling-stroke"/>
<use href="#nGE0" stroke="#c0c0c0" vector-effect="non-scaling-stroke"/>
<use href="#dGE0" stroke="#a2a2a2" vector-effect="non-scaling-stroke"/>
<use href="#nSMC0" stroke="#c0c0c0" vector-effect="non-scaling-stroke"/>
<use href="#dSMC0" stroke="#a2a2a2" vector-effect="non-scaling-stroke"/>
<use href="#nCST0" stroke="#c0c0c0" vector-effect="non-scaling-stroke"/>
<use href="#dCST0" stroke="#a2a2a2" vector-effect="non-scaling-stroke"/>
<use href="#nLCC0" stroke="#c0c0c0" vector-effect="non-scaling-stroke"/>
<use href="#dLCC0" stroke="#a2a2a2" vector-effect="non-scaling-stroke"/>
<use href="#nCE0" stroke="#c0c0c0" vector-effect="non-scaling-stroke"/>
<use href="#dCE0" stroke="#a2a2a2" vector-effect="non-scaling-stroke"/>
<use href="#nDOT0" stroke="#c0c0c0" vector-effect="non-scaling-stroke"/>
<use href="#dDOT0" stroke="#a2a2a2" vector-effect="non-scaling-stroke"/>
<path d="M-66 8h0M-69 6h0M-51 -9h0M-42 -37h0M-30 5h0M28 30h0M31 21h0M15 6h0M11 -11h0M16 -20h0M4 -36h0M9 -39h0M2 -55h0M11 -58h0M-45 45h0" stroke="#bba5e0" vector-effect="non-scaling-stroke"/>
<path d="M-63 3h0M30 7h0M-6 -41h0" stroke="#83739d" vector-effect="non-scaling-stroke"/>
<path d="M-44 33h0M-37 15h0M-62 14h0M-27 9h0M-72 6h0M-58 -11h0M-46 -16h0M-27 -31h0M-68 -14h0M-32 -28h0M21 -8h0M23 -19h0M22 -23h0M-1 -35h0M-10 -38h0M5 -41h0M-1 -48h0M-1 -45h0M-3 -50h0M8 -51h0M8 -50h0M1 -56h0M4 -54h0M3 -62h0M4 -58h0M6 -61h0M10 -61h0M-47 41h0" stroke="#a886e8" vector-effect="non-scaling-stroke"/>
<path d="M-35 -5h0M-19 -18h0M-27 -29h0M23 -14h0M23 -14h0M20 -13h0M17 -13h0M-3 -38h0M9 -63h0" stroke="#765ea2" vector-effect="non-scaling-stroke"/>
<path d="M-69 11h0M-50 11h0M-26 9h0M-62 -3h0M-47 -6h0M-43 -6h0M-53 -6h0M-30 -8h0M-24 -9h0M-69 -17h0M-20 -17h0M-52 -20h0M-15 -21h0M-70 -20h0M-45 -25h0M-30 -26h0M-24 -25h0M-21 -28h0M-43 -33h0M-26 -30h0M24 7h0M10 -8h0M21 -21h0M21 -13h0M-12 -39h0M9 -47h0M1 -52h0M1 -58h0M2 -60h0M2 -57h0M1 -61h0M1 -55h0M-43 46h0" stroke="#9068ef" vector-effect="non-scaling-stroke"/>
<path d="M-48 19h0M-33 11h0M-25 -2h0M-66 -9h0M-36 -20h0M-24 -20h0M-35 -22h0M-26 -34h0M-1 -40h0" stroke="#6549a7" vector-effect="non-scaling-stroke"/>
<path d="M-65 9h0M-71 2h0M-46 -16h0M-71 -22h0M-37 -24h0M-48 -28h0M-40 -30h0M-36 -28h0M-32 -26h0M-47 -31h0M-48 -32h0M4 -57h0M2 -57h0" stroke="#7248f6" vector-effect="non-scaling-stroke"/>
<path d="M-49 -16h0M-18 -17h0M5 -33h0M10 -45h0M-47 41h0" stroke="#5032ac" vector-effect="non-scaling-stroke"/>
<use href="#nLE1" stroke="#c0c0c0" vector-effect="non-scaling-stroke"/>
<use href="#dLE1" stroke="#a2a2a2" vector-effect="non-scaling-stroke"/>
<use href="#nSTF1" stroke="#c0c0c0" vector-effect="non-scaling-stroke"/>
<use href="#dSTF1" stroke="#a2a2a2" vector-effect="non-scaling-stroke"/>
<use href="#nGE1" stroke="#c0c0c0" vector-effect="non-scaling-stroke"/>
<use href="#dGE1" stroke="#a2a2a2" vector-effect="non-scaling-stroke"/>
<use href="#nSMC1" stroke="#c0c0c0" vector-effect="non-scaling-stroke"/>
<use href="#dSMC1" stroke="#a2a2a2" vector-effect="non-scaling-stroke"/>
<use href="#nCST1" stroke="#c0c0c0" vector-effect="non-scaling-stroke"/>
<use href="#dCST1" stroke="#a2a2a2" vector-effect="non-scaling-stroke"/>
<use href="#nLCC1" stroke="#c0c0c0" vector-effect="non-scaling-stroke"/>
<use href="#dLCC1" stroke="#a2a2a2" vector-effect="non-scaling-stroke"/>
<use href="#nCE1" stroke="#c0c0c0" vector-effect="non-scaling-stroke"/>
<use href="#dCE1" stroke="#a2a2a2" vector-effect="non-scaling-stroke"/>
<use href="#nDOT1" stroke="#c0c0c0" vector-effect="non-scaling-stroke"/>
<use href="#dDOT1" stroke="#a2a2a2" vector-effect="non-scaling-stroke"/>
<path d="M-29 -16h0M-42 -26h0M-39 -32h0M-34 -26h0M18 45h0M9 -9h0M20 -15h0M20 -11h0M16 -13h0M15 -17h0M-7 -40h0M0 -44h0M-10 -33h0" stroke="#bba5e0" vector-effect="non-scaling-stroke"/>
<path d="M-70 -16h0M-65 -6h0M21 -15h0M7 -39h0M4 -61h0" stroke="#83739d" vector-effect="non-scaling-stroke"/>
<path d="M-69 6h0M-53 0h0M-25 -3h0M-27 -1h0M-64 -19h0M-50 -19h0M-38 -18h0M-61 -24h0M-44 -25h0M-45 -30h0M-40 -33h0M-26 -28h0M-31 -36h0M-27 -32h0M-49 -24h0M-41 32h0M25 9h0M21 -8h0M12 -15h0M17 -11h0M19 -11h0M23 -12h0M14 -14h0M15 -15h0M-7 -41h0M-13 -36h0M-5 -37h0M-3 -38h0M1 -36h0M-3 -46h0M8 -51h0M6 -58h0M9 -62h0M5 -69h0" stroke="#a886e8" vector-effect="non-scaling-stroke"/>
<path d="M-42 -9h0M-20 -17h0M-45 -25h0M-21 -27h0M-48 -34h0M-43 -37h0M-7 -35h0M-4 -45h0" stroke="#765ea2" vector-effect="non-scaling-stroke"/>
<path d="M-40 18h0M-37 15h0M-64 9h0M-28 8h0M-65 5h0M-44 6h0M-44 4h0M-41 6h0M-33 2h0M-70 -2h0M-35 -2h0M-29 -18h0M-68 -22h0M-55 -23h0M-41 -28h0M-24 -32h0M-28 -34h0M-25 -30h0M-33 -39h0M10 -7h0M22 -6h0M18 -13h0M17 -22h0M1 -46h0M1 -50h0M6 -60h0M4 -60h0" stroke="#9068ef" vector-effect="non-scaling-stroke"/>
<path d="M-30 -1h0M-42 -4h0M16 -18h0M6 -33h0M0 -47h0" stroke="#6549a7" vector-effect="non-scaling-stroke"/>
<path d="M-55 15h0M-48 9h0M-51 7h0M-62 1h0M-30 0h0M-36 -8h0M-33 -8h0M-48 -17h0M-34 -19h0M-20 -19h0M-47 -26h0M-48 -26h0M-39 -31h0M-43 23h0M-40 22h0M-41 32h0M-1 -48h0M4 -54h0" stroke="#7248f6" vector-effect="non-scaling-stroke"/>
<path d="M-53 15h0M-27 6h0M-58 -1h0M-27 -4h0M-49 -17h0M-64 -18h0M-45 -26h0M-36 -23h0M-37 -30h0" stroke="#5032ac" vector-effect="non-scaling-stroke"/>
<use href="#nLE2" stroke="#c0c0c0" vector-effect="non-scaling-stroke"/>
<use href="#dLE2" stroke="#a2a2a2" vector-effect="non-scaling-stroke"/>
<use href="#nSTF2" stroke="#c0c0c0" vector-effect="non-scaling-stroke"/>
<use href="#dSTF2" stroke="#a2a2a2" vector-effect="non-scaling-stroke"/>
<use href="#nGE2" stroke="#c0c0c0" vector-effect="non-scaling-stroke"/>
<use href="#dGE2" stroke="#a2a2a2" vector-effect="non-scaling-stroke"/>
<use href="#nSMC2" stroke="#c0c0c0" vector-effect="non-scaling-stroke"/>
<use href="#dSMC2" stroke="#a2a2a2" vector-effect="non-scaling-stroke"/>
<use href="#nCST2" stroke="#c0c0c0" vector-effect="non-scaling-stroke"/>
<use href="#dCST2" stroke="#a2a2a2" vector-effect="non-scaling-stroke"/>
<use href="#nLCC2" stroke="#c0c0c0" vector-effect="non-scaling-stroke"/>
<use href="#dLCC2" stroke="#a2a2a2" vector-effect="non-scaling-stroke"/>
<use href="#nCE2" stroke="#c0c0c0" vector-effect="non-scaling-stroke"/>
<use href="#dCE2" stroke="#a2a2a2" vector-effect="non-scaling-stroke"/>
<use href="#nDOT2" stroke="#c0c0c0" vector-effect="non-scaling-stroke"/>
<use href="#dDOT2" stroke="#a2a2a2" vector-effect="non-scaling-stroke"/>
<path d="M-60 -20h0M-33 -18h0M-27 -22h0M-47 -26h0M-39 -22h0M-27 -35h0M11 -8h0M10 -14h0M11 -13h0M21 -9h0M39 -20h0M6 -34h0M9 -49h0M4 -50h0M5 -70h0" stroke="#bba5e0" vector-effect="non-scaling-stroke"/>
<path d="M17 -19h0M-12 -37h0" stroke="#83739d" vector-effect="non-scaling-stroke"/>
<path d="M-45 28h0M-48 16h0M-43 22h0M-53 14h0M-66 7h0M-47 5h0M-67 4h0M-70 -5h0M-70 -1h0M-34 -6h0M-67 -11h0M-65 -14h0M-64 -16h0M-48 -20h0M-56 -22h0M-36 -15h0M-29 -17h0M-45 -24h0M-47 -33h0M-41 -32h0M-28 -32h0M-32 -38h0M-33 -38h0M-69 1h0M11 -7h0M9 -9h0M16 -12h0M18 -13h0M17 -21h0M28 26h0M19 -22h0M-9 -34h0M5 -37h0M-5 -48h0M2 -46h0M2 -62h0M6 -63h0" stroke="#a886e8" vector-effect="non-scaling-stroke"/>
<path d="M-39 -10h0M-69 -16h0M-20 -12h0M-27 -26h0M-23 -27h0M-26 -29h0M-37 -32h0M14 -11h0M-7 -35h0M-3 -49h0M10 -59h0M-47 40h0" stroke="#765ea2" vector-effect="non-scaling-stroke"/>
<path d="M-46 19h0M-54 12h0M-50 9h0M-38 10h0M-42 11h0M-33 13h0M-65 8h0M-47 5h0M-40 -5h0M-35 -1h0M-29 -5h0M-57 -10h0M-43 -6h0M-23 -12h0M-20 -12h0M-46 -20h0M-25 -16h0M-56 -22h0M-47 -28h0M-44 -24h0M-29 -24h0M-40 -27h0M-34 -31h0M-35 -30h0M-37 -32h0M-48 -30h0M-25 -30h0M11 -10h0M11 -16h0M23 -19h0M14 -12h0M-9 -34h0M8 -37h0M-7 -40h0M2 -43h0M9 -45h0M11 -50h0M10 -53h0M4 -57h0M2 -56h0M-2 -54h0M2 -64h0M5 -63h0M4 -61h0M-5 -47h0" stroke="#9068ef" vector-effect="non-scaling-stroke"/>
<path d="M-61 -21h0M-49 -16h0M-45 -27h0M-2 -41h0M3 -51h0" stroke="#6549a7" vector-effect="non-scaling-stroke"/>
<path d="M-69 9h0M-48 11h0M-45 10h0M-27 5h0M-28 -3h0M-44 -5h0M-39 -9h0M-46 -12h0M-69 -18h0M-48 -20h0M-19 -19h0M-36 -23h0M-37 -26h0M-27 -27h0M-47 -30h0M-47 -28h0M-46 -34h0M-53 8h0" stroke="#7248f6" vector-effect="non-scaling-stroke"/>
<path d="M-36 -6h0M-38 -5h0M-31 -17h0M-47 -26h0M-40 -35h0M-43 27h0" stroke="#5032ac" vector-effect="non-scaling-stroke"/>
<use href="#chan" stroke="#efefef" stroke-width="0.6" vector-effect="non-scaling-stroke"/>
</g>
<path d="M157.50 99.40V151.50H235.60" fill="none" stroke="#5a5a5a" stroke-width="1"/>
<path d="M157.50 113.90h-1.1M157.50 129.30h-1.1M157.50 144.60h-1.1M176.50 151.30v1.1M195.60 151.30v1.1M215.00 151.30v1.1M234.40 151.30v1.1" fill="none" stroke="#333" stroke-width="0.45"/>
<text x="154.90" y="115.90" font-size="5.6" fill="#333" stroke="#333" stroke-width="0.18" text-anchor="end">20</text>
<text x="154.90" y="131.30" font-size="5.6" fill="#333" stroke="#333" stroke-width="0.18" text-anchor="end">0</text>
<text x="154.90" y="146.60" font-size="5.6" fill="#333" stroke="#333" stroke-width="0.18" text-anchor="end">-20</text>
<text x="176.50" y="158.90" font-size="5.6" fill="#333" stroke="#333" stroke-width="0.18" text-anchor="middle">-20</text>
<text x="195.60" y="158.90" font-size="5.6" fill="#333" stroke="#333" stroke-width="0.18" text-anchor="middle">0</text>
<text x="215.00" y="158.90" font-size="5.6" fill="#333" stroke="#333" stroke-width="0.18" text-anchor="middle">20</text>
<text x="234.40" y="158.90" font-size="5.6" fill="#333" stroke="#333" stroke-width="0.18" text-anchor="middle">40</text>
<text x="196.55" y="165.20" font-size="6.1" fill="#111" stroke="#111" stroke-width="0.15" text-anchor="middle">tSNE_1</text>
<text transform="translate(143.30 125.35) rotate(-90)" font-size="6.1" fill="#111" stroke="#111" stroke-width="0.15" text-anchor="middle">tSNE_2</text>
<text x="196.59" y="112.90" font-size="5.8" fill="#444" text-anchor="middle">SMC</text>
<text x="175.64" y="127.94" font-size="5.8" fill="#444" text-anchor="middle">LE</text>
<text x="194.66" y="134.46" font-size="5.8" fill="#444" text-anchor="middle">LCC</text>
<text x="192.73" y="140.45" font-size="5.8" fill="#444" text-anchor="middle">CST</text>
<text x="174.09" y="147.43" font-size="5.8" fill="#444" text-anchor="middle">CE</text>
<text x="208.56" y="130.86" font-size="5.8" fill="#444" text-anchor="middle">STF</text>
<text x="219.86" y="137.07" font-size="5.8" fill="#444" text-anchor="middle">GE</text>
<text x="136.50" y="90.90" font-size="10.2" font-weight="bold" fill="#000">E</text>
<text x="196.55" y="95.30" font-size="7.2" font-weight="bold" fill="#000" stroke="#000" stroke-width="0.2" text-anchor="middle">TMPRSS4</text>
<rect x="242.20" y="110.00" width="7.10" height="33.70" fill="url(#cg)"/>
<text x="252.90" y="112.30" font-size="5.6" fill="#333" stroke="#333" stroke-width="0.15">10.0</text>
<text x="252.90" y="121.00" font-size="5.6" fill="#333" stroke="#333" stroke-width="0.15">7.5</text>
<text x="252.90" y="129.50" font-size="5.6" fill="#333" stroke="#333" stroke-width="0.15">5.0</text>
<text x="252.90" y="137.80" font-size="5.6" fill="#333" stroke="#333" stroke-width="0.15">2.5</text>
<text x="252.90" y="146.30" font-size="5.6" fill="#333" stroke="#333" stroke-width="0.15">0.0</text>
<g transform="translate(335.43 129.23) scale(0.5294 0.3825)" fill="none" stroke-linecap="round" stroke-width="1.70">
<use href="#nLE0" stroke="#c0c0c0" vector-effect="non-scaling-stroke"/>
<use href="#dLE0" stroke="#a2a2a2" vector-effect="non-scaling-stroke"/>
<use href="#nSTF0" stroke="#c0c0c0" vector-effect="non-scaling-stroke"/>
<use href="#dSTF0" stroke="#a2a2a2" vector-effect="non-scaling-stroke"/>
<use href="#nGE0" stroke="#c0c0c0" vector-effect="non-scaling-stroke"/>
<use href="#dGE0" stroke="#a2a2a2" vector-effect="non-scaling-stroke"/>
<use href="#nSMC0" stroke="#c0c0c0" vector-effect="non-scaling-stroke"/>
<use href="#dSMC0" stroke="#a2a2a2" vector-effect="non-scaling-stroke"/>
<use href="#nCST0" stroke="#c0c0c0" vector-effect="non-scaling-stroke"/>
<use href="#dCST0" stroke="#a2a2a2" vector-effect="non-scaling-stroke"/>
<use href="#nLCC0" stroke="#c0c0c0" vector-effect="non-scaling-stroke"/>
<use href="#dLCC0" stroke="#a2a2a2" vector-effect="non-scaling-stroke"/>
<use href="#nCE0" stroke="#c0c0c0" vector-effect="non-scaling-stroke"/>
<use href="#dCE0" stroke="#a2a2a2" vector-effect="non-scaling-stroke"/>
<use href="#nDOT0" stroke="#c0c0c0" vector-effect="non-scaling-stroke"/>
<use href="#dDOT0" stroke="#a2a2a2" vector-effect="non-scaling-stroke"/>
<path d="M-47 17h0M-49 12h0M-46 16h0M-34 13h0M-50 9h0M-54 8h0M-55 6h0M-43 4h0M-42 8h0M-60 4h0M-63 1h0M-34 -2h0M-51 -5h0M-47 -7h0M-28 -2h0M-60 -11h0M-59 -10h0M-51 -9h0M-51 -6h0M-48 -12h0M-39 -6h0M-37 -8h0M-49 -13h0M-47 -13h0M-31 -16h0M-65 -19h0M-62 -17h0M-25 -20h0M-15 -21h0M-48 -26h0M-43 -33h0M-42 -37h0M-43 -33h0M-33 -39h0M-32 -28h0M-30 5h0M-63 -24h0M-49 5h0M-37 -16h0M-30 -29h0M31 25h0M28 23h0M11 6h0M25 2h0M23 2h0M10 -2h0M10 -6h0M32 -4h0M20 -10h0M21 -10h0M21 -11h0M26 -13h0M29 -12h0M16 -16h0M16 -14h0M14 -16h0M26 -19h0M24 -22h0M26 -20h0M42 -23h0M41 -23h0M27 -20h0M10 2h0M28 14h0M49 26h0M34 24h0M64 21h0M32 21h0M45 17h0M54 23h0M55 18h0M53 20h0M56 17h0M64 13h0M48 8h0M50 10h0M65 11h0M69 8h0M71 8h0M32 8h0M36 -1h0M40 2h0M42 1h0M51 9h0M61 4h0M68 2h0M36 -2h0M41 1h0M48 -3h0M49 -6h0M64 1h0M37 -5h0M44 -5h0M56 -3h0M35 -10h0M39 -15h0M49 -17h0M57 -13h0M61 -9h0M39 -12h0M36 -13h0M47 -20h0M54 -1h0M-13 -37h0M-11 -34h0M0 -43h0M4 -53h0M-1 -53h0M7 -59h0M6 -35h0M1 -55h0M-12 9h0" stroke="#f3f1f8" vector-effect="non-scaling-stroke"/>
<path d="M-28 9h0M-31 8h0M-60 10h0M-31 4h0M-60 2h0M-37 -1h0M-43 -6h0M-53 -6h0M-35 -18h0M-43 -28h0M-44 -27h0M21 45h0M25 25h0M18 22h0M20 6h0M9 -7h0M26 -19h0M42 31h0M61 22h0M45 17h0M45 7h0M69 4h0M60 -3h0M42 -6h0M35 -9h0M38 4h0M5 -38h0M6 -46h0M6 -61h0M-12 21h0M1 25h0M-14 21h0" stroke="#bba5e0" vector-effect="non-scaling-stroke"/>
<path d="M-33 11h0M-62 3h0M-26 1h0M-18 -17h0M-23 -22h0M-22 -26h0M25 -4h0M49 26h0M43 5h0M34 -14h0M-1 -53h0M-7 27h0M-9 19h0" stroke="#83739d" vector-effect="non-scaling-stroke"/>
<path d="M-46 18h0M-52 13h0M-69 11h0M-62 14h0M-38 11h0M-39 9h0M-43 10h0M-26 9h0M-65 9h0M-63 5h0M-54 7h0M-44 8h0M-36 7h0M-69 5h0M-69 6h0M-67 3h0M-54 1h0M-47 1h0M-43 2h0M-33 0h0M-30 2h0M-35 4h0M-71 -3h0M-62 -3h0M-51 -3h0M-46 -9h0M-38 -5h0M-35 -2h0M-32 -1h0M-30 -4h0M-69 -8h0M-69 -11h0M-70 -13h0M-68 -10h0M-60 -13h0M-51 -8h0M-47 -6h0M-51 -7h0M-51 -12h0M-47 -7h0M-39 -8h0M-24 -9h0M-22 -10h0M-25 -10h0M-58 -11h0M-61 -19h0M-46 -16h0M-32 -20h0M-31 -17h0M-16 -22h0M-18 -18h0M-21 -19h0M-55 -26h0M-49 -26h0M-37 -21h0M-37 -24h0M-32 -23h0M-34 -23h0M-35 -22h0M-45 -31h0M-24 -25h0M-42 -37h0M-41 -32h0M-32 -34h0M-23 -31h0M-31 -38h0M-68 -14h0M-20 -23h0M-68 -21h0M-49 7h0M-47 4h0M14 46h0M28 37h0M25 25h0M20 19h0M29 25h0M29 23h0M11 13h0M14 11h0M14 12h0M15 8h0M11 9h0M10 0h0M15 6h0M20 8h0M24 6h0M12 -3h0M21 -8h0M25 -9h0M11 -11h0M21 -13h0M17 -15h0M16 -20h0M18 -18h0M23 -18h0M33 -20h0M25 -24h0M20 26h0M16 -5h0M42 32h0M47 24h0M32 25h0M32 25h0M43 26h0M43 26h0M53 26h0M33 23h0M36 21h0M34 23h0M35 18h0M48 22h0M53 18h0M69 20h0M33 12h0M42 17h0M65 13h0M32 11h0M35 8h0M32 12h0M35 5h0M34 9h0M42 10h0M41 11h0M50 12h0M53 11h0M60 9h0M67 10h0M67 14h0M71 13h0M67 13h0M69 10h0M69 14h0M40 -2h0M55 3h0M56 3h0M58 3h0M64 6h0M58 4h0M68 1h0M65 6h0M66 3h0M63 1h0M38 1h0M49 0h0M51 -5h0M49 -1h0M54 -1h0M60 -3h0M62 1h0M42 -1h0M48 -4h0M43 -8h0M45 -6h0M43 0h0M39 -12h0M40 -12h0M56 -17h0M57 -6h0M61 -8h0M45 -16h0M50 -15h0M58 21h0M52 -4h0M68 8h0M58 -7h0M-1 -35h0M-4 -34h0M4 -39h0M9 -39h0M-12 -39h0M-10 -38h0M-4 -43h0M-4 -40h0M0 -43h0M-1 -47h0M-1 -48h0M-2 -45h0M1 -56h0M2 -60h0M1 -61h0M-18 18h0M-14 20h0M-7 1h0M-10 6h0M-45 45h0" stroke="#a886e8" vector-effect="non-scaling-stroke"/>
<path d="M-53 12h0M-69 11h0M-57 9h0M-44 4h0M-38 -8h0M-66 -9h0M-50 -9h0M-43 -10h0M-36 -7h0M-22 -12h0M-68 -19h0M-49 -16h0M-24 -20h0M-53 -23h0M-47 -26h0M-42 -35h0M-33 0h0M-32 -4h0M-45 -8h0M-41 24h0M12 41h0M33 38h0M23 21h0M16 18h0M14 17h0M13 12h0M30 5h0M30 7h0M23 -13h0M17 -15h0M20 -21h0M41 -24h0M28 -7h0M47 31h0M44 23h0M44 22h0M71 18h0M43 14h0M65 12h0M70 11h0M59 1h0M65 5h0M58 2h0M60 -7h0M44 -6h0M-3 -46h0M6 -42h0M-7 9h0" stroke="#765ea2" vector-effect="non-scaling-stroke"/>
<path d="M-47 34h0M-40 22h0M-51 11h0M-44 18h0M-48 16h0M-37 17h0M-66 8h0M-65 8h0M-61 12h0M-52 9h0M-50 11h0M-27 9h0M-72 8h0M-60 10h0M-53 11h0M-27 6h0M-71 0h0M-70 7h0M-69 4h0M-65 2h0M-53 1h0M-45 1h0M-43 1h0M-32 2h0M-28 0h0M-58 -6h0M-57 -3h0M-61 -5h0M-51 -2h0M-43 -7h0M-57 -14h0M-43 -10h0M-37 -5h0M-30 -8h0M-30 -8h0M-33 -8h0M-22 -11h0M-58 -13h0M-47 -16h0M-51 -19h0M-50 -16h0M-48 -16h0M-60 -20h0M-50 -17h0M-42 -21h0M-43 -17h0M-35 -17h0M-22 -22h0M-47 -27h0M-46 -29h0M-36 -28h0M-29 -26h0M-52 -30h0M-48 -32h0M-41 -35h0M-41 -31h0M-33 -35h0M-23 -35h0M-26 -30h0M-54 9h0M-52 5h0M-35 -33h0M-69 3h0M-43 33h0M-42 28h0M-43 28h0M17 42h0M24 46h0M29 34h0M24 25h0M20 21h0M13 18h0M15 11h0M12 11h0M9 11h0M10 9h0M13 4h0M21 4h0M10 2h0M16 -8h0M21 -8h0M26 -5h0M23 -11h0M21 -12h0M19 -12h0M24 -7h0M28 -13h0M31 -12h0M24 -17h0M21 -21h0M24 -17h0M18 -22h0M22 -21h0M27 -21h0M32 -22h0M32 -23h0M37 -24h0M36 -23h0M34 -21h0M39 -21h0M19 -10h0M29 -16h0M27 2h0M25 -6h0M42 30h0M43 30h0M47 30h0M47 30h0M33 26h0M39 22h0M50 25h0M54 28h0M58 26h0M59 22h0M65 22h0M31 21h0M53 18h0M62 20h0M57 18h0M69 18h0M65 19h0M70 17h0M36 14h0M39 14h0M63 13h0M68 15h0M65 9h0M70 11h0M65 14h0M64 5h0M65 8h0M65 10h0M69 9h0M49 9h0M57 8h0M56 6h0M70 3h0M69 4h0M66 4h0M38 -3h0M51 0h0M60 -2h0M58 -1h0M63 1h0M36 -8h0M35 -2h0M33 -5h0M39 -4h0M40 -4h0M44 -3h0M43 -6h0M53 -7h0M39 -15h0M40 -16h0M57 -13h0M47 -16h0M55 -19h0M42 13h0M-9 -35h0M4 -36h0M0 -34h0M4 -35h0M6 -35h0M-5 -46h0M-6 -45h0M-3 -50h0M8 -43h0M9 -53h0M8 -50h0M8 -51h0M8 -53h0M9 -53h0M2 -55h0M10 -61h0M10 -61h0M-10 27h0M-6 20h0M-43 46h0M-45 40h0" stroke="#9068ef" vector-effect="non-scaling-stroke"/>
<path d="M-49 17h0M-48 19h0M-36 12h0M-39 16h0M-45 7h0M-26 5h0M-71 5h0M-63 3h0M-46 6h0M-34 2h0M-35 -5h0M-36 -5h0M-61 -12h0M-53 -6h0M-60 -15h0M-34 -15h0M-32 -15h0M-22 -13h0M-18 -15h0M-36 -20h0M-19 -18h0M-58 -26h0M-45 -29h0M-35 -22h0M-45 -27h0M-24 -32h0M-40 -36h0M-22 -14h0M-35 -30h0M10 10h0M8 1h0M23 1h0M23 -4h0M23 -5h0M22 -6h0M20 -13h0M29 -12h0M31 -23h0M42 -22h0M42 23h0M61 20h0M49 11h0M63 10h0M42 4h0M52 -3h0M65 -1h0M42 -7h0M46 -1h0M56 -7h0M62 -5h0M62 -10h0M35 -14h0M36 -16h0M51 13h0M-6 -36h0M-6 -41h0M6 -56h0M-47 41h0" stroke="#6549a7" vector-effect="non-scaling-stroke"/>
<path d="M-45 24h0M-46 22h0M-46 20h0M-37 17h0M-68 10h0M-60 13h0M-54 10h0M-46 11h0M-46 14h0M-63 5h0M-60 8h0M-47 4h0M-33 10h0M-34 10h0M-30 3h0M-74 5h0M-72 6h0M-62 3h0M-47 1h0M-45 5h0M-36 3h0M-36 0h0M-30 -1h0M-59 -7h0M-47 -6h0M-39 -8h0M-32 -1h0M-30 1h0M-57 -14h0M-61 -11h0M-48 -6h0M-47 -12h0M-39 -6h0M-37 -5h0M-24 -12h0M-69 -17h0M-58 -14h0M-46 -16h0M-51 -18h0M-50 -14h0M-48 -17h0M-32 -16h0M-21 -14h0M-20 -17h0M-53 -19h0M-47 -16h0M-46 -19h0M-36 -15h0M-27 -21h0M-29 -21h0M-21 -17h0M-19 -21h0M-21 -21h0M-71 -22h0M-68 -22h0M-70 -20h0M-62 -28h0M-53 -25h0M-47 -26h0M-25 -26h0M-48 -25h0M-48 -28h0M-41 -29h0M-33 -28h0M-22 -28h0M-21 -28h0M-27 -31h0M-47 -32h0M-37 4h0M-35 11h0M-42 -8h0M-22 -15h0M-65 9h0M-44 36h0M-43 37h0M-40 21h0M21 26h0M18 19h0M11 16h0M29 15h0M14 7h0M25 9h0M28 9h0M12 7h0M10 -2h0M8 -9h0M12 -9h0M24 -11h0M28 -6h0M22 -15h0M31 -12h0M17 -17h0M18 -15h0M22 -23h0M36 -18h0M49 -23h0M48 -22h0M21 -13h0M44 26h0M32 24h0M34 21h0M41 22h0M38 23h0M47 27h0M55 28h0M48 20h0M47 21h0M58 17h0M57 16h0M68 20h0M68 24h0M71 21h0M31 11h0M40 13h0M39 14h0M43 15h0M57 20h0M67 13h0M63 11h0M68 15h0M67 13h0M37 4h0M36 10h0M33 11h0M45 10h0M58 10h0M53 13h0M67 12h0M63 11h0M73 8h0M71 13h0M39 3h0M60 2h0M60 6h0M65 -2h0M36 -3h0M38 0h0M37 -1h0M43 3h0M38 4h0M64 2h0M34 -5h0M34 -6h0M62 -8h0M38 -16h0M49 -10h0M59 -8h0M35 -14h0M44 -16h0M52 -16h0M54 -16h0M58 -14h0M58 -12h0M55 -14h0M63 20h0M35 9h0M38 9h0M42 -9h0M-11 -35h0M-8 -37h0M-6 -36h0M1 -34h0M0 -37h0M-10 -39h0M-7 -44h0M-2 -43h0M-1 -42h0M5 -41h0M1 -42h0M-1 -48h0M-2 -50h0M7 -48h0M9 -50h0M1 -52h0M3 -62h0M4 -57h0M2 -57h0M11 -58h0M8 -58h0M1 -62h0M-6 29h0M2 14h0" stroke="#7248f6" vector-effect="non-scaling-stroke"/>
<path d="M-63 11h0M-39 6h0M-47 3h0M-31 0h0M-56 -13h0M-52 -9h0M-67 -17h0M-50 -16h0M-27 -29h0M-23 -35h0M-26 -34h0M-72 -6h0M-55 -24h0M23 26h0M29 25h0M20 8h0M30 4h0M11 -15h0M23 -14h0M15 -13h0M17 -13h0M17 -23h0M29 -22h0M44 -24h0M23 2h0M22 -16h0M26 -1h0M40 26h0M43 24h0M42 22h0M34 14h0M63 11h0M64 12h0M36 5h0M39 10h0M57 7h0M54 -4h0M60 0h0M65 -2h0M44 -6h0M40 -3h0M58 -6h0M56 -6h0M38 31h0M-9 -42h0M-5 -37h0M8 -40h0M9 -63h0M2 23h0M-13 21h0" stroke="#5032ac" vector-effect="non-scaling-stroke"/>
<path d="M-45 32h0M-42 12h0M-34 15h0M-54 5h0M-54 8h0M-52 4h0M-55 10h0M-71 2h0M-61 1h0M-55 -1h0M-51 -4h0M-30 -2h0M-64 -7h0M-65 -5h0M-68 -8h0M-49 -12h0M-67 -15h0M-63 -17h0M-58 -20h0M-52 -20h0M-49 -20h0M-29 -18h0M-60 -26h0M-48 -25h0M-45 -25h0M-47 -31h0M-30 -37h0M28 30h0M27 23h0M27 23h0M30 22h0M29 16h0M24 7h0M29 6h0M27 5h0M28 4h0M19 0h0M10 -8h0M10 -8h0M25 -10h0M21 -7h0M29 -12h0M18 -22h0M23 -19h0M22 -23h0M36 -24h0M18 4h0M29 5h0M19 4h0M46 26h0M45 26h0M32 21h0M45 26h0M50 26h0M62 25h0M54 21h0M65 19h0M66 20h0M34 7h0M34 7h0M35 6h0M63 7h0M51 7h0M67 5h0M63 1h0M58 -1h0M42 -5h0M37 -15h0M47 -16h0M62 26h0M58 10h0M-12 -40h0M0 -36h0M2 -35h0M-11 -39h0M9 -47h0M8 -51h0M8 -59h0M4 -63h0M-4 24h0M-5 19h0M-3 -1h0" stroke="#4322fc" vector-effect="non-scaling-stroke"/>
<path d="M-39 9h0M-25 -2h0M-33 -13h0M-40 -29h0M-38 -31h0M-28 -30h0M17 17h0M26 8h0M13 6h0M19 1h0M25 -8h0M56 8h0M42 4h0M49 -4h0M63 -2h0M35 -2h0M53 -13h0M33 -3h0M-8 -39h0M10 -45h0" stroke="#2f18b0" vector-effect="non-scaling-stroke"/>
<use href="#nLE1" stroke="#c0c0c0" vector-effect="non-scaling-stroke"/>
<use href="#dLE1" stroke="#a2a2a2" vector-effect="non-scaling-stroke"/>
<use href="#nSTF1" stroke="#c0c0c0" vector-effect="non-scaling-stroke"/>
<use href="#dSTF1" stroke="#a2a2a2" vector-effect="non-scaling-stroke"/>
<use href="#nGE1" stroke="#c0c0c0" vector-effect="non-scaling-stroke"/>
<use href="#dGE1" stroke="#a2a2a2" vector-effect="non-scaling-stroke"/>
<use href="#nSMC1" stroke="#c0c0c0" vector-effect="non-scaling-stroke"/>
<use href="#dSMC1" stroke="#a2a2a2" vector-effect="non-scaling-stroke"/>
<use href="#nCST1" stroke="#c0c0c0" vector-effect="non-scaling-stroke"/>
<use href="#dCST1" stroke="#a2a2a2" vector-effect="non-scaling-stroke"/>
<use href="#nLCC1" stroke="#c0c0c0" vector-effect="non-scaling-stroke"/>
<use href="#dLCC1" stroke="#a2a2a2" vector-effect="non-scaling-stroke"/>
<use href="#nCE1" stroke="#c0c0c0" vector-effect="non-scaling-stroke"/>
<use href="#dCE1" stroke="#a2a2a2" vector-effect="non-scaling-stroke"/>
<use href="#nDOT1" stroke="#c0c0c0" vector-effect="non-scaling-stroke"/>
<use href="#dDOT1" stroke="#a2a2a2" vector-effect="non-scaling-stroke"/>
<path d="M-37 13h0M-48 9h0M-36 13h0M-40 10h0M-52 9h0M-41 8h0M-40 7h0M-70 7h0M-69 6h0M-45 4h0M-36 0h0M-33 2h0M-27 -4h0M-71 -4h0M-62 -5h0M-35 -2h0M-31 -2h0M-69 -9h0M-60 -12h0M-52 -8h0M-36 -7h0M-42 -4h0M-37 -9h0M-34 -9h0M-32 -9h0M-70 -17h0M-58 -11h0M-48 -16h0M-31 -14h0M-61 -16h0M-36 -18h0M-23 -22h0M-54 -23h0M-43 -26h0M-42 -32h0M-43 -34h0M-25 -29h0M-24 -31h0M-23 -30h0M-47 -33h0M-48 -33h0M-27 -32h0M-25 -30h0M-33 -35h0M-36 16h0M-36 13h0M-64 -12h0M27 27h0M27 7h0M29 8h0M12 3h0M14 -3h0M19 -8h0M22 -6h0M26 -5h0M9 -9h0M9 -10h0M9 -7h0M12 -15h0M20 -11h0M17 -14h0M26 -17h0M35 -17h0M26 -23h0M32 -22h0M15 -15h0M16 -11h0M40 20h0M47 28h0M42 18h0M58 15h0M61 15h0M68 22h0M66 13h0M32 12h0M32 7h0M36 11h0M40 6h0M47 12h0M55 12h0M64 10h0M37 1h0M58 7h0M60 1h0M62 2h0M38 3h0M61 -6h0M51 -17h0M53 -11h0M55 -12h0M45 23h0M1 -32h0M5 -34h0M5 -35h0M-9 -41h0M0 -44h0M-3 -45h0M0 -47h0M0 -48h0M6 -58h0M5 -37h0M4 26h0" stroke="#f3f1f8" vector-effect="non-scaling-stroke"/>
<path d="M-54 10h0M-33 11h0M-64 8h0M-39 9h0M-69 6h0M-57 2h0M-34 -2h0M-58 -6h0M-41 -7h0M-39 -17h0M-38 -31h0M-33 -28h0M-31 -36h0M27 21h0M15 10h0M26 7h0M29 6h0M15 -3h0M17 -22h0M36 -21h0M29 -25h0M37 -22h0M52 27h0M61 23h0M44 23h0M48 23h0M61 14h0M45 15h0M56 14h0M71 10h0M51 5h0M38 -13h0M56 9h0M-11 26h0M0 29h0M-15 45h0" stroke="#bba5e0" vector-effect="non-scaling-stroke"/>
<path d="M-49 13h0M-38 7h0M-38 -3h0M-33 0h0M-32 -18h0M-28 -18h0M-20 -23h0M-21 -34h0M-49 10h0M29 6h0M21 -1h0M24 -3h0M19 -14h0M33 -16h0M62 25h0M69 18h0M33 17h0M33 4h0M63 5h0M70 12h0M38 -2h0M54 7h0M60 6h0M42 2h0M-4 -45h0" stroke="#83739d" vector-effect="non-scaling-stroke"/>
<path d="M-46 19h0M-47 16h0M-43 21h0M-40 17h0M-35 14h0M-53 9h0M-46 13h0M-38 15h0M-37 13h0M-30 9h0M-28 6h0M-70 9h0M-71 7h0M-41 6h0M-36 10h0M-68 6h0M-66 0h0M-65 1h0M-65 3h0M-59 3h0M-59 0h0M-61 0h0M-62 1h0M-56 2h0M-42 5h0M-41 4h0M-29 1h0M-63 -4h0M-60 -3h0M-42 -5h0M-30 0h0M-32 -3h0M-70 -9h0M-64 -7h0M-50 -9h0M-40 -4h0M-64 -19h0M-66 -17h0M-63 -15h0M-61 -11h0M-44 -16h0M-30 -14h0M-31 -15h0M-17 -15h0M-63 -18h0M-58 -21h0M-58 -18h0M-63 -21h0M-48 -17h0M-48 -19h0M-38 -19h0M-30 -17h0M-17 -22h0M-67 -23h0M-69 -20h0M-62 -28h0M-47 -26h0M-51 -26h0M-38 -22h0M-46 -28h0M-45 -30h0M-39 -32h0M-43 -31h0M-42 -28h0M-39 -31h0M-29 -29h0M-21 -28h0M-47 -31h0M-31 -33h0M-33 -35h0M-26 -29h0M-33 -39h0M-34 -36h0M-31 -37h0M-32 -14h0M-66 -13h0M-49 -17h0M-59 -27h0M-40 -22h0M26 34h0M33 37h0M24 23h0M21 26h0M24 24h0M22 18h0M13 18h0M28 15h0M10 6h0M8 8h0M10 6h0M20 6h0M22 6h0M11 1h0M19 -1h0M20 0h0M26 -1h0M20 0h0M20 -3h0M10 -7h0M25 -9h0M27 -5h0M10 -11h0M26 -11h0M19 -11h0M20 -11h0M25 -13h0M29 -14h0M26 -10h0M19 -17h0M21 -18h0M27 -19h0M32 -14h0M37 -17h0M18 -21h0M16 -19h0M31 -22h0M34 -20h0M37 -21h0M28 -25h0M32 -24h0M29 -24h0M41 -22h0M14 8h0M18 0h0M12 -9h0M45 30h0M40 25h0M42 22h0M44 22h0M42 21h0M52 27h0M50 26h0M64 23h0M61 22h0M31 21h0M44 22h0M41 21h0M54 19h0M61 18h0M31 10h0M44 15h0M57 16h0M44 11h0M47 10h0M63 10h0M66 7h0M67 11h0M70 7h0M38 1h0M39 3h0M41 -1h0M45 6h0M49 4h0M50 7h0M49 5h0M53 6h0M65 5h0M36 2h0M60 0h0M35 -7h0M39 -4h0M46 -6h0M55 -3h0M61 -8h0M40 -13h0M60 -12h0M36 -14h0M53 14h0M41 -11h0M45 10h0M-8 -35h0M-11 -35h0M-5 -37h0M4 -37h0M-4 -41h0M-4 -43h0M-6 -42h0M-2 -42h0M-1 -43h0M6 -42h0M4 -44h0M-2 -47h0M-3 -49h0M9 -50h0M2 -54h0M8 -51h0M0 -54h0M10 -58h0M9 -62h0M4 -43h0M-9 -33h0M-4 31h0M-14 19h0" stroke="#a886e8" vector-effect="non-scaling-stroke"/>
<path d="M-52 12h0M-66 8h0M-27 6h0M-38 6h0M-34 7h0M-58 -1h0M-36 2h0M-71 -17h0M-63 -18h0M-59 -19h0M-45 -25h0M-37 -30h0M-43 -37h0M-65 -6h0M-43 35h0M16 31h0M21 31h0M28 20h0M27 22h0M16 17h0M11 14h0M15 -8h0M18 -20h0M25 -20h0M48 24h0M60 18h0M39 15h0M36 11h0M65 10h0M66 8h0M32 5h0M52 7h0M50 7h0M60 6h0M35 -3h0M34 -1h0M56 1h0M57 -4h0M37 -13h0M53 -16h0M64 2h0M63 22h0M-11 -34h0M9 -35h0M2 -42h0M-4 -44h0M2 -49h0M4 -60h0M-13 26h0M-1 32h0M-13 22h0M5 17h0M-12 10h0M-6 4h0" stroke="#765ea2" vector-effect="non-scaling-stroke"/>
<path d="M-45 31h0M-40 18h0M-71 9h0M-50 13h0M-58 8h0M-59 7h0M-59 9h0M-54 10h0M-54 5h0M-55 6h0M-51 7h0M-44 6h0M-44 4h0M-43 9h0M-36 10h0M-71 5h0M-73 5h0M-59 1h0M-46 2h0M-33 1h0M-25 1h0M-69 -4h0M-43 -10h0M-37 -4h0M-34 0h0M-29 -1h0M-27 0h0M-60 -11h0M-57 -11h0M-59 -10h0M-53 -8h0M-51 -9h0M-47 -8h0M-52 -7h0M-52 -10h0M-47 -6h0M-36 -8h0M-33 -8h0M-65 -15h0M-34 -15h0M-64 -15h0M-63 -18h0M-62 -16h0M-62 -17h0M-50 -19h0M-31 -17h0M-22 -18h0M-68 -22h0M-39 -24h0M-48 -24h0M-33 -28h0M-24 -32h0M-49 -31h0M-51 -29h0M-30 -33h0M-24 -32h0M-28 -34h0M-25 -32h0M-38 14h0M-34 -26h0M-26 -35h0M-23 -25h0M-39 -4h0M-32 7h0M-40 21h0M-41 22h0M14 48h0M12 40h0M23 25h0M22 26h0M24 21h0M10 14h0M18 14h0M15 10h0M8 -1h0M13 0h0M18 1h0M25 2h0M24 1h0M32 1h0M11 -6h0M24 -5h0M21 -8h0M10 -13h0M17 -13h0M23 -12h0M27 -10h0M18 -13h0M18 -18h0M24 -18h0M22 -17h0M31 -15h0M19 -22h0M28 -22h0M38 -18h0M41 -21h0M30 -26h0M38 -24h0M37 -22h0M29 5h0M14 -5h0M20 11h0M25 -16h0M31 -9h0M42 30h0M39 31h0M42 31h0M44 30h0M43 21h0M41 20h0M47 28h0M46 28h0M49 26h0M65 24h0M36 18h0M53 19h0M71 21h0M31 11h0M41 13h0M44 18h0M59 17h0M63 12h0M32 8h0M34 12h0M35 9h0M31 7h0M46 9h0M48 8h0M63 10h0M64 9h0M66 8h0M66 9h0M33 4h0M39 2h0M38 -2h0M44 3h0M53 2h0M63 3h0M67 5h0M39 -2h0M42 5h0M53 -4h0M63 -1h0M60 -1h0M64 -1h0M40 -5h0M59 -9h0M34 -15h0M41 -14h0M39 -13h0M36 -14h0M51 -14h0M53 7h0M63 16h0M37 -7h0M44 -7h0M-6 -37h0M-7 -36h0M-6 -37h0M1 -36h0M0 -44h0M0 -45h0M-1 -49h0M-3 -46h0M6 -46h0M4 -54h0M4 -60h0M4 -59h0M-7 -35h0M11 -47h0M-10 -33h0M-11 -36h0M-6 28h0M5 18h0M-14 12h0" stroke="#9068ef" vector-effect="non-scaling-stroke"/>
<path d="M-50 17h0M-53 14h0M-48 11h0M-37 13h0M-43 13h0M-67 0h0M-43 1h0M-38 -5h0M-70 -16h0M-66 -20h0M-47 -17h0M-34 -13h0M-29 -14h0M-64 -18h0M-26 -19h0M-29 -25h0M-40 -34h0M-22 -27h0M-51 -33h0M-42 -37h0M-41 -31h0M-41 20h0M31 38h0M28 19h0M12 16h0M29 9h0M27 -6h0M25 -13h0M15 -17h0M26 -23h0M45 26h0M42 20h0M56 19h0M56 17h0M66 15h0M36 7h0M64 10h0M40 0h0M33 0h0M39 4h0M57 -5h0M40 -11h0M42 -15h0M49 18h0M37 -7h0M33 16h0M-7 -35h0M1 -34h0M-1 -47h0M9 -43h0M4 -54h0M1 -53h0M4 -61h0M10 -61h0M-1 31h0M-17 12h0M-7 9h0" stroke="#6549a7" vector-effect="non-scaling-stroke"/>
<path d="M-45 32h0M-45 32h0M-45 18h0M-50 15h0M-53 15h0M-48 18h0M-34 15h0M-54 12h0M-41 15h0M-42 13h0M-40 15h0M-30 10h0M-31 9h0M-73 5h0M-65 5h0M-56 9h0M-44 7h0M-35 11h0M-66 2h0M-67 0h0M-58 4h0M-55 2h0M-53 -1h0M-53 0h0M-35 -3h0M-30 5h0M-29 3h0M-70 -2h0M-51 -2h0M-45 -5h0M-55 -7h0M-48 -12h0M-40 -11h0M-38 -6h0M-39 -5h0M-36 -8h0M-35 -9h0M-34 -7h0M-30 -8h0M-51 -16h0M-49 -15h0M-34 -15h0M-29 -16h0M-30 -14h0M-34 -19h0M-29 -17h0M-27 -19h0M-32 -20h0M-25 -19h0M-63 -28h0M-61 -24h0M-48 -28h0M-44 -25h0M-48 -26h0M-41 -28h0M-41 -32h0M-40 -33h0M-28 -27h0M-45 -33h0M-44 -32h0M-25 -28h0M-31 -36h0M-25 -22h0M-60 -15h0M-71 12h0M-45 -29h0M-45 -35h0M-31 -4h0M-49 -24h0M-56 -21h0M-40 22h0M23 24h0M24 20h0M27 22h0M20 18h0M19 20h0M22 19h0M28 23h0M28 19h0M13 17h0M11 8h0M18 3h0M23 6h0M27 2h0M22 0h0M19 1h0M22 0h0M26 -3h0M30 1h0M31 -1h0M30 2h0M21 -7h0M21 -6h0M24 -6h0M20 -10h0M17 -11h0M20 -11h0M19 -10h0M17 -15h0M24 -17h0M30 -19h0M33 -20h0M36 -19h0M38 -19h0M37 -21h0M53 -21h0M25 -11h0M18 18h0M29 21h0M42 32h0M34 21h0M39 24h0M42 23h0M46 25h0M61 26h0M61 24h0M61 23h0M60 25h0M65 20h0M35 20h0M55 16h0M61 16h0M60 16h0M68 23h0M71 16h0M56 16h0M64 14h0M31 8h0M38 7h0M52 10h0M58 10h0M61 9h0M60 8h0M65 9h0M69 8h0M44 5h0M50 5h0M33 0h0M39 1h0M50 -6h0M52 -2h0M40 -4h0M42 -4h0M55 -7h0M58 -5h0M41 -14h0M56 -13h0M56 -17h0M61 -12h0M37 -16h0M37 -17h0M40 -13h0M46 -17h0M54 -13h0M58 -16h0M56 -14h0M57 -13h0M57 -16h0M33 -6h0M40 20h0M50 8h0M-3 -38h0M8 -39h0M-5 -45h0M-4 -48h0M-1 -49h0M-1 -48h0M1 -50h0M9 -49h0M4 -61h0M3 -32h0M-8 27h0M-17 14h0M-48 42h0M-46 44h0" stroke="#7248f6" vector-effect="non-scaling-stroke"/>
<path d="M-53 15h0M-48 14h0M-35 16h0M-42 5h0M-39 -3h0M-42 -9h0M-38 -7h0M-49 -17h0M-61 -18h0M-46 -17h0M-46 -20h0M-40 -19h0M-19 -21h0M-36 -23h0M-22 -29h0M-24 -32h0M-30 -35h0M-45 -14h0M-38 -31h0M17 43h0M25 24h0M28 16h0M13 3h0M13 6h0M9 -10h0M14 -15h0M10 -12h0M18 -16h0M47 30h0M43 26h0M64 25h0M49 22h0M73 17h0M40 11h0M56 19h0M54 16h0M57 14h0M66 13h0M64 10h0M50 4h0M48 -1h0M54 -2h0M57 -3h0M62 -5h0M57 -15h0M2 -31h0M7 -39h0" stroke="#5032ac" vector-effect="non-scaling-stroke"/>
<path d="M-46 25h0M-53 15h0M-31 12h0M-53 6h0M-35 6h0M-34 7h0M-72 5h0M-64 2h0M-32 6h0M-31 3h0M-28 0h0M-67 -3h0M-57 -4h0M-43 -7h0M-26 -1h0M-55 -9h0M-53 -6h0M-31 -10h0M-23 -9h0M-23 -11h0M-61 -12h0M-48 -16h0M-27 -16h0M-22 -15h0M-42 -21h0M-35 -17h0M-29 -22h0M-20 -20h0M-21 -22h0M-55 -26h0M-36 -23h0M-27 -27h0M-42 -26h0M-41 -31h0M-32 -28h0M-23 -30h0M-24 -27h0M-41 -34h0M-38 -34h0M-29 -33h0M-31 -35h0M-24 -33h0M-38 3h0M29 24h0M28 7h0M10 1h0M23 4h0M11 2h0M27 0h0M24 -2h0M9 -9h0M20 -15h0M21 -10h0M20 -13h0M33 -16h0M32 -18h0M25 -22h0M41 -19h0M48 25h0M51 28h0M59 25h0M60 25h0M34 20h0M43 21h0M69 20h0M68 21h0M65 13h0M58 10h0M57 9h0M60 8h0M70 12h0M41 1h0M41 -2h0M40 5h0M43 5h0M58 3h0M65 4h0M38 1h0M49 -6h0M56 -2h0M35 -3h0M48 -5h0M37 -12h0M41 -16h0M53 -15h0M58 -16h0M47 21h0M55 5h0M70 13h0M41 21h0M44 14h0M71 18h0M-7 -41h0M-10 -40h0M0 -47h0M6 -48h0M3 -64h0M-10 23h0M3 23h0" stroke="#4322fc" vector-effect="non-scaling-stroke"/>
<path d="M-67 10h0M-73 6h0M-72 3h0M-34 3h0M-71 -12h0M-18 -14h0M-45 -26h0M18 31h0M27 -5h0M21 -15h0M12 15h0M34 21h0M49 22h0M57 18h0M71 17h0M52 -3h0M58 0h0M62 -6h0M56 -13h0M62 -8h0M45 -10h0M-11 -36h0M-4 -39h0M-5 -40h0M9 -42h0M-4 30h0M3 26h0" stroke="#2f18b0" vector-effect="non-scaling-stroke"/>
<use href="#nLE2" stroke="#c0c0c0" vector-effect="non-scaling-stroke"/>
<use href="#dLE2" stroke="#a2a2a2" vector-effect="non-scaling-stroke"/>
<use href="#nSTF2" stroke="#c0c0c0" vector-effect="non-scaling-stroke"/>
<use href="#dSTF2" stroke="#a2a2a2" vector-effect="non-scaling-stroke"/>
<use href="#nGE2" stroke="#c0c0c0" vector-effect="non-scaling-stroke"/>
<use href="#dGE2" stroke="#a2a2a2" vector-effect="non-scaling-stroke"/>
<use href="#nSMC2" stroke="#c0c0c0" vector-effect="non-scaling-stroke"/>
<use href="#dSMC2" stroke="#a2a2a2" vector-effect="non-scaling-stroke"/>
<use href="#nCST2" stroke="#c0c0c0" vector-effect="non-scaling-stroke"/>
<use href="#dCST2" stroke="#a2a2a2" vector-effect="non-scaling-stroke"/>
<use href="#nLCC2" stroke="#c0c0c0" vector-effect="non-scaling-stroke"/>
<use href="#dLCC2" stroke="#a2a2a2" vector-effect="non-scaling-stroke"/>
<use href="#nCE2" stroke="#c0c0c0" vector-effect="non-scaling-stroke"/>
<use href="#dCE2" stroke="#a2a2a2" vector-effect="non-scaling-stroke"/>
<use href="#nDOT2" stroke="#c0c0c0" vector-effect="non-scaling-stroke"/>
<use href="#dDOT2" stroke="#a2a2a2" vector-effect="non-scaling-stroke"/>
<path d="M-46 30h0M-44 22h0M-42 22h0M-54 13h0M-51 14h0M-33 15h0M-33 13h0M-72 10h0M-72 8h0M-57 9h0M-53 10h0M-45 9h0M-37 7h0M-39 9h0M-30 3h0M-64 1h0M-47 5h0M-34 -3h0M-59 -4h0M-61 -3h0M-31 0h0M-28 -5h0M-44 -6h0M-32 -10h0M-21 -10h0M-23 -12h0M-63 -16h0M-64 -16h0M-62 -16h0M-29 -16h0M-46 -20h0M-40 -16h0M-38 -18h0M-25 -16h0M-20 -18h0M-45 -24h0M-44 -28h0M-37 -23h0M-32 -25h0M-24 -30h0M-27 -29h0M-39 -34h0M-37 -34h0M-50 -32h0M-57 9h0M31 30h0M23 26h0M28 19h0M28 21h0M13 5h0M28 6h0M26 3h0M26 0h0M31 0h0M11 -7h0M8 -11h0M9 -8h0M19 -13h0M23 -11h0M32 -15h0M29 -22h0M10 -4h0M31 22h0M62 26h0M65 21h0M56 22h0M70 20h0M69 17h0M33 12h0M41 12h0M39 8h0M44 8h0M47 9h0M72 11h0M71 13h0M32 7h0M61 4h0M40 -12h0M52 -16h0M58 -12h0M57 -12h0M42 -1h0M49 23h0M50 6h0M8 -37h0M-9 -40h0M-4 -49h0M-2 -48h0M0 -54h0M-10 32h0M-10 28h0" stroke="#f3f1f8" vector-effect="non-scaling-stroke"/>
<path d="M-38 16h0M-64 9h0M-26 7h0M-58 5h0M-70 -4h0M-33 -5h0M-46 -12h0M-20 -12h0M-69 -22h0M-37 -21h0M-39 -33h0M-23 -29h0M-27 -32h0M-41 6h0M-27 -1h0M-35 -12h0M28 37h0M28 26h0M12 3h0M26 -24h0M27 -25h0M12 32h0M51 24h0M56 23h0M57 16h0M70 14h0M47 8h0M72 13h0M42 1h0M45 -14h0M52 -14h0M36 1h0M42 1h0M-12 -39h0M0 -42h0M9 -49h0M11 -48h0M-2 -54h0" stroke="#bba5e0" vector-effect="non-scaling-stroke"/>
<path d="M-33 12h0M-60 -5h0M-68 -8h0M-28 -25h0M32 -1h0M43 26h0M67 21h0M64 6h0M43 -5h0M56 -12h0M-12 4h0M-45 41h0" stroke="#83739d" vector-effect="non-scaling-stroke"/>
<path d="M-49 16h0M-52 11h0M-53 14h0M-46 17h0M-68 10h0M-71 10h0M-66 11h0M-47 11h0M-43 13h0M-36 12h0M-33 13h0M-51 6h0M-49 9h0M-45 10h0M-47 5h0M-42 6h0M-34 11h0M-27 5h0M-67 4h0M-67 3h0M-68 1h0M-56 4h0M-61 5h0M-55 1h0M-45 2h0M-44 6h0M-45 1h0M-36 1h0M-34 3h0M-29 3h0M-25 -3h0M-49 -2h0M-44 -5h0M-46 -4h0M-46 -4h0M-44 -9h0M-44 -8h0M-39 -5h0M-37 -2h0M-37 -4h0M-32 -5h0M-69 -7h0M-58 -10h0M-48 -8h0M-22 -10h0M-65 -20h0M-61 -12h0M-49 -17h0M-48 -13h0M-47 -13h0M-63 -17h0M-49 -16h0M-43 -19h0M-42 -17h0M-35 -20h0M-36 -18h0M-31 -18h0M-21 -21h0M-22 -23h0M-19 -19h0M-22 -20h0M-20 -20h0M-17 -23h0M-69 -23h0M-59 -28h0M-53 -25h0M-56 -22h0M-49 -25h0M-47 -30h0M-44 -25h0M-40 -27h0M-33 -29h0M-45 -32h0M-41 -32h0M-31 -36h0M-22 -31h0M-33 -38h0M-69 1h0M-53 8h0M-46 8h0M-43 7h0M-42 26h0M28 32h0M20 24h0M25 21h0M26 26h0M23 23h0M16 18h0M21 18h0M20 20h0M10 13h0M29 9h0M22 3h0M12 0h0M24 2h0M25 -1h0M24 2h0M11 -7h0M21 -10h0M24 -8h0M20 -6h0M25 -6h0M25 -4h0M32 -8h0M11 -8h0M23 -15h0M24 -10h0M20 -12h0M31 -10h0M20 -17h0M20 -20h0M19 -18h0M34 -19h0M38 -21h0M27 -24h0M39 -25h0M34 -16h0M25 -3h0M19 -22h0M30 -17h0M41 32h0M47 31h0M43 21h0M39 22h0M42 26h0M45 29h0M53 25h0M52 29h0M50 25h0M63 25h0M61 22h0M58 27h0M58 23h0M63 24h0M33 21h0M54 20h0M61 14h0M68 23h0M34 14h0M60 15h0M66 10h0M32 10h0M35 7h0M46 13h0M52 11h0M52 9h0M64 11h0M71 14h0M73 11h0M72 9h0M39 1h0M42 6h0M42 7h0M61 2h0M61 5h0M69 1h0M65 0h0M66 1h0M69 6h0M36 -2h0M39 2h0M41 1h0M40 3h0M42 5h0M40 -4h0M39 -3h0M37 -13h0M48 -12h0M53 -12h0M35 -14h0M46 -15h0M45 17h0M67 23h0M36 -9h0M45 4h0M40 25h0M52 -13h0M-10 -40h0M-10 -38h0M-9 -34h0M6 -34h0M7 -37h0M0 -36h0M2 -46h0M5 -45h0M6 -43h0M11 -42h0M8 -46h0M10 -53h0M2 -53h0M1 -52h0M2 -62h0M-10 33h0M3 24h0M-1 27h0M1 29h0M-5 15h0M-13 3h0M-8 6h0" stroke="#a886e8" vector-effect="non-scaling-stroke"/>
<path d="M-45 32h0M-46 21h0M-37 13h0M-30 11h0M-50 5h0M-33 6h0M-28 2h0M-61 1h0M-43 4h0M-33 -2h0M-41 -6h0M-39 -10h0M-67 -17h0M-20 -12h0M-61 -21h0M-49 -16h0M-43 -15h0M-31 -17h0M-70 -21h0M-50 -28h0M-21 -29h0M-42 -23h0M-33 -14h0M25 24h0M19 21h0M18 14h0M28 2h0M19 1h0M31 -12h0M16 4h0M23 13h0M46 31h0M48 26h0M51 23h0M55 22h0M39 15h0M70 11h0M39 7h0M43 11h0M70 11h0M38 4h0M50 9h0M67 1h0M65 3h0M54 -4h0M48 -12h0M57 -12h0M40 -16h0M45 -13h0M48 -12h0M40 -18h0M-7 -35h0M4 -39h0M-4 -41h0M-4 -50h0" stroke="#765ea2" vector-effect="non-scaling-stroke"/>
<path d="M-45 28h0M-47 17h0M-37 15h0M-37 16h0M-70 10h0M-70 8h0M-52 11h0M-50 9h0M-42 11h0M-28 8h0M-29 9h0M-28 9h0M-72 7h0M-66 7h0M-51 6h0M-47 9h0M-33 7h0M-47 3h0M-33 -1h0M-28 2h0M-26 1h0M-71 -3h0M-68 -2h0M-60 -7h0M-58 -5h0M-36 -9h0M-39 -9h0M-38 -6h0M-31 -4h0M-29 -5h0M-30 -2h0M-65 -6h0M-64 -7h0M-65 -4h0M-64 -6h0M-50 -7h0M-39 -8h0M-65 -14h0M-49 -16h0M-46 -16h0M-28 -13h0M-29 -13h0M-60 -20h0M-50 -17h0M-33 -18h0M-27 -22h0M-45 -24h0M-47 -26h0M-44 -24h0M-44 -26h0M-33 -25h0M-40 -32h0M-37 -32h0M-39 -33h0M-29 -26h0M-46 -34h0M-41 -34h0M-38 -32h0M-40 -31h0M-32 -33h0M-27 -32h0M-25 -30h0M-32 -38h0M-34 -38h0M-31 -36h0M-27 -35h0M-61 -11h0M-28 -16h0M-45 -33h0M-52 -4h0M17 45h0M24 37h0M30 38h0M17 33h0M20 24h0M26 24h0M18 18h0M30 17h0M28 11h0M27 7h0M29 11h0M11 3h0M18 6h0M23 6h0M23 2h0M23 4h0M19 -3h0M23 0h0M22 -2h0M9 -9h0M15 -4h0M13 -4h0M11 -8h0M24 -9h0M11 -13h0M24 -9h0M29 -14h0M29 -10h0M16 -14h0M20 -17h0M21 -16h0M18 -15h0M24 -19h0M27 -19h0M23 -19h0M23 -19h0M18 -19h0M27 -22h0M34 -21h0M32 -21h0M39 -20h0M38 -22h0M22 22h0M20 -23h0M15 -15h0M43 29h0M46 23h0M50 27h0M48 27h0M50 25h0M32 21h0M41 18h0M42 18h0M46 20h0M56 17h0M56 18h0M55 17h0M59 14h0M66 24h0M66 19h0M69 22h0M69 18h0M32 16h0M58 16h0M67 9h0M68 14h0M68 12h0M34 5h0M37 5h0M35 10h0M36 10h0M43 9h0M49 8h0M46 8h0M54 12h0M70 12h0M33 4h0M41 1h0M56 9h0M54 3h0M58 7h0M63 6h0M65 2h0M35 -3h0M54 -1h0M61 1h0M37 -5h0M34 -7h0M45 0h0M40 -2h0M45 -6h0M40 -10h0M39 -13h0M53 -14h0M50 -16h0M51 -15h0M56 -12h0M55 -14h0M56 -10h0M57 -6h0M55 -18h0M55 -12h0M57 -18h0M60 23h0M54 15h0M38 28h0M44 16h0M61 6h0M55 -13h0M-10 -37h0M-8 -35h0M3 -39h0M6 -35h0M3 -36h0M8 -37h0M8 -37h0M7 -38h0M4 -38h0M-3 -40h0M-1 -45h0M2 -43h0M6 -42h0M-5 -48h0M7 -49h0M5 -50h0M7 -53h0M4 -53h0M5 -57h0M2 -60h0M-5 -47h0M-13 24h0M-11 9h0M-11 5h0M-2 2h0M-3 0h0" stroke="#9068ef" vector-effect="non-scaling-stroke"/>
<path d="M-30 8h0M-58 8h0M-50 7h0M-44 9h0M-41 7h0M-35 9h0M-71 7h0M-44 1h0M-30 0h0M-25 -5h0M-33 -7h0M-56 -10h0M-51 -6h0M-36 -6h0M-57 -14h0M-29 -12h0M-56 -22h0M-22 -18h0M-24 -21h0M-61 -25h0M-53 -26h0M-34 -25h0M-36 -22h0M-47 -26h0M-33 -35h0M9 1h0M20 5h0M20 8h0M22 -14h0M48 -23h0M59 25h0M70 17h0M31 15h0M57 3h0M52 5h0M41 -1h0M51 -1h0M54 0h0M38 -14h0M41 -14h0M34 -7h0M67 8h0M56 18h0M3 -41h0M3 -51h0M5 -53h0M6 -54h0M0 -46h0M8 -35h0M-14 8h0" stroke="#6549a7" vector-effect="non-scaling-stroke"/>
<path d="M-44 32h0M-43 26h0M-54 15h0M-48 18h0M-36 12h0M-54 12h0M-36 13h0M-41 11h0M-33 12h0M-58 9h0M-46 5h0M-30 4h0M-68 5h0M-59 6h0M-58 6h0M-44 1h0M-34 0h0M-35 -2h0M-28 -1h0M-23 -3h0M-70 -1h0M-60 -5h0M-34 -3h0M-72 -10h0M-68 -6h0M-50 -6h0M-41 -6h0M-66 -19h0M-30 -13h0M-61 -20h0M-53 -20h0M-31 -19h0M-29 -17h0M-50 -25h0M-47 -28h0M-39 -22h0M-39 -23h0M-37 -24h0M-36 -23h0M-47 -28h0M-40 -34h0M-37 -28h0M-48 -30h0M-44 -34h0M-39 -32h0M-31 -33h0M-25 -33h0M-24 -35h0M-56 -22h0M-66 -23h0M-46 27h0M-25 -30h0M-43 3h0M-44 -32h0M-41 25h0M-40 20h0M18 34h0M15 32h0M27 19h0M27 20h0M30 23h0M11 16h0M8 9h0M26 10h0M24 5h0M30 10h0M8 2h0M20 3h0M11 -2h0M21 1h0M15 -3h0M31 -6h0M9 -11h0M16 -12h0M18 -13h0M17 -12h0M19 -16h0M22 -17h0M26 -20h0M17 -22h0M17 -21h0M30 -24h0M30 -23h0M7 -1h0M24 -12h0M10 -15h0M47 -22h0M15 -7h0M42 29h0M45 27h0M48 30h0M42 25h0M48 27h0M38 20h0M46 20h0M58 19h0M59 14h0M65 18h0M65 23h0M68 23h0M69 24h0M31 11h0M33 15h0M37 16h0M44 17h0M57 16h0M70 10h0M33 8h0M31 11h0M42 6h0M53 8h0M69 11h0M69 13h0M73 14h0M75 10h0M51 8h0M51 4h0M53 4h0M58 4h0M64 5h0M61 6h0M63 1h0M40 0h0M51 -3h0M54 -3h0M57 0h0M63 0h0M37 -6h0M53 -7h0M40 -10h0M54 -16h0M56 -15h0M57 -11h0M64 17h0M38 -1h0M58 -5h0M34 8h0M-8 -36h0M-8 -35h0M-7 -38h0M-8 -37h0M-7 -34h0M5 -38h0M-9 -39h0M-10 -38h0M4 -50h0M8 -58h0M6 -63h0M5 -63h0M5 -70h0M2 -53h0M4 -39h0M-6 26h0M-6 10h0M-3 16h0M4 16h0M-7 1h0M-7 9h0M-46 45h0" stroke="#7248f6" vector-effect="non-scaling-stroke"/>
<path d="M-52 9h0M-35 8h0M-29 5h0M-69 5h0M-34 4h0M-61 -3h0M-60 -9h0M-42 -11h0M-38 -5h0M-60 -15h0M-46 -15h0M-61 -22h0M-42 -29h0M-22 -26h0M-37 -32h0M-59 8h0M25 28h0M29 23h0M18 17h0M18 3h0M23 3h0M11 -9h0M14 -11h0M19 -10h0M36 -23h0M23 -17h0M31 -19h0M9 10h0M45 25h0M43 27h0M56 23h0M35 5h0M65 2h0M54 -3h0M53 -7h0M60 10h0M69 20h0M-9 -39h0M-12 -37h0M-9 -36h0M-2 -41h0M2 -63h0M10 -59h0M-2 -44h0M5 14h0" stroke="#5032ac" vector-effect="non-scaling-stroke"/>
<path d="M-43 31h0M-48 16h0M-36 12h0M-38 10h0M-60 8h0M-54 11h0M-44 10h0M-71 7h0M-63 5h0M-60 2h0M-35 0h0M-68 -3h0M-59 -3h0M-51 -4h0M-44 -5h0M-40 -5h0M-37 -9h0M-35 -5h0M-43 -6h0M-40 -6h0M-39 -4h0M-30 -8h0M-70 -15h0M-69 -18h0M-63 -16h0M-48 -20h0M-47 -15h0M-56 -22h0M-54 -23h0M-54 -22h0M-47 -26h0M-44 -24h0M-39 -31h0M-50 -33h0M-47 -33h0M-52 -29h0M-30 -34h0M-36 -23h0M30 22h0M16 12h0M13 17h0M27 15h0M9 -9h0M10 -6h0M26 -7h0M12 -11h0M11 -16h0M21 -9h0M24 -8h0M23 -10h0M12 -18h0M31 -17h0M33 -18h0M40 -21h0M42 -24h0M21 17h0M30 -8h0M26 3h0M47 26h0M64 20h0M42 19h0M57 17h0M64 21h0M36 15h0M45 8h0M39 9h0M45 12h0M52 11h0M70 11h0M39 3h0M45 6h0M61 1h0M60 3h0M32 2h0M36 1h0M38 2h0M49 -1h0M44 -2h0M56 -5h0M55 -5h0M48 -11h0M54 -15h0M58 -13h0M36 -13h0M54 -13h0M63 17h0M47 10h0M-6 -37h0M-6 -39h0M-7 -40h0M-5 -46h0M4 -57h0M2 -56h0M4 -55h0M5 -61h0M9 -62h0M4 -61h0M-8 -44h0M-12 5h0" stroke="#4322fc" vector-effect="non-scaling-stroke"/>
<path d="M-48 19h0M-68 10h0M-41 7h0M-43 4h0M-61 -1h0M-69 -16h0M-16 -19h0M-27 -26h0M-26 -29h0M-47 -34h0M10 7h0M12 14h0M24 4h0M25 -1h0M23 -10h0M13 -18h0M34 17h0M58 18h0M60 15h0M36 0h0M36 -3h0M48 -3h0M63 -1h0M60 -14h0M-3 -49h0M-1 -52h0M-4 31h0M-5 10h0" stroke="#2f18b0" vector-effect="non-scaling-stroke"/>
<use href="#chan" stroke="#f2f0f8" stroke-width="1.0" vector-effect="non-scaling-stroke"/>
</g>
<path d="M293.50 99.40V151.50H379.00" fill="none" stroke="#5a5a5a" stroke-width="1"/>
<path d="M293.50 113.90h-1.1M293.50 129.30h-1.1M293.50 144.50h-1.1M314.40 151.40v1.1M335.25 151.40v1.1M356.50 151.40v1.1M377.90 151.40v1.1" fill="none" stroke="#333" stroke-width="0.45"/>
<text x="290.90" y="115.90" font-size="5.6" fill="#333" stroke="#333" stroke-width="0.18" text-anchor="end">20</text>
<text x="290.90" y="131.30" font-size="5.6" fill="#333" stroke="#333" stroke-width="0.18" text-anchor="end">0</text>
<text x="290.90" y="146.50" font-size="5.6" fill="#333" stroke="#333" stroke-width="0.18" text-anchor="end">-20</text>
<text x="314.40" y="159.00" font-size="5.6" fill="#333" stroke="#333" stroke-width="0.18" text-anchor="middle">-20</text>
<text x="335.25" y="159.00" font-size="5.6" fill="#333" stroke="#333" stroke-width="0.18" text-anchor="middle">0</text>
<text x="356.50" y="159.00" font-size="5.6" fill="#333" stroke="#333" stroke-width="0.18" text-anchor="middle">20</text>
<text x="377.90" y="159.00" font-size="5.6" fill="#333" stroke="#333" stroke-width="0.18" text-anchor="middle">40</text>
<text x="336.25" y="165.30" font-size="6.1" fill="#111" stroke="#111" stroke-width="0.15" text-anchor="middle">tSNE_1</text>
<text transform="translate(279.30 125.40) rotate(-90)" font-size="6.1" fill="#111" stroke="#111" stroke-width="0.15" text-anchor="middle">tSNE_2</text>
<text x="336.38" y="112.92" font-size="5.8" fill="#444" text-anchor="middle">SMC</text>
<text x="313.40" y="127.92" font-size="5.8" fill="#444" text-anchor="middle">LE</text>
<text x="334.26" y="134.42" font-size="5.8" fill="#444" text-anchor="middle">LCC</text>
<text x="332.14" y="140.39" font-size="5.8" fill="#444" text-anchor="middle">CST</text>
<text x="311.71" y="147.35" font-size="5.8" fill="#444" text-anchor="middle">CE</text>
<text x="349.51" y="130.82" font-size="5.8" fill="#444" text-anchor="middle">STF</text>
<text x="361.89" y="137.02" font-size="5.8" fill="#444" text-anchor="middle">GE</text>
<text x="271.80" y="90.70" font-size="10.2" font-weight="bold" fill="#000">F</text>
<text x="336.25" y="95.30" font-size="7.2" font-weight="bold" fill="#000" stroke="#000" stroke-width="0.2" text-anchor="middle">CTSB</text>
<rect x="385.80" y="110.00" width="7.10" height="34.00" fill="url(#cg)"/>
<text x="395.50" y="119.40" font-size="5.6" fill="#333" stroke="#333" stroke-width="0.15">9</text>
<text x="395.50" y="129.20" font-size="5.6" fill="#333" stroke="#333" stroke-width="0.15">6</text>
<text x="395.50" y="137.70" font-size="5.6" fill="#333" stroke="#333" stroke-width="0.15">3</text>
<text x="395.50" y="145.70" font-size="5.6" fill="#333" stroke="#333" stroke-width="0.15">0</text>
<g transform="translate(61.52 213.50) scale(0.5255 0.3875)" fill="none" stroke-linecap="round" stroke-width="1.70">
<use href="#nLE0" stroke="#c0c0c0" vector-effect="non-scaling-stroke"/>
<use href="#dLE0" stroke="#a2a2a2" vector-effect="non-scaling-stroke"/>
<use href="#nSTF0" stroke="#c0c0c0" vector-effect="non-scaling-stroke"/>
<use href="#dSTF0" stroke="#a2a2a2" vector-effect="non-scaling-stroke"/>
<use href="#nGE0" stroke="#c0c0c0" vector-effect="non-scaling-stroke"/>
<use href="#dGE0" stroke="#a2a2a2" vector-effect="non-scaling-stroke"/>
<use href="#nSMC0" stroke="#c0c0c0" vector-effect="non-scaling-stroke"/>
<use href="#dSMC0" stroke="#a2a2a2" vector-effect="non-scaling-stroke"/>
<use href="#nCST0" stroke="#c0c0c0" vector-effect="non-scaling-stroke"/>
<use href="#dCST0" stroke="#a2a2a2" vector-effect="non-scaling-stroke"/>
<use href="#nLCC0" stroke="#c0c0c0" vector-effect="non-scaling-stroke"/>
<use href="#dLCC0" stroke="#a2a2a2" vector-effect="non-scaling-stroke"/>
<use href="#nCE0" stroke="#c0c0c0" vector-effect="non-scaling-stroke"/>
<use href="#dCE0" stroke="#a2a2a2" vector-effect="non-scaling-stroke"/>
<use href="#nDOT0" stroke="#c0c0c0" vector-effect="non-scaling-stroke"/>
<use href="#dDOT0" stroke="#a2a2a2" vector-effect="non-scaling-stroke"/>
<path d="M-70 -3h0M-44 -18h0M-48 -25h0M-45 -31h0" stroke="#bba5e0" vector-effect="non-scaling-stroke"/>
<path d="M-26 5h0M-62 3h0" stroke="#83739d" vector-effect="non-scaling-stroke"/>
<path d="M-31 4h0M-70 -13h0M-24 -12h0M-29 -14h0M-49 -26h0M-41 -29h0M-33 -28h0M-52 5h0M-68 -21h0M21 43h0M27 5h0M13 -1h0M36 -23h0M21 -13h0M32 24h0M53 18h0M70 17h0M34 8h0M57 9h0M63 11h0M58 4h0M60 6h0M66 4h0M63 1h0M39 -15h0M58 -15h0M-45 45h0" stroke="#a886e8" vector-effect="non-scaling-stroke"/>
<path d="M20 -21h0M31 -23h0M28 14h0M7 -59h0" stroke="#765ea2" vector-effect="non-scaling-stroke"/>
<path d="M-71 -3h0M-64 -7h0M-55 -12h0M-59 -18h0M-26 -27h0M-23 -31h0M10 -8h0M26 -13h0M20 26h0M25 -6h0M39 22h0M64 21h0M63 9h0M71 13h0M56 3h0M49 -1h0M64 1h0M64 2h0M37 -5h0M53 -7h0M59 -8h0M44 -16h0M3 -62h0M1 24h0" stroke="#9068ef" vector-effect="non-scaling-stroke"/>
<path d="M-39 16h0M-22 -26h0M61 20h0M35 -14h0M6 -56h0" stroke="#6549a7" vector-effect="non-scaling-stroke"/>
<path d="M-48 -6h0M-63 -17h0M-46 -16h0M10 9h0M17 -17h0M32 -23h0M37 -24h0M19 -10h0M27 2h0M38 23h0M48 20h0M68 20h0M55 15h0M34 7h0M39 3h0M65 6h0M60 -2h0M56 -17h0M59 -13h0M61 -9h0M1 -58h0M1 -59h0" stroke="#7248f6" vector-effect="non-scaling-stroke"/>
<path d="M-67 -17h0M23 26h0M62 19h0M5 -33h0" stroke="#5032ac" vector-effect="non-scaling-stroke"/>
<path d="M18 41h0M65 19h0M64 14h0M67 13h0" stroke="#4322fc" vector-effect="non-scaling-stroke"/>
<path d="M60 0h0M58 -6h0" stroke="#2f18b0" vector-effect="non-scaling-stroke"/>
<use href="#nLE1" stroke="#c0c0c0" vector-effect="non-scaling-stroke"/>
<use href="#dLE1" stroke="#a2a2a2" vector-effect="non-scaling-stroke"/>
<use href="#nSTF1" stroke="#c0c0c0" vector-effect="non-scaling-stroke"/>
<use href="#dSTF1" stroke="#a2a2a2" vector-effect="non-scaling-stroke"/>
<use href="#nGE1" stroke="#c0c0c0" vector-effect="non-scaling-stroke"/>
<use href="#dGE1" stroke="#a2a2a2" vector-effect="non-scaling-stroke"/>
<use href="#nSMC1" stroke="#c0c0c0" vector-effect="non-scaling-stroke"/>
<use href="#dSMC1" stroke="#a2a2a2" vector-effect="non-scaling-stroke"/>
<use href="#nCST1" stroke="#c0c0c0" vector-effect="non-scaling-stroke"/>
<use href="#dCST1" stroke="#a2a2a2" vector-effect="non-scaling-stroke"/>
<use href="#nLCC1" stroke="#c0c0c0" vector-effect="non-scaling-stroke"/>
<use href="#dLCC1" stroke="#a2a2a2" vector-effect="non-scaling-stroke"/>
<use href="#nCE1" stroke="#c0c0c0" vector-effect="non-scaling-stroke"/>
<use href="#dCE1" stroke="#a2a2a2" vector-effect="non-scaling-stroke"/>
<use href="#nDOT1" stroke="#c0c0c0" vector-effect="non-scaling-stroke"/>
<use href="#dDOT1" stroke="#a2a2a2" vector-effect="non-scaling-stroke"/>
<path d="M-45 18h0M-63 -28h0" stroke="#bba5e0" vector-effect="non-scaling-stroke"/>
<path d="M-51 -33h0M-43 -37h0M-10 5h0" stroke="#83739d" vector-effect="non-scaling-stroke"/>
<path d="M-53 15h0M-59 1h0M-45 4h0M-54 -23h0M-31 -36h0M11 -6h0M27 -10h0M33 -16h0M32 -22h0M61 26h0M65 24h0M48 23h0M55 16h0M54 19h0M53 19h0M41 13h0M59 17h0M32 8h0M40 6h0M40 -10h0M10 -58h0" stroke="#a886e8" vector-effect="non-scaling-stroke"/>
<path d="M-46 -20h0M18 -20h0M66 15h0M57 -4h0M45 -10h0M-4 -45h0" stroke="#765ea2" vector-effect="non-scaling-stroke"/>
<path d="M-64 9h0M-69 6h0M-62 -17h0M-49 -31h0M-30 -33h0M-36 -39h0M-34 -26h0M-26 -35h0M-40 22h0M28 35h0M27 27h0M15 10h0M14 4h0M20 0h0M26 -5h0M18 46h0M16 -11h0M48 25h0M61 24h0M61 16h0M57 16h0M55 12h0M64 9h0M49 4h0M65 5h0M37 -16h0M40 20h0M3 -64h0" stroke="#9068ef" vector-effect="non-scaling-stroke"/>
<path d="M-27 -35h0M22 43h0M27 -6h0M53 9h0M63 5h0" stroke="#6549a7" vector-effect="non-scaling-stroke"/>
<path d="M-59 7h0M9 -9h0M13 -16h0M33 -20h0M41 -19h0M28 -25h0M71 21h0M68 21h0M70 12h0M37 2h0M40 5h0M63 -1h0M53 14h0M4 -59h0" stroke="#7248f6" vector-effect="non-scaling-stroke"/>
<path d="M-44 35h0M28 16h0M15 -17h0M19 -14h0M12 15h0M64 25h0M32 5h0M2 -49h0" stroke="#5032ac" vector-effect="non-scaling-stroke"/>
<path d="M24 -2h0M18 -21h0M36 -19h0M29 -25h0M65 9h0M55 -7h0M47 21h0" stroke="#4322fc" vector-effect="non-scaling-stroke"/>
<path d="M73 17h0" stroke="#2f18b0" vector-effect="non-scaling-stroke"/>
<use href="#nLE2" stroke="#c0c0c0" vector-effect="non-scaling-stroke"/>
<use href="#dLE2" stroke="#a2a2a2" vector-effect="non-scaling-stroke"/>
<use href="#nSTF2" stroke="#c0c0c0" vector-effect="non-scaling-stroke"/>
<use href="#dSTF2" stroke="#a2a2a2" vector-effect="non-scaling-stroke"/>
<use href="#nGE2" stroke="#c0c0c0" vector-effect="non-scaling-stroke"/>
<use href="#dGE2" stroke="#a2a2a2" vector-effect="non-scaling-stroke"/>
<use href="#nSMC2" stroke="#c0c0c0" vector-effect="non-scaling-stroke"/>
<use href="#dSMC2" stroke="#a2a2a2" vector-effect="non-scaling-stroke"/>
<use href="#nCST2" stroke="#c0c0c0" vector-effect="non-scaling-stroke"/>
<use href="#dCST2" stroke="#a2a2a2" vector-effect="non-scaling-stroke"/>
<use href="#nLCC2" stroke="#c0c0c0" vector-effect="non-scaling-stroke"/>
<use href="#dLCC2" stroke="#a2a2a2" vector-effect="non-scaling-stroke"/>
<use href="#nCE2" stroke="#c0c0c0" vector-effect="non-scaling-stroke"/>
<use href="#dCE2" stroke="#a2a2a2" vector-effect="non-scaling-stroke"/>
<use href="#nDOT2" stroke="#c0c0c0" vector-effect="non-scaling-stroke"/>
<use href="#dDOT2" stroke="#a2a2a2" vector-effect="non-scaling-stroke"/>
<path d="M-47 17h0M-70 -4h0M-61 -20h0M-29 -17h0M-17 -23h0M-54 -22h0M-12 4h0" stroke="#bba5e0" vector-effect="non-scaling-stroke"/>
<path d="M-61 1h0" stroke="#83739d" vector-effect="non-scaling-stroke"/>
<path d="M-54 15h0M-66 -19h0M-53 -20h0M16 12h0M10 -14h0M41 -24h0M39 -25h0M50 25h0M69 17h0M48 7h0M63 6h0M3 -36h0M2 -62h0M-13 22h0" stroke="#a886e8" vector-effect="non-scaling-stroke"/>
<path d="M-49 -16h0M-42 -29h0M51 23h0M58 18h0M65 2h0M53 -7h0M58 -12h0" stroke="#765ea2" vector-effect="non-scaling-stroke"/>
<path d="M-34 11h0M-71 7h0M-45 2h0M-54 -22h0M-44 -26h0M-32 -38h0M18 18h0M30 16h0M31 -10h0M23 -19h0M26 -24h0M27 -22h0M8 -10h0M64 20h0M39 3h0M42 7h0M57 -11h0M-10 -37h0M5 -63h0M-10 33h0M1 29h0M2 20h0M-4 13h0M-5 19h0M-7 1h0" stroke="#9068ef" vector-effect="non-scaling-stroke"/>
<path d="M-71 -4h0M-68 -8h0M64 6h0M38 -14h0M5 -53h0" stroke="#6549a7" vector-effect="non-scaling-stroke"/>
<path d="M-45 -24h0M21 1h0M20 -17h0M57 17h0M54 20h0M69 18h0M70 14h0M68 12h0M73 14h0M75 10h0M40 3h0M51 -3h0M37 -5h0M53 -7h0M52 -14h0M59 -10h0M2 -63h0" stroke="#7248f6" vector-effect="non-scaling-stroke"/>
<path d="M-61 -21h0M32 -1h0M70 11h0M53 -12h0" stroke="#5032ac" vector-effect="non-scaling-stroke"/>
<path d="M18 50h0M33 -23h0M68 23h0M63 1h0" stroke="#4322fc" vector-effect="non-scaling-stroke"/>
<use href="#chan" stroke="#efefef" stroke-width="0.6" vector-effect="non-scaling-stroke"/>
</g>
<path d="M19.50 184.10V235.50H105.60" fill="none" stroke="#5a5a5a" stroke-width="1"/>
<path d="M19.60 197.90h-1.1M19.60 213.70h-1.1M19.60 228.90h-1.1M40.60 235.70v1.1M61.50 235.70v1.1M82.25 235.70v1.1M103.75 235.70v1.1" fill="none" stroke="#333" stroke-width="0.45"/>
<text x="17.00" y="199.90" font-size="5.6" fill="#333" stroke="#333" stroke-width="0.18" text-anchor="end">20</text>
<text x="17.00" y="215.70" font-size="5.6" fill="#333" stroke="#333" stroke-width="0.18" text-anchor="end">0</text>
<text x="17.00" y="230.90" font-size="5.6" fill="#333" stroke="#333" stroke-width="0.18" text-anchor="end">-20</text>
<text x="40.60" y="243.30" font-size="5.6" fill="#333" stroke="#333" stroke-width="0.18" text-anchor="middle">-20</text>
<text x="61.50" y="243.30" font-size="5.6" fill="#333" stroke="#333" stroke-width="0.18" text-anchor="middle">0</text>
<text x="82.25" y="243.30" font-size="5.6" fill="#333" stroke="#333" stroke-width="0.18" text-anchor="middle">20</text>
<text x="103.75" y="243.30" font-size="5.6" fill="#333" stroke="#333" stroke-width="0.18" text-anchor="middle">40</text>
<text x="62.60" y="249.60" font-size="6.1" fill="#111" stroke="#111" stroke-width="0.15" text-anchor="middle">tSNE_1</text>
<text transform="translate(5.40 209.90) rotate(-90)" font-size="6.1" fill="#111" stroke="#111" stroke-width="0.15" text-anchor="middle">tSNE_2</text>
<text x="62.46" y="196.95" font-size="5.8" fill="#444" text-anchor="middle">SMC</text>
<text x="39.65" y="212.14" font-size="5.8" fill="#444" text-anchor="middle">LE</text>
<text x="60.36" y="218.73" font-size="5.8" fill="#444" text-anchor="middle">LCC</text>
<text x="58.26" y="224.77" font-size="5.8" fill="#444" text-anchor="middle">CST</text>
<text x="37.97" y="231.83" font-size="5.8" fill="#444" text-anchor="middle">CE</text>
<text x="75.49" y="215.09" font-size="5.8" fill="#444" text-anchor="middle">STF</text>
<text x="87.79" y="221.36" font-size="5.8" fill="#444" text-anchor="middle">GE</text>
<text x="0.30" y="175.70" font-size="10.2" font-weight="bold" fill="#000">G</text>
<text x="62.60" y="179.10" font-size="7.2" font-weight="bold" fill="#000" stroke="#000" stroke-width="0.2" text-anchor="middle">CTSL</text>
<rect x="111.90" y="194.00" width="6.90" height="34.50" fill="url(#cg)"/>
<text x="121.80" y="203.30" font-size="5.6" fill="#333" stroke="#333" stroke-width="0.15">9</text>
<text x="121.80" y="212.80" font-size="5.6" fill="#333" stroke="#333" stroke-width="0.15">6</text>
<text x="121.80" y="221.60" font-size="5.6" fill="#333" stroke="#333" stroke-width="0.15">3</text>
<text x="121.80" y="230.50" font-size="5.6" fill="#333" stroke="#333" stroke-width="0.15">0</text>
<g transform="translate(199.49 213.63) scale(0.5255 0.3925)" fill="none" stroke-linecap="round" stroke-width="1.70">
<use href="#nLE0" stroke="#c0c0c0" vector-effect="non-scaling-stroke"/>
<use href="#dLE0" stroke="#a2a2a2" vector-effect="non-scaling-stroke"/>
<use href="#nSTF0" stroke="#c0c0c0" vector-effect="non-scaling-stroke"/>
<use href="#dSTF0" stroke="#a2a2a2" vector-effect="non-scaling-stroke"/>
<use href="#nGE0" stroke="#c0c0c0" vector-effect="non-scaling-stroke"/>
<use href="#dGE0" stroke="#a2a2a2" vector-effect="non-scaling-stroke"/>
<use href="#nSMC0" stroke="#c0c0c0" vector-effect="non-scaling-stroke"/>
<use href="#dSMC0" stroke="#a2a2a2" vector-effect="non-scaling-stroke"/>
<use href="#nCST0" stroke="#c0c0c0" vector-effect="non-scaling-stroke"/>
<use href="#dCST0" stroke="#a2a2a2" vector-effect="non-scaling-stroke"/>
<use href="#nLCC0" stroke="#c0c0c0" vector-effect="non-scaling-stroke"/>
<use href="#dLCC0" stroke="#a2a2a2" vector-effect="non-scaling-stroke"/>
<use href="#nCE0" stroke="#c0c0c0" vector-effect="non-scaling-stroke"/>
<use href="#dCE0" stroke="#a2a2a2" vector-effect="non-scaling-stroke"/>
<use href="#nDOT0" stroke="#c0c0c0" vector-effect="non-scaling-stroke"/>
<use href="#dDOT0" stroke="#a2a2a2" vector-effect="non-scaling-stroke"/>
<path d="M-57 -14h0M-49 5h0" stroke="#ccc4d8" vector-effect="non-scaling-stroke"/>
<path d="M-45 -27h0" stroke="#8f8997" vector-effect="non-scaling-stroke"/>
<path d="M-47 34h0M-49 19h0M-52 13h0M-46 20h0M-37 17h0M-60 13h0M-63 5h0M-54 5h0M-55 10h0M-47 4h0M-36 0h0M-71 -3h0M-50 -4h0M-28 -2h0M-68 -10h0M-48 -12h0M-38 -8h0M-58 -13h0M-46 -19h0M-44 -18h0M-22 -22h0M-15 -21h0M-47 -27h0M-32 -23h0M-44 -27h0M-36 -28h0M-24 -25h0M-41 -31h0M-33 -35h0M-31 -38h0M-52 2h0M-37 4h0M-50 2h0M-20 -23h0M-43 33h0M-42 28h0M25 22h0M10 -2h0M22 -19h0M22 -23h0M39 14h0M63 7h0" stroke="#bba5e0" vector-effect="non-scaling-stroke"/>
<path d="M-45 29h0M-49 17h0M-63 3h0M-44 4h0M-26 1h0M-68 -19h0M-67 -17h0M-33 -13h0M-65 -19h0M-58 -26h0M-40 -29h0M-42 26h0M23 1h0M20 -13h0M46 -1h0" stroke="#83739d" vector-effect="non-scaling-stroke"/>
<path d="M-43 28h0M-46 24h0M-46 21h0M-51 11h0M-37 15h0M-59 14h0M-62 9h0M-45 9h0M-71 2h0M-43 2h0M-58 -6h0M-43 -6h0M-46 -9h0M-51 -8h0M-49 -8h0M-39 -9h0M-49 -13h0M-61 -19h0M-21 -19h0M-37 -24h0M-28 -24h0M-41 -29h0M-45 -31h0M-68 -21h0M14 7h0M21 -8h0M34 7h0M4 -39h0M-1 -48h0" stroke="#a886e8" vector-effect="non-scaling-stroke"/>
<path d="M-42 8h0M-45 7h0M-63 3h0M-46 6h0M-60 -11h0M-53 -6h0M-18 -15h0M-45 -8h0" stroke="#765ea2" vector-effect="non-scaling-stroke"/>
<path d="M36 -24h0M41 22h0M65 14h0M-2 -50h0" stroke="#9068ef" vector-effect="non-scaling-stroke"/>
<path d="M17 17h0M57 -12h0" stroke="#6549a7" vector-effect="non-scaling-stroke"/>
<use href="#nLE1" stroke="#c0c0c0" vector-effect="non-scaling-stroke"/>
<use href="#dLE1" stroke="#a2a2a2" vector-effect="non-scaling-stroke"/>
<use href="#nSTF1" stroke="#c0c0c0" vector-effect="non-scaling-stroke"/>
<use href="#dSTF1" stroke="#a2a2a2" vector-effect="non-scaling-stroke"/>
<use href="#nGE1" stroke="#c0c0c0" vector-effect="non-scaling-stroke"/>
<use href="#dGE1" stroke="#a2a2a2" vector-effect="non-scaling-stroke"/>
<use href="#nSMC1" stroke="#c0c0c0" vector-effect="non-scaling-stroke"/>
<use href="#dSMC1" stroke="#a2a2a2" vector-effect="non-scaling-stroke"/>
<use href="#nCST1" stroke="#c0c0c0" vector-effect="non-scaling-stroke"/>
<use href="#dCST1" stroke="#a2a2a2" vector-effect="non-scaling-stroke"/>
<use href="#nLCC1" stroke="#c0c0c0" vector-effect="non-scaling-stroke"/>
<use href="#dLCC1" stroke="#a2a2a2" vector-effect="non-scaling-stroke"/>
<use href="#nCE1" stroke="#c0c0c0" vector-effect="non-scaling-stroke"/>
<use href="#dCE1" stroke="#a2a2a2" vector-effect="non-scaling-stroke"/>
<use href="#nDOT1" stroke="#c0c0c0" vector-effect="non-scaling-stroke"/>
<use href="#dDOT1" stroke="#a2a2a2" vector-effect="non-scaling-stroke"/>
<path d="M-53 15h0M-41 -31h0" stroke="#ccc4d8" vector-effect="non-scaling-stroke"/>
<path d="M-49 10h0" stroke="#8f8997" vector-effect="non-scaling-stroke"/>
<path d="M-46 24h0M-44 28h0M-64 9h0M-38 15h0M-56 9h0M-44 6h0M-35 11h0M-71 5h0M-65 3h0M-45 -5h0M-57 -8h0M-34 -9h0M-70 -17h0M-49 -15h0M-54 -23h0M-55 -26h0M-44 -25h0M-39 -32h0M-21 -28h0M-71 12h0M-43 23h0M-36 -39h0M-49 4h0M-39 -4h0M-56 -21h0M-41 22h0M19 31h0M13 17h0M56 -17h0M-1 -49h0" stroke="#bba5e0" vector-effect="non-scaling-stroke"/>
<path d="M-43 13h0M-34 3h0M-66 -20h0M-20 -17h0M-61 -16h0M-46 -17h0M-54 -23h0M-38 -32h0M-37 -30h0M-22 -27h0M-47 -33h0M-43 -37h0M-43 -34h0M24 -3h0" stroke="#83739d" vector-effect="non-scaling-stroke"/>
<path d="M-40 17h0M-37 16h0M-59 7h0M-35 6h0M-62 1h0M-42 5h0M-59 -2h0M-50 -5h0M-47 -8h0M-35 -2h0M-60 -11h0M-51 -9h0M-52 -10h0M-47 -6h0M-38 -6h0M-40 -4h0M-30 -18h0M-31 -14h0M-34 -15h0M-58 -21h0M-38 -18h0M-40 -16h0M-36 -18h0M-48 -24h0M-41 -28h0M-49 -31h0M-44 -32h0M-41 -34h0M-49 -24h0M-40 -22h0M31 10h0M32 12h0M34 12h0" stroke="#a886e8" vector-effect="non-scaling-stroke"/>
<path d="M-50 17h0M-49 13h0M-53 14h0M-48 11h0M-73 6h0M-38 -3h0M-39 -3h0M-50 -19h0M-20 -23h0M-45 -25h0M-36 -23h0M-22 -29h0M-42 28h0" stroke="#765ea2" vector-effect="non-scaling-stroke"/>
<path d="M31 21h0" stroke="#9068ef" vector-effect="non-scaling-stroke"/>
<use href="#nLE2" stroke="#c0c0c0" vector-effect="non-scaling-stroke"/>
<use href="#dLE2" stroke="#a2a2a2" vector-effect="non-scaling-stroke"/>
<use href="#nSTF2" stroke="#c0c0c0" vector-effect="non-scaling-stroke"/>
<use href="#dSTF2" stroke="#a2a2a2" vector-effect="non-scaling-stroke"/>
<use href="#nGE2" stroke="#c0c0c0" vector-effect="non-scaling-stroke"/>
<use href="#dGE2" stroke="#a2a2a2" vector-effect="non-scaling-stroke"/>
<use href="#nSMC2" stroke="#c0c0c0" vector-effect="non-scaling-stroke"/>
<use href="#dSMC2" stroke="#a2a2a2" vector-effect="non-scaling-stroke"/>
<use href="#nCST2" stroke="#c0c0c0" vector-effect="non-scaling-stroke"/>
<use href="#dCST2" stroke="#a2a2a2" vector-effect="non-scaling-stroke"/>
<use href="#nLCC2" stroke="#c0c0c0" vector-effect="non-scaling-stroke"/>
<use href="#dLCC2" stroke="#a2a2a2" vector-effect="non-scaling-stroke"/>
<use href="#nCE2" stroke="#c0c0c0" vector-effect="non-scaling-stroke"/>
<use href="#dCE2" stroke="#a2a2a2" vector-effect="non-scaling-stroke"/>
<use href="#nDOT2" stroke="#c0c0c0" vector-effect="non-scaling-stroke"/>
<use href="#dDOT2" stroke="#a2a2a2" vector-effect="non-scaling-stroke"/>
<path d="M-45 10h0M-35 -2h0M-47 -33h0M-61 -11h0M-41 25h0" stroke="#ccc4d8" vector-effect="non-scaling-stroke"/>
<path d="M-37 9h0M-38 -5h0" stroke="#8f8997" vector-effect="non-scaling-stroke"/>
<path d="M-43 31h0M-43 22h0M-51 14h0M-48 18h0M-39 16h0M-33 15h0M-68 10h0M-50 9h0M-47 11h0M-53 10h0M-47 5h0M-45 9h0M-46 6h0M-34 11h0M-63 5h0M-34 0h0M-71 -3h0M-46 -4h0M-38 -6h0M-65 -4h0M-48 -8h0M-30 -8h0M-65 -14h0M-48 -20h0M-29 -13h0M-60 -20h0M-54 -20h0M-40 -16h0M-39 -20h0M-21 -21h0M-20 -20h0M-37 -24h0M-37 -28h0M-44 -34h0M-40 -33h0M-37 -34h0M-31 -36h0M-46 27h0M-36 -23h0M-40 20h0M27 15h0M25 -6h0M54 20h0M2 -56h0" stroke="#bba5e0" vector-effect="non-scaling-stroke"/>
<path d="M-49 11h0M-30 8h0M-58 8h0M-60 -5h0M-67 -17h0M-42 -29h0M-59 8h0M-43 27h0M-41 23h0M65 3h0" stroke="#83739d" vector-effect="non-scaling-stroke"/>
<path d="M-43 26h0M-48 16h0M-46 17h0M-69 9h0M-48 11h0M-38 10h0M-65 8h0M-54 11h0M-67 4h0M-67 3h0M-64 1h0M-60 2h0M-45 1h0M-29 3h0M-28 -1h0M-25 -3h0M-70 -4h0M-69 -7h0M-58 -10h0M-50 -6h0M-44 -6h0M-70 -15h0M-65 -16h0M-43 -19h0M-41 -16h0M-36 -18h0M-27 -20h0M-59 -28h0M-44 -24h0M-37 -21h0M-40 -32h0M-40 -34h0M-44 -33h0M-38 -32h0M-50 -16h0M29 22h0M23 6h0M42 18h0M49 8h0M57 0h0M9 -62h0" stroke="#a886e8" vector-effect="non-scaling-stroke"/>
<path d="M-45 32h0M-40 21h0M-50 7h0M-61 -7h0M-42 -11h0M-61 -22h0M-24 -21h0M31 -12h0" stroke="#765ea2" vector-effect="non-scaling-stroke"/>
<path d="M18 33h0M52 29h0M-8 -35h0M4 -38h0M4 -61h0" stroke="#9068ef" vector-effect="non-scaling-stroke"/>
<path d="M61 -7h0" stroke="#6549a7" vector-effect="non-scaling-stroke"/>
<use href="#chan" stroke="#efefef" stroke-width="0.6" vector-effect="non-scaling-stroke"/>
</g>
<path d="M157.50 184.10V236.50H243.00" fill="none" stroke="#5a5a5a" stroke-width="1"/>
<path d="M157.70 197.90h-1.1M157.70 213.70h-1.1M157.70 229.30h-1.1M178.50 236.20v1.1M199.40 236.20v1.1M220.60 236.20v1.1M241.50 236.20v1.1" fill="none" stroke="#333" stroke-width="0.45"/>
<text x="155.10" y="199.90" font-size="5.6" fill="#333" stroke="#333" stroke-width="0.18" text-anchor="end">20</text>
<text x="155.10" y="215.70" font-size="5.6" fill="#333" stroke="#333" stroke-width="0.18" text-anchor="end">0</text>
<text x="155.10" y="231.30" font-size="5.6" fill="#333" stroke="#333" stroke-width="0.18" text-anchor="end">-20</text>
<text x="178.50" y="243.80" font-size="5.6" fill="#333" stroke="#333" stroke-width="0.18" text-anchor="middle">-20</text>
<text x="199.40" y="243.80" font-size="5.6" fill="#333" stroke="#333" stroke-width="0.18" text-anchor="middle">0</text>
<text x="220.60" y="243.80" font-size="5.6" fill="#333" stroke="#333" stroke-width="0.18" text-anchor="middle">20</text>
<text x="241.50" y="243.80" font-size="5.6" fill="#333" stroke="#333" stroke-width="0.18" text-anchor="middle">40</text>
<text x="200.35" y="250.10" font-size="6.1" fill="#111" stroke="#111" stroke-width="0.15" text-anchor="middle">tSNE_1</text>
<text transform="translate(143.50 210.15) rotate(-90)" font-size="6.1" fill="#111" stroke="#111" stroke-width="0.15" text-anchor="middle">tSNE_2</text>
<text x="200.44" y="196.84" font-size="5.8" fill="#444" text-anchor="middle">SMC</text>
<text x="177.63" y="212.23" font-size="5.8" fill="#444" text-anchor="middle">LE</text>
<text x="198.33" y="218.90" font-size="5.8" fill="#444" text-anchor="middle">LCC</text>
<text x="196.23" y="225.02" font-size="5.8" fill="#444" text-anchor="middle">CST</text>
<text x="175.95" y="232.17" font-size="5.8" fill="#444" text-anchor="middle">CE</text>
<text x="213.47" y="215.21" font-size="5.8" fill="#444" text-anchor="middle">STF</text>
<text x="225.77" y="221.57" font-size="5.8" fill="#444" text-anchor="middle">GE</text>
<text x="136.50" y="175.40" font-size="10.2" font-weight="bold" fill="#000">H</text>
<text x="200.35" y="179.10" font-size="7.2" font-weight="bold" fill="#000" stroke="#000" stroke-width="0.2" text-anchor="middle">FURIN</text>
<rect x="249.90" y="194.30" width="7.30" height="34.80" fill="url(#cg)"/>
<text x="260.20" y="199.90" font-size="5.6" fill="#333" stroke="#333" stroke-width="0.15">8</text>
<text x="260.20" y="207.40" font-size="5.6" fill="#333" stroke="#333" stroke-width="0.15">6</text>
<text x="260.20" y="215.30" font-size="5.6" fill="#333" stroke="#333" stroke-width="0.15">4</text>
<text x="260.20" y="223.20" font-size="5.6" fill="#333" stroke="#333" stroke-width="0.15">2</text>
<text x="260.20" y="231.10" font-size="5.6" fill="#333" stroke="#333" stroke-width="0.15">0</text>
<g transform="translate(331.69 213.57) scale(0.4555 0.3900)" fill="none" stroke-linecap="round" stroke-width="1.70">
<use href="#nLE0" stroke="#c0c0c0" vector-effect="non-scaling-stroke"/>
<use href="#dLE0" stroke="#a2a2a2" vector-effect="non-scaling-stroke"/>
<use href="#nSTF0" stroke="#c0c0c0" vector-effect="non-scaling-stroke"/>
<use href="#dSTF0" stroke="#a2a2a2" vector-effect="non-scaling-stroke"/>
<use href="#nGE0" stroke="#c0c0c0" vector-effect="non-scaling-stroke"/>
<use href="#dGE0" stroke="#a2a2a2" vector-effect="non-scaling-stroke"/>
<use href="#nSMC0" stroke="#c0c0c0" vector-effect="non-scaling-stroke"/>
<use href="#dSMC0" stroke="#a2a2a2" vector-effect="non-scaling-stroke"/>
<use href="#nCST0" stroke="#c0c0c0" vector-effect="non-scaling-stroke"/>
<use href="#dCST0" stroke="#a2a2a2" vector-effect="non-scaling-stroke"/>
<use href="#nLCC0" stroke="#c0c0c0" vector-effect="non-scaling-stroke"/>
<use href="#dLCC0" stroke="#a2a2a2" vector-effect="non-scaling-stroke"/>
<use href="#nCE0" stroke="#c0c0c0" vector-effect="non-scaling-stroke"/>
<use href="#dCE0" stroke="#a2a2a2" vector-effect="non-scaling-stroke"/>
<use href="#nDOT0" stroke="#c0c0c0" vector-effect="non-scaling-stroke"/>
<use href="#dDOT0" stroke="#a2a2a2" vector-effect="non-scaling-stroke"/>
<path d="M-52 -9h0M21 47h0" stroke="#83739d" vector-effect="non-scaling-stroke"/>
<path d="M-63 5h0M-30 -1h0M29 30h0M34 36h0M55 3h0M41 -3h0" stroke="#a886e8" vector-effect="non-scaling-stroke"/>
<path d="M-45 7h0M-72 -6h0M13 6h0M54 -4h0" stroke="#765ea2" vector-effect="non-scaling-stroke"/>
<path d="M-24 -12h0M20 36h0M24 -7h0M29 -12h0M44 26h0M64 5h0M56 6h0M51 0h0" stroke="#9068ef" vector-effect="non-scaling-stroke"/>
<path d="M-22 -14h0" stroke="#6549a7" vector-effect="non-scaling-stroke"/>
<path d="M-36 8h0M-47 1h0M-50 -4h0M-39 -8h0M-25 -10h0M-50 -17h0M-27 -31h0M38 23h0M35 5h0M56 12h0M57 -6h0M52 -4h0M35 9h0M1 -42h0" stroke="#7248f6" vector-effect="non-scaling-stroke"/>
<path d="M-34 2h0M17 33h0" stroke="#5032ac" vector-effect="non-scaling-stroke"/>
<path d="M-42 28h0M-51 -3h0M-51 -4h0M25 36h0M18 -22h0M61 5h0" stroke="#4322fc" vector-effect="non-scaling-stroke"/>
<path d="M60 -7h0" stroke="#2f18b0" vector-effect="non-scaling-stroke"/>
<use href="#nLE1" stroke="#c0c0c0" vector-effect="non-scaling-stroke"/>
<use href="#dLE1" stroke="#a2a2a2" vector-effect="non-scaling-stroke"/>
<use href="#nSTF1" stroke="#c0c0c0" vector-effect="non-scaling-stroke"/>
<use href="#dSTF1" stroke="#a2a2a2" vector-effect="non-scaling-stroke"/>
<use href="#nGE1" stroke="#c0c0c0" vector-effect="non-scaling-stroke"/>
<use href="#dGE1" stroke="#a2a2a2" vector-effect="non-scaling-stroke"/>
<use href="#nSMC1" stroke="#c0c0c0" vector-effect="non-scaling-stroke"/>
<use href="#dSMC1" stroke="#a2a2a2" vector-effect="non-scaling-stroke"/>
<use href="#nCST1" stroke="#c0c0c0" vector-effect="non-scaling-stroke"/>
<use href="#dCST1" stroke="#a2a2a2" vector-effect="non-scaling-stroke"/>
<use href="#nLCC1" stroke="#c0c0c0" vector-effect="non-scaling-stroke"/>
<use href="#dLCC1" stroke="#a2a2a2" vector-effect="non-scaling-stroke"/>
<use href="#nCE1" stroke="#c0c0c0" vector-effect="non-scaling-stroke"/>
<use href="#dCE1" stroke="#a2a2a2" vector-effect="non-scaling-stroke"/>
<use href="#nDOT1" stroke="#c0c0c0" vector-effect="non-scaling-stroke"/>
<use href="#dDOT1" stroke="#a2a2a2" vector-effect="non-scaling-stroke"/>
<path d="M47 10h0M40 5h0" stroke="#bba5e0" vector-effect="non-scaling-stroke"/>
<path d="M-73 6h0" stroke="#83739d" vector-effect="non-scaling-stroke"/>
<path d="M-45 18h0M-41 8h0M-53 0h0M-34 0h0M-36 -39h0M10 14h0M25 -9h0M24 35h0M45 30h0M61 22h0M57 16h0M60 -1h0M34 -15h0M53 -15h0M37 -7h0M-4 26h0" stroke="#a886e8" vector-effect="non-scaling-stroke"/>
<path d="M-26 -19h0M30 39h0M13 6h0M32 5h0M38 -2h0M62 -5h0" stroke="#765ea2" vector-effect="non-scaling-stroke"/>
<path d="M-28 8h0M-68 6h0M-47 1h0M-33 2h0M-63 -4h0M19 -22h0M15 -15h0M51 28h0M59 25h0M51 -14h0M44 14h0M-5 -45h0" stroke="#9068ef" vector-effect="non-scaling-stroke"/>
<path d="M-38 7h0M28 37h0M66 13h0M57 -5h0" stroke="#6549a7" vector-effect="non-scaling-stroke"/>
<path d="M-46 19h0M-47 16h0M-24 -32h0M-36 16h0M21 -10h0M22 -17h0M38 -19h0M23 43h0M58 10h0M49 4h0M41 -14h0M47 21h0" stroke="#7248f6" vector-effect="non-scaling-stroke"/>
<path d="M-53 14h0M-18 -14h0M-20 -23h0M27 46h0M28 40h0" stroke="#5032ac" vector-effect="non-scaling-stroke"/>
<path d="M-45 32h0M-40 15h0M-34 -9h0M-46 -16h0M10 6h0M48 25h0M57 9h0M65 4h0" stroke="#4322fc" vector-effect="non-scaling-stroke"/>
<use href="#nLE2" stroke="#c0c0c0" vector-effect="non-scaling-stroke"/>
<use href="#dLE2" stroke="#a2a2a2" vector-effect="non-scaling-stroke"/>
<use href="#nSTF2" stroke="#c0c0c0" vector-effect="non-scaling-stroke"/>
<use href="#dSTF2" stroke="#a2a2a2" vector-effect="non-scaling-stroke"/>
<use href="#nGE2" stroke="#c0c0c0" vector-effect="non-scaling-stroke"/>
<use href="#dGE2" stroke="#a2a2a2" vector-effect="non-scaling-stroke"/>
<use href="#nSMC2" stroke="#c0c0c0" vector-effect="non-scaling-stroke"/>
<use href="#dSMC2" stroke="#a2a2a2" vector-effect="non-scaling-stroke"/>
<use href="#nCST2" stroke="#c0c0c0" vector-effect="non-scaling-stroke"/>
<use href="#dCST2" stroke="#a2a2a2" vector-effect="non-scaling-stroke"/>
<use href="#nLCC2" stroke="#c0c0c0" vector-effect="non-scaling-stroke"/>
<use href="#dLCC2" stroke="#a2a2a2" vector-effect="non-scaling-stroke"/>
<use href="#nCE2" stroke="#c0c0c0" vector-effect="non-scaling-stroke"/>
<use href="#dCE2" stroke="#a2a2a2" vector-effect="non-scaling-stroke"/>
<use href="#nDOT2" stroke="#c0c0c0" vector-effect="non-scaling-stroke"/>
<use href="#dDOT2" stroke="#a2a2a2" vector-effect="non-scaling-stroke"/>
<path d="M-54 13h0M-65 -6h0M-28 -13h0M43 29h0M58 7h0" stroke="#bba5e0" vector-effect="non-scaling-stroke"/>
<path d="M60 15h0" stroke="#83739d" vector-effect="non-scaling-stroke"/>
<path d="M-69 12h0M-47 -28h0M14 41h0M26 20h0M27 15h0M23 -10h0M25 -3h0M59 14h0M38 1h0M35 -14h0M42 -1h0" stroke="#a886e8" vector-effect="non-scaling-stroke"/>
<path d="M-37 13h0M-29 5h0M31 22h0M69 11h0M54 -4h0" stroke="#765ea2" vector-effect="non-scaling-stroke"/>
<path d="M-68 5h0M58 19h0M45 17h0" stroke="#9068ef" vector-effect="non-scaling-stroke"/>
<path d="M-60 -15h0M13 -18h0M43 26h0" stroke="#6549a7" vector-effect="non-scaling-stroke"/>
<path d="M-64 -19h0M-50 -33h0M21 -16h0M22 42h0M55 17h0M59 14h0M61 2h0M65 0h0M36 -9h0M-6 26h0" stroke="#7248f6" vector-effect="non-scaling-stroke"/>
<path d="M19 32h0M35 5h0M70 11h0M63 -1h0M58 -12h0" stroke="#5032ac" vector-effect="non-scaling-stroke"/>
<path d="M-37 15h0M-67 4h0M-40 -33h0M8 -11h0M65 18h0M54 12h0" stroke="#4322fc" vector-effect="non-scaling-stroke"/>
<path d="M46 31h0" stroke="#2f18b0" vector-effect="non-scaling-stroke"/>
<use href="#chan" stroke="#efefef" stroke-width="0.6" vector-effect="non-scaling-stroke"/>
</g>
<path d="M295.50 184.10V236.50H370.00" fill="none" stroke="#5a5a5a" stroke-width="1"/>
<path d="M295.30 197.90h-1.1M295.30 213.70h-1.1M295.30 229.10h-1.1M313.50 236.40v1.1M331.60 236.40v1.1M350.00 236.40v1.1M368.10 236.40v1.1" fill="none" stroke="#333" stroke-width="0.45"/>
<text x="292.70" y="199.90" font-size="5.6" fill="#333" stroke="#333" stroke-width="0.18" text-anchor="end">20</text>
<text x="292.70" y="215.70" font-size="5.6" fill="#333" stroke="#333" stroke-width="0.18" text-anchor="end">0</text>
<text x="292.70" y="231.10" font-size="5.6" fill="#333" stroke="#333" stroke-width="0.18" text-anchor="end">-20</text>
<text x="313.50" y="244.00" font-size="5.6" fill="#333" stroke="#333" stroke-width="0.18" text-anchor="middle">-20</text>
<text x="331.60" y="244.00" font-size="5.6" fill="#333" stroke="#333" stroke-width="0.18" text-anchor="middle">0</text>
<text x="350.00" y="244.00" font-size="5.6" fill="#333" stroke="#333" stroke-width="0.18" text-anchor="middle">20</text>
<text x="368.10" y="244.00" font-size="5.6" fill="#333" stroke="#333" stroke-width="0.18" text-anchor="middle">40</text>
<text x="332.65" y="250.30" font-size="6.1" fill="#111" stroke="#111" stroke-width="0.15" text-anchor="middle">tSNE_1</text>
<text transform="translate(281.10 210.25) rotate(-90)" font-size="6.1" fill="#111" stroke="#111" stroke-width="0.15" text-anchor="middle">tSNE_2</text>
<text x="332.51" y="196.90" font-size="5.8" fill="#444" text-anchor="middle">SMC</text>
<text x="312.74" y="212.18" font-size="5.8" fill="#444" text-anchor="middle">LE</text>
<text x="330.69" y="218.81" font-size="5.8" fill="#444" text-anchor="middle">LCC</text>
<text x="328.87" y="224.90" font-size="5.8" fill="#444" text-anchor="middle">CST</text>
<text x="311.28" y="232.00" font-size="5.8" fill="#444" text-anchor="middle">CE</text>
<text x="343.81" y="215.15" font-size="5.8" fill="#444" text-anchor="middle">STF</text>
<text x="354.47" y="221.47" font-size="5.8" fill="#444" text-anchor="middle">GE</text>
<text x="271.70" y="175.20" font-size="10.2" font-weight="bold" fill="#000">I</text>
<text x="332.65" y="179.10" font-size="7.2" font-weight="bold" fill="#000" stroke="#000" stroke-width="0.2" text-anchor="middle">MX1</text>
<rect x="375.90" y="194.30" width="6.90" height="34.80" fill="url(#cg)"/>
<text x="385.80" y="199.90" font-size="5.6" fill="#333" stroke="#333" stroke-width="0.15">10.0</text>
<text x="385.80" y="207.40" font-size="5.6" fill="#333" stroke="#333" stroke-width="0.15">7.5</text>
<text x="385.80" y="215.30" font-size="5.6" fill="#333" stroke="#333" stroke-width="0.15">5.0</text>
<text x="385.80" y="223.20" font-size="5.6" fill="#333" stroke="#333" stroke-width="0.15">2.5</text>
<text x="385.80" y="231.10" font-size="5.6" fill="#333" stroke="#333" stroke-width="0.15">0.0</text>
<circle cx="106.1" cy="13.30" r="1.75" fill="#0b650b"/>
<text x="112.5" y="15.25" font-size="5.4" fill="#222" stroke="#222" stroke-width="0.25">LE</text>
<circle cx="106.1" cy="20.30" r="1.75" fill="#dcbcc8"/>
<text x="112.5" y="22.25" font-size="5.4" fill="#222" stroke="#222" stroke-width="0.25">STF</text>
<circle cx="106.1" cy="27.50" r="1.75" fill="#e6ec28"/>
<text x="112.5" y="29.45" font-size="5.4" fill="#222" stroke="#222" stroke-width="0.25">GE</text>
<circle cx="106.1" cy="35.10" r="1.75" fill="#9c55b0"/>
<text x="112.5" y="37.05" font-size="5.4" fill="#222" stroke="#222" stroke-width="0.25">SMC</text>
<circle cx="106.1" cy="42.80" r="1.75" fill="#a4bcd8"/>
<text x="112.5" y="44.75" font-size="5.4" fill="#222" stroke="#222" stroke-width="0.25">CST</text>
<circle cx="106.1" cy="50.30" r="1.75" fill="#1d4fae"/>
<text x="112.5" y="52.25" font-size="5.4" fill="#222" stroke="#222" stroke-width="0.25">CE</text>
<circle cx="106.1" cy="57.60" r="1.75" fill="#b46638"/>
<text x="112.5" y="59.55" font-size="5.4" fill="#222" stroke="#222" stroke-width="0.25">LCC</text>
</svg></body></html>
